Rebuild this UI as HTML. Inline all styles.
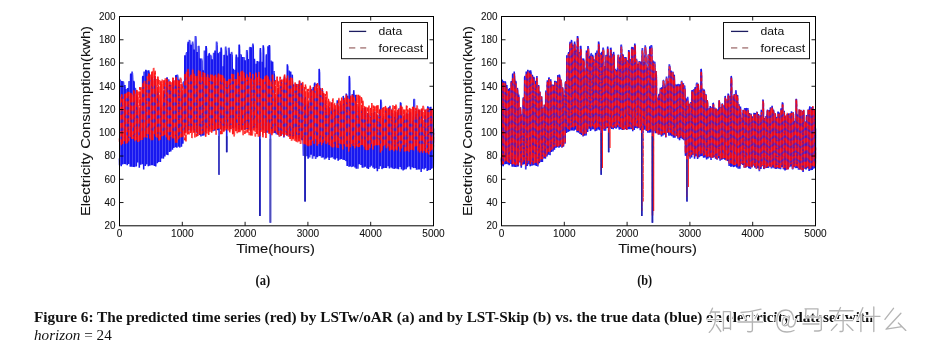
<!DOCTYPE html>
<html><head><meta charset="utf-8"><style>
html,body{margin:0;padding:0;background:#fff;width:932px;height:358px;overflow:hidden}
svg{display:block;will-change:transform}
.tk{font-family:"Liberation Sans",sans-serif;font-size:10px;fill:#111;stroke:#111;stroke-width:0.08px}
.al{font-family:"Liberation Sans",sans-serif;font-size:12.3px;fill:#111;stroke:#111;stroke-width:0.1px}
.lg{font-family:"Liberation Sans",sans-serif;font-size:11px;fill:#111}
.cap{font-family:"Liberation Serif",serif;font-size:15.2px;font-weight:bold;fill:#111}
.cap2{font-family:"Liberation Serif",serif;font-size:15.2px;fill:#111}
.sub{font-family:"Liberation Serif",serif;font-size:14px;font-weight:bold;fill:#111}
</style></head><body>
<svg width="932" height="358" viewBox="0 0 932 358">
<defs><path id="dat" d="M119.50 158.6L119.56 161.8 119.63 165.2 119.69 164.7 119.75 163.0 119.81 152.7 119.88 130.4 119.94 101.3 120.00 87.1 120.07 79.4 120.13 82.3 120.19 81.4 120.25 81.5 120.32 79.9 120.38 81.9 120.44 83.2 120.50 81.2 120.57 84.7 120.63 90.1 120.69 98.6 120.76 116.7 120.82 133.9 120.88 148.7 120.94 156.3 121.01 160.1 121.07 165.2 121.13 165.7 121.20 166.2 121.26 162.1 121.32 154.3 121.38 132.7 121.45 103.8 121.51 87.9 121.57 83.0 121.64 81.1 121.70 82.4 121.76 81.0 121.82 82.5 121.89 82.5 121.95 82.4 122.01 83.9 122.07 87.3 122.14 89.4 122.20 99.8 122.26 118.0 122.33 134.8 122.39 150.2 122.45 157.0 122.51 157.9 122.58 161.4 122.64 164.4 122.70 163.3 122.77 161.6 122.83 153.2 122.89 128.8 122.95 101.2 123.02 89.0 123.08 82.7 123.14 82.4 123.21 82.5 123.27 81.3 123.33 82.2 123.39 81.8 123.46 83.1 123.52 82.8 123.58 84.9 123.64 90.4 123.71 99.3 123.77 116.5 123.83 134.1 123.90 147.0 123.96 156.0 124.02 156.8 124.08 159.8 124.15 163.5 124.21 163.8 124.27 163.4 124.34 154.6 124.40 133.4 124.46 105.1 124.52 93.1 124.59 87.7 124.65 86.0 124.71 86.2 124.78 87.0 124.84 87.4 124.90 84.9 124.96 87.9 125.03 88.8 125.09 89.9 125.15 94.9 125.21 104.2 125.28 117.9 125.34 136.1 125.40 147.6 125.47 154.5 125.53 160.1 125.59 164.3 125.65 162.9 125.72 162.7 125.78 161.2 125.84 157.5 125.91 134.8 125.97 109.3 126.03 95.4 126.09 90.1 126.16 89.0 126.22 91.2 126.28 91.3 126.35 89.0 126.41 90.7 126.47 91.0 126.53 92.5 126.60 94.2 126.66 99.5 126.72 108.5 126.78 122.9 126.85 139.4 126.91 148.6 126.97 156.6 127.04 161.9 127.10 164.0 127.16 165.3 127.22 163.3 127.29 161.9 127.35 156.9 127.41 135.4 127.48 108.2 127.54 94.5 127.60 87.9 127.66 90.0 127.73 90.6 127.79 91.2 127.85 89.6 127.92 90.1 127.98 89.2 128.04 92.3 128.10 94.3 128.17 96.6 128.23 106.6 128.29 121.5 128.35 137.5 128.42 147.7 128.48 157.5 128.54 159.9 128.61 161.1 128.67 163.4 128.73 160.9 128.79 163.9 128.86 154.8 128.92 131.3 128.98 102.1 129.05 86.9 129.11 81.6 129.17 81.4 129.23 81.5 129.30 81.7 129.36 81.8 129.42 84.1 129.49 81.1 129.55 83.6 129.61 84.4 129.67 88.8 129.74 97.5 129.80 117.0 129.86 133.6 129.92 147.0 129.99 156.5 130.05 159.3 130.11 164.0 130.18 165.7 130.24 166.6 130.30 165.0 130.36 154.0 130.43 130.3 130.49 97.5 130.55 81.3 130.62 74.6 130.68 75.6 130.74 73.6 130.80 75.1 130.87 76.0 130.93 75.4 130.99 77.7 131.06 75.9 131.12 78.7 131.18 83.4 131.24 94.2 131.31 111.9 131.37 132.5 131.43 147.6 131.49 156.0 131.56 161.3 131.62 165.6 131.68 164.4 131.75 166.8 131.81 164.3 131.87 155.1 131.93 131.5 132.00 97.9 132.06 80.4 132.12 73.8 132.19 71.5 132.25 74.4 132.31 72.9 132.37 73.8 132.44 74.7 132.50 75.5 132.56 77.5 132.63 78.3 132.69 84.2 132.75 93.7 132.81 112.9 132.88 133.5 132.94 146.1 133.00 158.8 133.06 159.2 133.13 161.9 133.19 166.5 133.25 167.0 133.32 162.5 133.38 154.3 133.44 134.6 133.50 102.3 133.57 85.2 133.63 80.7 133.69 83.3 133.76 82.0 133.82 82.1 133.88 82.5 133.94 82.8 134.01 81.8 134.07 81.4 134.13 85.1 134.20 88.5 134.26 99.6 134.32 118.2 134.38 135.4 134.45 148.3 134.51 156.7 134.57 162.3 134.63 165.6 134.70 164.9 134.76 166.4 134.82 166.4 134.89 157.7 134.95 134.5 135.01 107.5 135.07 92.2 135.14 88.1 135.20 90.5 135.26 88.8 135.33 88.0 135.39 88.3 135.45 89.5 135.51 89.5 135.58 90.0 135.64 91.2 135.70 97.2 135.77 107.4 135.83 120.8 135.89 137.9 135.95 152.0 136.02 157.1 136.08 161.4 136.14 164.4 136.20 166.4 136.27 165.9 136.33 163.9 136.39 158.2 136.46 137.1 136.52 112.1 136.58 99.2 136.64 97.1 136.71 94.6 136.77 96.8 136.83 97.1 136.90 97.2 136.96 96.9 137.02 96.5 137.08 97.9 137.15 98.6 137.21 102.1 137.27 113.0 137.34 124.8 137.40 142.9 137.46 152.8 137.52 158.8 137.59 159.5 137.65 162.4 137.71 160.9 137.77 161.3 137.84 160.1 137.90 156.0 137.96 141.2 138.03 122.0 138.09 111.6 138.15 108.0 138.21 109.7 138.28 109.6 138.34 108.7 138.40 107.2 138.47 109.7 138.53 109.3 138.59 109.9 138.65 112.4 138.72 114.7 138.78 119.4 138.84 130.1 138.91 144.3 138.97 151.8 139.03 157.8 139.09 163.0 139.16 164.2 139.22 166.5 139.28 167.8 139.34 165.6 139.41 159.0 139.47 145.4 139.53 127.1 139.60 118.5 139.66 115.8 139.72 116.7 139.78 115.0 139.85 114.3 139.91 114.8 139.97 115.3 140.04 114.9 140.10 115.8 140.16 116.8 140.22 118.8 140.29 126.7 140.35 136.1 140.41 146.8 140.48 156.5 140.54 160.7 140.60 162.5 140.66 163.9 140.73 164.8 140.79 164.0 140.85 163.0 140.91 157.6 140.98 137.3 141.04 115.4 141.10 100.6 141.17 98.2 141.23 98.8 141.29 98.3 141.35 98.0 141.42 99.0 141.48 97.8 141.54 97.7 141.61 99.4 141.67 101.9 141.73 105.1 141.79 112.5 141.86 126.3 141.92 141.2 141.98 150.1 142.05 155.3 142.11 158.4 142.17 161.4 142.23 164.1 142.30 163.5 142.36 162.1 142.42 154.7 142.48 129.9 142.55 99.3 142.61 85.3 142.67 77.1 142.74 77.2 142.80 78.8 142.86 76.4 142.92 75.9 142.99 79.7 143.05 78.8 143.11 79.9 143.18 81.7 143.24 87.2 143.30 96.3 143.36 114.1 143.43 132.2 143.49 147.4 143.55 156.3 143.62 160.3 143.68 165.2 143.74 169.4 143.80 165.3 143.87 165.4 143.93 156.1 143.99 129.8 144.05 94.8 144.12 79.8 144.18 72.7 144.24 71.9 144.31 71.7 144.37 72.3 144.43 72.9 144.49 73.8 144.56 75.3 144.62 73.6 144.68 76.4 144.75 81.0 144.81 93.6 144.87 111.9 144.93 131.9 145.00 146.3 145.06 156.3 145.12 159.7 145.19 164.7 145.25 165.9 145.31 163.9 145.37 162.7 145.44 153.9 145.50 127.7 145.56 95.2 145.62 79.1 145.69 72.0 145.75 71.1 145.81 69.9 145.88 71.4 145.94 70.1 146.00 72.5 146.06 73.0 146.13 72.3 146.19 75.3 146.25 80.7 146.32 94.1 146.38 111.3 146.44 129.5 146.50 146.7 146.57 156.0 146.63 157.7 146.69 161.2 146.76 164.0 146.82 164.1 146.88 162.0 146.94 151.4 147.01 126.5 147.07 93.2 147.13 76.8 147.19 71.3 147.26 70.8 147.32 71.4 147.38 74.3 147.45 72.3 147.51 71.9 147.57 70.6 147.63 72.8 147.70 74.1 147.76 78.8 147.82 92.7 147.89 109.8 147.95 130.9 148.01 148.2 148.07 154.5 148.14 160.9 148.20 164.9 148.26 166.2 148.33 165.7 148.39 164.4 148.45 156.2 148.51 128.1 148.58 93.7 148.64 76.6 148.70 70.2 148.76 71.2 148.83 71.7 148.89 71.7 148.95 72.4 149.02 72.0 149.08 73.0 149.14 73.5 149.20 75.8 149.27 78.9 149.33 93.5 149.39 109.8 149.46 131.2 149.52 148.3 149.58 156.7 149.64 161.9 149.71 163.9 149.77 164.5 149.83 165.7 149.90 163.3 149.96 156.3 150.02 131.3 150.08 99.1 150.15 81.9 150.21 76.1 150.27 77.0 150.33 75.2 150.40 75.2 150.46 76.8 150.52 77.6 150.59 76.7 150.65 77.5 150.71 77.6 150.77 86.1 150.84 95.6 150.90 112.2 150.96 132.2 151.03 146.8 151.09 158.3 151.15 158.8 151.21 160.2 151.28 165.1 151.34 164.6 151.40 160.5 151.47 150.3 151.53 129.9 151.59 98.2 151.65 83.2 151.72 76.8 151.78 78.6 151.84 78.8 151.90 78.1 151.97 77.2 152.03 78.4 152.09 78.8 152.16 77.5 152.22 82.0 152.28 85.6 152.34 96.5 152.41 113.6 152.47 133.3 152.53 147.2 152.60 156.9 152.66 159.9 152.72 162.6 152.78 165.3 152.85 164.5 152.91 164.4 152.97 154.5 153.04 132.2 153.10 104.1 153.16 89.3 153.22 82.7 153.29 83.9 153.35 83.7 153.41 80.7 153.47 82.8 153.54 83.5 153.60 83.0 153.66 83.5 153.73 85.8 153.79 91.1 153.85 100.9 153.91 118.6 153.98 136.4 154.04 148.1 154.10 156.2 154.17 161.1 154.23 163.0 154.29 165.6 154.35 165.9 154.42 164.7 154.48 155.5 154.54 132.2 154.61 99.9 154.67 85.4 154.73 78.0 154.79 78.9 154.86 78.8 154.92 77.7 154.98 76.1 155.04 80.5 155.11 79.9 155.17 80.6 155.23 81.4 155.30 87.0 155.36 98.2 155.42 115.1 155.48 135.4 155.55 148.2 155.61 155.8 155.67 162.2 155.74 164.0 155.80 166.4 155.86 164.2 155.92 164.0 155.99 156.8 156.05 133.3 156.11 106.1 156.18 92.4 156.24 86.3 156.30 88.0 156.36 86.0 156.43 86.1 156.49 86.1 156.55 85.0 156.61 85.5 156.68 88.3 156.74 89.0 156.80 95.4 156.87 103.3 156.93 118.8 156.99 137.1 157.05 148.8 157.12 157.8 157.18 157.3 157.24 161.5 157.31 163.1 157.37 162.8 157.43 161.9 157.49 154.7 157.56 134.2 157.62 109.2 157.68 98.2 157.75 92.4 157.81 93.3 157.87 93.7 157.93 92.6 158.00 91.5 158.06 92.8 158.12 93.9 158.18 93.5 158.25 96.3 158.31 99.3 158.37 107.6 158.44 120.4 158.50 135.9 158.56 147.9 158.62 153.2 158.69 157.3 158.75 159.3 158.81 162.0 158.88 159.7 158.94 159.2 159.00 154.5 159.06 137.3 159.13 113.7 159.19 103.6 159.25 96.2 159.32 99.0 159.38 98.5 159.44 97.0 159.50 96.4 159.57 98.3 159.63 99.1 159.69 99.8 159.75 100.8 159.82 105.2 159.88 112.6 159.94 122.9 160.01 137.5 160.07 147.3 160.13 155.0 160.19 156.3 160.26 159.8 160.32 159.8 160.38 162.0 160.45 158.5 160.51 153.4 160.57 139.0 160.63 121.4 160.70 114.5 160.76 108.0 160.82 107.6 160.89 108.3 160.95 109.1 161.01 107.5 161.07 109.8 161.14 109.7 161.20 109.3 161.26 110.2 161.32 112.7 161.39 119.3 161.45 128.8 161.51 141.9 161.58 150.2 161.64 153.3 161.70 155.1 161.76 155.3 161.83 157.7 161.89 158.5 161.95 157.3 162.02 152.0 162.08 138.3 162.14 119.5 162.20 109.8 162.27 108.2 162.33 104.7 162.39 105.4 162.46 105.8 162.52 105.9 162.58 106.3 162.64 106.9 162.71 106.9 162.77 108.5 162.83 112.2 162.89 117.8 162.96 128.0 163.02 138.0 163.08 145.9 163.15 151.7 163.21 154.4 163.27 156.4 163.33 158.4 163.40 158.2 163.46 157.0 163.52 148.5 163.59 132.3 163.65 109.1 163.71 98.7 163.77 92.7 163.84 92.4 163.90 92.0 163.96 92.3 164.03 90.5 164.09 92.5 164.15 92.7 164.21 94.4 164.28 94.0 164.34 98.7 164.40 108.1 164.46 118.6 164.53 134.0 164.59 142.9 164.65 149.7 164.72 152.5 164.78 155.8 164.84 155.9 164.90 155.4 164.97 156.4 165.03 147.6 165.09 127.3 165.16 101.3 165.22 87.8 165.28 81.6 165.34 81.7 165.41 80.3 165.47 82.0 165.53 81.4 165.60 82.5 165.66 84.4 165.72 84.0 165.78 84.8 165.85 87.9 165.91 98.9 165.97 114.5 166.03 128.4 166.10 141.5 166.16 147.9 166.22 150.5 166.29 153.3 166.35 153.6 166.41 154.6 166.47 152.0 166.54 147.2 166.60 125.3 166.66 97.4 166.73 83.8 166.79 78.2 166.85 78.3 166.91 78.3 166.98 77.9 167.04 77.9 167.10 77.5 167.17 77.9 167.23 79.0 167.29 81.4 167.35 85.4 167.42 96.8 167.48 110.1 167.54 126.7 167.60 139.7 167.67 147.9 167.73 152.8 167.79 154.9 167.86 154.8 167.92 155.2 167.98 154.9 168.04 146.7 168.11 126.3 168.17 99.5 168.23 87.7 168.30 82.4 168.36 82.1 168.42 81.1 168.48 79.4 168.55 79.6 168.61 82.0 168.67 82.4 168.74 79.6 168.80 83.5 168.86 89.5 168.92 98.2 168.99 111.5 169.05 128.8 169.11 139.9 169.17 146.9 169.24 149.5 169.30 152.0 169.36 151.6 169.43 151.1 169.49 149.3 169.55 142.4 169.61 126.5 169.68 103.8 169.74 90.3 169.80 86.5 169.87 84.8 169.93 85.4 169.99 86.3 170.05 85.7 170.12 86.0 170.18 84.5 170.24 85.3 170.31 87.6 170.37 91.4 170.43 99.6 170.49 111.9 170.56 126.5 170.62 136.9 170.68 143.7 170.74 147.1 170.81 149.0 170.87 150.5 170.93 151.5 171.00 149.0 171.06 141.6 171.12 123.2 171.18 101.7 171.25 90.3 171.31 86.4 171.37 84.9 171.44 86.5 171.50 84.8 171.56 84.9 171.62 85.3 171.69 86.3 171.75 87.5 171.81 87.7 171.88 91.1 171.94 97.8 172.00 112.3 172.06 125.9 172.13 136.3 172.19 142.2 172.25 143.9 172.31 147.0 172.38 149.2 172.44 149.7 172.50 147.4 172.57 140.9 172.63 121.6 172.69 98.1 172.75 84.8 172.82 82.2 172.88 82.0 172.94 82.8 173.01 80.8 173.07 81.5 173.13 81.1 173.19 82.3 173.26 82.6 173.32 84.7 173.38 87.9 173.45 96.7 173.51 109.0 173.57 124.8 173.63 134.7 173.70 141.2 173.76 145.1 173.82 148.0 173.88 147.6 173.95 147.5 174.01 147.8 174.07 140.8 174.14 120.2 174.20 97.0 174.26 85.9 174.32 82.2 174.39 82.1 174.45 82.9 174.51 83.1 174.58 84.2 174.64 81.2 174.70 82.6 174.76 84.3 174.83 83.4 174.89 87.2 174.95 96.8 175.02 111.0 175.08 125.8 175.14 133.5 175.20 140.7 175.27 142.5 175.33 144.9 175.39 147.1 175.45 146.9 175.52 147.1 175.58 138.2 175.64 118.8 175.71 94.1 175.77 82.5 175.83 75.4 175.89 76.8 175.96 75.7 176.02 75.1 176.08 77.6 176.15 77.7 176.21 78.5 176.27 78.1 176.33 79.9 176.40 83.6 176.46 92.4 176.52 105.5 176.59 122.9 176.65 131.5 176.71 141.0 176.77 142.8 176.84 146.6 176.90 147.3 176.96 147.6 177.02 147.2 177.09 138.8 177.15 118.1 177.21 94.6 177.28 82.4 177.34 74.5 177.40 77.8 177.46 77.9 177.53 75.1 177.59 76.7 177.65 78.4 177.72 76.4 177.78 77.8 177.84 79.3 177.90 84.4 177.97 93.3 178.03 106.2 178.09 121.6 178.16 133.6 178.22 140.2 178.28 142.7 178.34 146.7 178.41 145.2 178.47 146.8 178.53 144.9 178.59 138.2 178.66 120.6 178.72 97.6 178.78 88.3 178.85 81.9 178.91 81.6 178.97 82.9 179.03 82.3 179.10 79.5 179.16 82.1 179.22 82.7 179.29 82.0 179.35 84.2 179.41 87.3 179.47 95.9 179.54 106.9 179.60 120.8 179.66 132.5 179.73 139.7 179.79 144.6 179.85 145.3 179.91 146.0 179.98 147.6 180.04 145.5 180.10 141.5 180.16 123.4 180.23 101.3 180.29 92.0 180.35 87.8 180.42 87.4 180.48 88.0 180.54 88.1 180.60 88.5 180.67 88.8 180.73 89.7 180.79 90.3 180.86 91.2 180.92 94.7 180.98 99.5 181.04 111.2 181.11 124.6 181.17 134.9 181.23 138.9 181.30 141.5 181.36 144.1 181.42 146.7 181.48 145.0 181.55 143.2 181.61 139.9 181.67 125.4 181.73 107.8 181.80 100.4 181.86 95.0 181.92 96.1 181.99 96.0 182.05 96.8 182.11 94.8 182.17 95.1 182.24 96.0 182.30 96.6 182.36 97.9 182.43 100.4 182.49 107.0 182.55 116.9 182.61 127.0 182.68 133.4 182.74 140.4 182.80 137.9 182.87 141.6 182.93 143.8 182.99 142.3 183.05 143.0 183.12 137.5 183.18 120.3 183.24 98.1 183.30 87.8 183.37 82.1 183.43 83.0 183.49 83.0 183.56 82.7 183.62 82.7 183.68 83.0 183.74 81.2 183.81 84.1 183.87 85.1 183.93 90.1 184.00 95.0 184.06 104.4 184.12 115.8 184.18 122.5 184.25 125.5 184.31 126.5 184.37 128.4 184.44 131.4 184.50 132.9 184.56 127.9 184.62 121.4 184.69 102.3 184.75 75.7 184.81 62.6 184.87 55.2 184.94 56.4 185.00 57.5 185.06 57.6 185.13 57.3 185.19 56.9 185.25 58.3 185.31 57.3 185.38 59.0 185.44 63.2 185.50 74.7 185.57 87.6 185.63 104.3 185.69 113.9 185.75 124.5 185.82 126.3 185.88 127.2 185.94 128.8 186.01 132.0 186.07 127.9 186.13 122.9 186.19 99.0 186.26 70.1 186.32 59.8 186.38 53.8 186.44 54.0 186.51 52.8 186.57 53.1 186.63 54.3 186.70 53.2 186.76 52.1 186.82 55.7 186.88 55.8 186.95 62.2 187.01 69.7 187.07 85.1 187.14 102.1 187.20 112.3 187.26 123.5 187.32 124.1 187.39 128.0 187.45 131.3 187.51 130.0 187.58 129.0 187.64 119.8 187.70 96.2 187.76 65.7 187.83 51.2 187.89 43.8 187.95 44.5 188.01 43.3 188.08 45.2 188.14 41.8 188.20 45.0 188.27 45.2 188.33 46.1 188.39 47.4 188.45 53.9 188.52 64.9 188.58 79.3 188.64 96.8 188.71 111.3 188.77 120.1 188.83 124.0 188.89 127.6 188.96 130.5 189.02 128.9 189.08 127.6 189.15 119.0 189.21 93.5 189.27 63.5 189.33 50.9 189.40 42.0 189.46 41.1 189.52 39.9 189.58 43.1 189.65 41.7 189.71 42.3 189.77 45.4 189.84 45.2 189.90 43.8 189.96 50.4 190.02 62.3 190.09 79.6 190.15 97.0 190.21 113.9 190.28 122.7 190.34 123.7 190.40 126.4 190.46 128.4 190.53 130.5 190.59 129.3 190.65 120.1 190.72 96.0 190.78 67.4 190.84 53.0 190.90 45.4 190.97 44.9 191.03 46.6 191.09 47.9 191.15 46.8 191.22 47.7 191.28 46.8 191.34 49.2 191.41 48.3 191.47 55.0 191.53 64.5 191.59 81.7 191.66 99.4 191.72 114.5 191.78 122.1 191.85 124.8 191.91 129.4 191.97 130.6 192.03 130.2 192.10 128.4 192.16 121.1 192.22 94.9 192.29 64.9 192.35 49.1 192.41 43.5 192.47 43.0 192.54 45.4 192.60 41.5 192.66 43.8 192.72 44.1 192.79 45.2 192.85 43.4 192.91 48.0 192.98 50.6 193.04 63.3 193.10 80.7 193.16 99.7 193.23 113.0 193.29 121.8 193.35 125.8 193.42 128.2 193.48 128.6 193.54 128.8 193.60 129.8 193.67 121.9 193.73 99.2 193.79 70.7 193.86 56.7 193.92 51.2 193.98 50.9 194.04 49.9 194.11 50.0 194.17 49.5 194.23 51.6 194.29 50.5 194.36 52.1 194.42 55.2 194.48 58.4 194.55 69.4 194.61 86.1 194.67 100.4 194.73 113.8 194.80 123.8 194.86 125.1 194.92 130.1 194.99 132.2 195.05 131.0 195.11 130.5 195.17 122.0 195.24 94.6 195.30 59.6 195.36 43.2 195.43 36.2 195.49 38.3 195.55 36.5 195.61 36.0 195.68 36.8 195.74 38.2 195.80 37.3 195.86 38.7 195.93 40.5 195.99 47.0 196.05 58.7 196.12 77.1 196.18 97.4 196.24 113.6 196.30 121.9 196.37 128.1 196.43 130.6 196.49 132.1 196.56 129.4 196.62 132.7 196.68 123.9 196.74 101.5 196.81 72.6 196.87 58.9 196.93 55.5 197.00 52.0 197.06 53.4 197.12 53.3 197.18 52.8 197.25 53.8 197.31 52.5 197.37 54.9 197.43 54.6 197.50 62.5 197.56 71.1 197.62 85.4 197.69 101.7 197.75 116.7 197.81 125.2 197.87 127.2 197.94 133.5 198.00 133.8 198.06 133.1 198.13 130.5 198.19 123.0 198.25 98.5 198.31 68.6 198.38 53.3 198.44 46.1 198.50 46.5 198.57 47.5 198.63 46.7 198.69 45.8 198.75 47.6 198.82 46.4 198.88 48.3 198.94 49.6 199.00 53.8 199.07 66.0 199.13 83.1 199.19 103.1 199.26 115.1 199.32 126.3 199.38 131.4 199.44 132.9 199.51 134.7 199.57 134.8 199.63 133.3 199.70 126.6 199.76 104.1 199.82 77.4 199.88 64.8 199.95 61.7 200.01 59.4 200.07 58.8 200.14 58.9 200.20 59.9 200.26 61.7 200.32 59.8 200.39 61.5 200.45 63.0 200.51 67.8 200.57 76.5 200.64 92.4 200.70 108.6 200.76 119.3 200.83 129.9 200.89 129.5 200.95 132.6 201.01 136.5 201.08 135.7 201.14 133.7 201.20 126.6 201.27 105.8 201.33 78.1 201.39 64.2 201.45 58.4 201.52 58.6 201.58 58.7 201.64 60.6 201.71 59.8 201.77 60.8 201.83 59.7 201.89 62.1 201.96 61.0 202.02 67.6 202.08 76.9 202.14 90.9 202.21 107.2 202.27 121.0 202.33 127.4 202.40 130.3 202.46 133.8 202.52 133.9 202.58 134.9 202.65 135.7 202.71 126.7 202.77 110.0 202.84 85.5 202.90 75.1 202.96 70.3 203.02 70.4 203.09 71.3 203.15 72.7 203.21 70.4 203.28 72.5 203.34 71.5 203.40 72.6 203.46 72.6 203.53 76.2 203.59 84.3 203.65 96.4 203.71 111.0 203.78 120.0 203.84 127.3 203.90 129.1 203.97 134.0 204.03 135.4 204.09 134.2 204.15 131.5 204.22 124.4 204.28 101.9 204.34 72.5 204.41 57.2 204.47 50.6 204.53 52.4 204.59 54.3 204.66 52.2 204.72 52.8 204.78 53.6 204.85 53.7 204.91 54.8 204.97 53.6 205.03 60.3 205.10 70.4 205.16 86.0 205.22 104.9 205.28 116.0 205.35 125.3 205.41 128.6 205.47 129.9 205.54 131.8 205.60 131.4 205.66 130.7 205.72 119.3 205.79 96.2 205.85 67.7 205.91 53.6 205.98 47.4 206.04 46.0 206.10 48.5 206.16 47.0 206.23 46.2 206.29 48.2 206.35 49.0 206.42 48.5 206.48 48.7 206.54 54.7 206.60 65.4 206.67 83.0 206.73 99.4 206.79 114.0 206.85 120.8 206.92 125.1 206.98 126.5 207.04 128.8 207.11 127.8 207.17 126.9 207.23 118.9 207.29 98.1 207.36 75.7 207.42 62.5 207.48 56.7 207.55 55.9 207.61 57.7 207.67 56.0 207.73 56.7 207.80 58.1 207.86 57.2 207.92 59.2 207.99 59.0 208.05 63.4 208.11 72.4 208.17 85.8 208.24 101.9 208.30 115.4 208.36 120.2 208.42 126.4 208.49 128.5 208.55 130.9 208.61 130.5 208.68 128.8 208.74 122.5 208.80 99.7 208.86 73.5 208.93 61.2 208.99 54.2 209.05 56.0 209.12 55.5 209.18 54.4 209.24 53.6 209.30 53.6 209.37 57.5 209.43 54.9 209.49 56.6 209.56 63.2 209.62 71.8 209.68 86.5 209.74 102.8 209.81 114.2 209.87 121.2 209.93 123.0 209.99 127.3 210.06 129.2 210.12 129.3 210.18 126.6 210.25 117.1 210.31 99.4 210.37 73.2 210.43 57.5 210.50 56.4 210.56 55.3 210.62 55.0 210.69 55.2 210.75 55.2 210.81 56.0 210.87 55.9 210.94 56.5 211.00 58.5 211.06 62.7 211.13 73.5 211.19 85.9 211.25 101.3 211.31 112.9 211.38 121.1 211.44 124.9 211.50 127.8 211.56 128.7 211.63 128.7 211.69 128.3 211.75 122.1 211.82 101.9 211.88 77.6 211.94 64.2 212.00 59.4 212.07 60.6 212.13 60.3 212.19 60.5 212.26 59.5 212.32 61.1 212.38 59.3 212.44 60.7 212.51 62.5 212.57 68.0 212.63 75.0 212.70 88.3 212.76 104.5 212.82 115.0 212.88 122.9 212.95 126.3 213.01 129.2 213.07 130.3 213.13 131.2 213.20 128.3 213.26 120.0 213.32 101.4 213.39 73.8 213.45 60.9 213.51 56.2 213.57 56.6 213.64 52.7 213.70 54.5 213.76 56.8 213.83 54.6 213.89 56.8 213.95 56.7 214.01 57.7 214.08 62.9 214.14 70.3 214.20 87.4 214.27 104.6 214.33 114.0 214.39 122.2 214.45 125.9 214.52 128.2 214.58 129.0 214.64 130.7 214.70 126.1 214.77 119.8 214.83 98.6 214.89 71.2 214.96 58.4 215.02 50.6 215.08 52.3 215.14 51.5 215.21 53.5 215.27 53.3 215.33 52.3 215.40 51.9 215.46 53.8 215.52 54.5 215.58 59.4 215.65 69.6 215.71 84.1 215.77 103.3 215.84 113.9 215.90 121.0 215.96 122.0 216.02 126.0 216.09 129.4 216.15 128.8 216.21 128.0 216.27 119.4 216.34 94.8 216.40 63.8 216.46 49.0 216.53 43.3 216.59 41.6 216.65 43.6 216.71 42.2 216.78 43.2 216.84 43.6 216.90 44.7 216.97 47.6 217.03 45.4 217.09 51.7 217.15 64.0 217.22 78.0 217.28 97.4 217.34 111.1 217.41 120.0 217.47 121.5 217.53 126.4 217.59 128.1 217.66 130.1 217.72 126.0 217.78 118.1 217.84 98.1 217.91 69.6 217.97 59.3 218.03 55.3 218.10 53.7 218.16 53.7 218.22 53.5 218.28 53.9 218.35 53.3 218.41 56.1 218.47 54.8 218.54 56.3 218.60 62.8 218.66 70.0 218.72 84.3 218.79 102.6 218.85 112.9 218.91 121.0 218.98 123.8 219.04 125.6 219.10 129.1 219.16 174.8 219.23 126.9 219.29 120.2 219.35 99.3 219.41 72.2 219.48 58.3 219.54 53.7 219.60 53.2 219.67 52.4 219.73 54.0 219.79 53.8 219.85 54.1 219.92 54.4 219.98 51.8 220.04 56.3 220.11 60.6 220.17 67.7 220.23 86.9 220.29 101.9 220.36 113.2 220.42 120.9 220.48 125.1 220.55 128.1 220.61 128.1 220.67 129.3 220.73 128.6 220.80 120.6 220.86 98.1 220.92 67.6 220.98 53.4 221.05 48.8 221.11 47.8 221.17 48.6 221.24 47.5 221.30 49.0 221.36 49.3 221.42 49.8 221.49 50.1 221.55 50.9 221.61 55.3 221.68 66.3 221.74 81.9 221.80 98.9 221.86 112.9 221.93 122.3 221.99 126.8 222.05 128.8 222.12 130.7 222.18 128.9 222.24 127.9 222.30 120.9 222.37 103.7 222.43 84.3 222.49 71.9 222.55 67.8 222.62 69.7 222.68 69.1 222.74 66.3 222.81 68.1 222.87 67.0 222.93 68.8 222.99 66.5 223.06 68.7 223.12 72.4 223.18 82.8 223.25 91.4 223.31 108.0 223.37 117.9 223.43 123.1 223.50 126.0 223.56 130.7 223.62 129.8 223.69 129.3 223.75 129.5 223.81 121.5 223.87 99.0 223.94 74.7 224.00 61.6 224.06 55.0 224.12 55.2 224.19 55.5 224.25 55.0 224.31 56.7 224.38 57.2 224.44 54.7 224.50 57.2 224.56 59.3 224.63 62.1 224.69 72.0 224.75 87.2 224.82 101.3 224.88 114.5 224.94 119.7 225.00 125.3 225.07 127.0 225.13 127.9 225.19 127.5 225.26 126.0 225.32 121.0 225.38 96.3 225.44 68.5 225.51 54.2 225.57 47.5 225.63 49.8 225.69 46.5 225.76 49.9 225.82 48.2 225.88 49.9 225.95 50.1 226.01 51.5 226.07 50.9 226.13 57.6 226.20 66.6 226.26 82.5 226.32 100.0 226.39 114.3 226.45 121.6 226.51 126.0 226.57 128.5 226.64 127.0 226.70 152.2 226.76 128.6 226.83 119.4 226.89 98.4 226.95 72.5 227.01 63.8 227.08 55.8 227.14 56.9 227.20 55.6 227.26 57.2 227.33 58.4 227.39 56.0 227.45 57.4 227.52 57.4 227.58 57.7 227.64 63.0 227.70 72.6 227.77 88.3 227.83 104.2 227.89 114.4 227.96 120.0 228.02 123.5 228.08 126.0 228.14 127.6 228.21 126.4 228.27 125.8 228.33 120.1 228.40 97.3 228.46 69.3 228.52 54.4 228.58 47.8 228.65 48.2 228.71 48.3 228.77 48.6 228.83 47.8 228.90 48.1 228.96 50.1 229.02 49.4 229.09 52.2 229.15 55.9 229.21 66.3 229.27 82.0 229.34 99.7 229.40 112.3 229.46 118.6 229.53 121.5 229.59 125.8 229.65 129.0 229.71 126.4 229.78 124.9 229.84 120.9 229.90 96.8 229.97 72.5 230.03 59.6 230.09 54.3 230.15 54.3 230.22 56.1 230.28 55.2 230.34 55.2 230.40 54.0 230.47 56.5 230.53 56.6 230.59 58.0 230.66 63.1 230.72 71.2 230.78 85.3 230.84 101.6 230.91 112.0 230.97 119.0 231.03 123.1 231.10 128.4 231.16 128.3 231.22 129.1 231.28 128.6 231.35 121.7 231.41 98.3 231.47 72.3 231.54 58.6 231.60 51.9 231.66 52.8 231.72 56.1 231.79 53.2 231.85 55.1 231.91 54.8 231.97 55.8 232.04 56.1 232.10 56.5 232.16 59.6 232.23 71.4 232.29 85.8 232.35 102.2 232.41 114.7 232.48 120.6 232.54 125.6 232.60 127.8 232.67 127.4 232.73 127.7 232.79 127.6 232.85 119.7 232.92 106.4 232.98 86.0 233.04 74.7 233.11 71.0 233.17 68.8 233.23 70.9 233.29 71.5 233.36 71.2 233.42 72.2 233.48 71.2 233.54 73.9 233.61 73.5 233.67 77.3 233.73 84.6 233.80 94.4 233.86 106.8 233.92 118.1 233.98 121.9 234.05 124.9 234.11 128.8 234.17 127.8 234.24 128.0 234.30 126.6 234.36 121.1 234.42 108.2 234.49 86.9 234.55 77.2 234.61 70.2 234.68 69.7 234.74 71.0 234.80 73.3 234.86 73.4 234.93 70.7 234.99 71.0 235.05 74.0 235.11 74.7 235.18 78.3 235.24 85.4 235.30 95.0 235.37 108.7 235.43 117.3 235.49 124.6 235.55 121.1 235.62 122.3 235.68 126.9 235.74 127.4 235.81 125.2 235.87 117.0 235.93 97.0 235.99 74.8 236.06 60.8 236.12 57.1 236.18 57.3 236.25 56.4 236.31 54.5 236.37 57.0 236.43 56.2 236.50 55.6 236.56 57.9 236.62 59.4 236.68 63.3 236.75 72.4 236.81 83.6 236.87 101.3 236.94 113.5 237.00 118.6 237.06 123.7 237.12 126.8 237.19 129.6 237.25 128.2 237.31 126.2 237.38 118.3 237.44 101.9 237.50 77.5 237.56 63.4 237.63 60.7 237.69 58.1 237.75 59.3 237.82 57.2 237.88 57.5 237.94 59.2 238.00 59.7 238.07 60.6 238.13 60.4 238.19 65.0 238.25 73.8 238.32 87.6 238.38 103.0 238.44 115.3 238.51 122.6 238.57 121.9 238.63 128.4 238.69 128.9 238.76 129.1 238.82 127.4 238.88 119.8 238.95 96.4 239.01 65.2 239.07 52.7 239.13 44.9 239.20 46.5 239.26 46.3 239.32 44.5 239.39 46.1 239.45 46.6 239.51 46.2 239.57 49.8 239.64 49.5 239.70 54.0 239.76 66.0 239.82 80.8 239.89 98.9 239.95 110.2 240.01 121.1 240.08 125.5 240.14 129.3 240.20 127.8 240.26 129.9 240.33 128.8 240.39 120.8 240.45 99.6 240.52 72.3 240.58 61.0 240.64 55.1 240.70 53.9 240.77 56.3 240.83 55.6 240.89 55.5 240.96 58.4 241.02 55.9 241.08 55.0 241.14 56.4 241.21 63.5 241.27 71.6 241.33 85.7 241.39 100.4 241.46 113.4 241.52 120.4 241.58 124.9 241.65 126.9 241.71 128.3 241.77 129.2 241.83 127.0 241.90 121.0 241.96 97.3 242.02 74.7 242.09 64.4 242.15 58.4 242.21 57.1 242.27 58.0 242.34 57.6 242.40 57.8 242.46 60.3 242.53 58.5 242.59 59.8 242.65 60.2 242.71 64.5 242.78 72.2 242.84 87.4 242.90 103.2 242.96 114.7 243.03 122.2 243.09 123.9 243.15 127.2 243.22 127.7 243.28 129.2 243.34 127.1 243.40 121.0 243.47 100.2 243.53 77.3 243.59 63.7 243.66 57.1 243.72 58.7 243.78 58.6 243.84 57.3 243.91 57.7 243.97 58.8 244.03 61.7 244.10 60.4 244.16 63.4 244.22 66.6 244.28 75.1 244.35 88.6 244.41 101.5 244.47 115.4 244.53 120.0 244.60 124.6 244.66 126.7 244.72 129.8 244.79 129.4 244.85 128.7 244.91 120.7 244.97 101.5 245.04 78.9 245.10 68.5 245.16 61.9 245.23 61.5 245.29 60.2 245.35 60.7 245.41 61.3 245.48 62.8 245.54 62.7 245.60 62.7 245.67 64.2 245.73 69.6 245.79 78.0 245.85 90.7 245.92 105.7 245.98 116.1 246.04 123.4 246.10 122.5 246.17 126.4 246.23 128.7 246.29 128.9 246.36 128.3 246.42 117.2 246.48 97.4 246.54 70.1 246.61 55.1 246.67 50.2 246.73 51.3 246.80 50.8 246.86 50.2 246.92 50.5 246.98 51.0 247.05 52.0 247.11 51.8 247.17 54.4 247.24 57.6 247.30 67.5 247.36 82.0 247.42 100.2 247.49 113.7 247.55 119.7 247.61 123.8 247.67 127.0 247.74 127.9 247.80 129.1 247.86 125.6 247.93 121.0 247.99 102.6 248.05 79.3 248.11 65.4 248.18 59.9 248.24 59.1 248.30 61.4 248.37 61.5 248.43 61.0 248.49 61.7 248.55 62.1 248.62 61.7 248.68 61.9 248.74 66.0 248.81 74.8 248.87 88.2 248.93 102.4 248.99 114.3 249.06 120.5 249.12 124.2 249.18 126.7 249.24 129.1 249.31 127.0 249.37 125.6 249.43 117.1 249.50 96.5 249.56 71.2 249.62 53.9 249.68 47.6 249.75 48.2 249.81 48.0 249.87 49.0 249.94 48.0 250.00 47.9 250.06 46.9 250.12 50.0 250.19 52.3 250.25 56.2 250.31 64.8 250.38 81.3 250.44 99.1 250.50 112.9 250.56 120.3 250.63 125.8 250.69 127.7 250.75 128.8 250.81 131.3 250.88 126.9 250.94 119.1 251.00 99.7 251.07 70.0 251.13 57.2 251.19 47.3 251.25 51.1 251.32 49.8 251.38 49.9 251.44 50.3 251.51 47.8 251.57 49.7 251.63 51.8 251.69 56.2 251.76 57.0 251.82 69.7 251.88 83.9 251.95 101.8 252.01 112.6 252.07 122.1 252.13 122.7 252.20 125.7 252.26 129.9 252.32 127.9 252.38 126.4 252.45 119.2 252.51 94.2 252.57 64.3 252.64 50.7 252.70 44.9 252.76 46.1 252.82 43.5 252.89 45.3 252.95 45.3 253.01 45.0 253.08 45.3 253.14 46.3 253.20 46.9 253.26 51.7 253.33 63.8 253.39 78.8 253.45 97.4 253.52 112.6 253.58 119.7 253.64 124.4 253.70 126.1 253.77 127.6 253.83 127.5 253.89 126.1 253.95 122.0 254.02 100.7 254.08 75.4 254.14 64.4 254.21 61.4 254.27 59.6 254.33 60.7 254.39 59.8 254.46 58.9 254.52 60.8 254.58 60.4 254.65 62.2 254.71 64.1 254.77 67.5 254.83 78.4 254.90 88.3 254.96 105.7 255.02 115.7 255.09 123.5 255.15 124.3 255.21 124.0 255.27 127.2 255.34 128.5 255.40 126.3 255.46 118.7 255.52 102.0 255.59 81.0 255.65 70.7 255.71 64.5 255.78 65.2 255.84 64.1 255.90 63.9 255.96 64.5 256.03 67.1 256.09 66.4 256.15 66.0 256.22 67.5 256.28 71.9 256.34 78.7 256.40 90.9 256.47 104.7 256.53 115.7 256.59 120.9 256.66 125.0 256.72 125.0 256.78 127.4 256.84 127.8 256.91 127.5 256.97 119.3 257.03 101.2 257.09 78.8 257.16 66.5 257.22 61.3 257.28 61.6 257.35 61.0 257.41 62.8 257.47 62.4 257.53 63.5 257.60 64.9 257.66 64.5 257.72 65.1 257.79 68.5 257.85 78.8 257.91 90.1 257.97 104.2 258.04 116.3 258.10 122.1 258.16 124.1 258.23 127.4 258.29 130.3 258.35 128.5 258.41 127.4 258.48 119.6 258.54 101.4 258.60 79.6 258.66 66.7 258.73 62.3 258.79 63.3 258.85 61.9 258.92 63.8 258.98 61.6 259.04 62.1 259.10 62.1 259.17 62.0 259.23 65.4 259.29 68.8 259.36 78.1 259.42 89.3 259.48 105.4 259.54 116.5 259.61 121.6 259.67 123.4 259.73 124.2 259.80 130.2 259.86 216.0 259.92 127.4 259.98 118.3 260.05 97.3 260.11 68.4 260.17 56.2 260.23 50.0 260.30 49.6 260.36 50.4 260.42 48.1 260.49 50.1 260.55 50.3 260.61 52.2 260.67 52.3 260.74 52.9 260.80 57.5 260.86 70.2 260.93 81.9 260.99 102.1 261.05 113.6 261.11 121.4 261.18 124.2 261.24 129.7 261.30 129.7 261.37 129.3 261.43 129.5 261.49 121.5 261.55 103.9 261.62 78.8 261.68 68.2 261.74 63.3 261.80 62.0 261.87 61.9 261.93 62.2 261.99 62.3 262.06 62.9 262.12 65.4 262.18 64.6 262.24 65.2 262.31 69.3 262.37 76.9 262.43 91.5 262.50 106.1 262.56 116.4 262.62 123.1 262.68 124.3 262.75 127.0 262.81 129.8 262.87 128.8 262.94 128.6 263.00 119.5 263.06 97.0 263.12 66.8 263.19 50.5 263.25 45.2 263.31 46.3 263.37 46.9 263.44 47.0 263.50 47.1 263.56 48.1 263.63 47.8 263.69 48.7 263.75 49.7 263.81 55.5 263.88 64.8 263.94 81.6 264.00 100.2 264.07 115.7 264.13 120.3 264.19 126.1 264.25 128.8 264.32 130.8 264.38 130.4 264.44 130.8 264.51 121.3 264.57 107.2 264.63 82.3 264.69 71.6 264.76 68.5 264.82 68.0 264.88 67.9 264.94 68.0 265.01 68.4 265.07 69.6 265.13 69.0 265.20 68.0 265.26 69.7 265.32 75.6 265.38 83.7 265.45 95.3 265.51 109.2 265.57 118.5 265.64 126.6 265.70 125.9 265.76 129.2 265.82 130.3 265.89 132.7 265.95 129.1 266.01 122.5 266.08 99.4 266.14 72.6 266.20 61.4 266.26 55.8 266.33 55.9 266.39 55.3 266.45 54.8 266.51 54.6 266.58 54.7 266.64 55.4 266.70 57.9 266.77 58.0 266.83 61.4 266.89 71.6 266.95 86.2 267.02 102.8 267.08 116.1 267.14 123.1 267.21 124.8 267.27 130.8 267.33 132.7 267.39 131.1 267.46 130.8 267.52 120.7 267.58 98.2 267.65 70.8 267.71 55.1 267.77 49.8 267.83 46.3 267.90 49.3 267.96 48.6 268.02 48.9 268.08 48.3 268.15 49.1 268.21 51.3 268.27 52.9 268.34 58.0 268.40 68.0 268.46 84.7 268.52 102.1 268.59 114.7 268.65 122.6 268.71 126.8 268.78 129.8 268.84 131.5 268.90 132.4 268.96 128.5 269.03 120.9 269.09 96.9 269.15 67.8 269.22 52.7 269.28 45.8 269.34 45.5 269.40 45.0 269.47 46.6 269.53 46.2 269.59 45.7 269.65 46.4 269.72 47.7 269.78 49.9 269.84 53.9 269.91 66.2 269.97 83.4 270.03 101.0 270.09 115.2 270.16 123.3 270.22 126.7 270.28 130.7 270.35 133.3 270.41 222.8 270.47 130.7 270.53 123.1 270.60 103.0 270.66 79.3 270.72 65.6 270.79 61.9 270.85 61.0 270.91 61.4 270.97 60.6 271.04 63.2 271.10 63.0 271.16 62.0 271.22 61.7 271.29 64.6 271.35 69.0 271.41 75.7 271.48 91.1 271.54 108.7 271.60 118.3 271.66 124.8 271.73 127.1 271.79 131.1 271.85 130.2 271.92 130.3 271.98 129.1 272.04 122.6 272.10 104.4 272.17 79.5 272.23 64.6 272.29 62.4 272.36 62.4 272.42 62.6 272.48 62.3 272.54 61.9 272.61 63.2 272.67 62.0 272.73 61.7 272.79 64.4 272.86 67.8 272.92 78.9 272.98 90.9 273.05 107.7 273.11 115.9 273.17 123.0 273.23 130.6 273.30 131.0 273.36 133.3 273.42 132.0 273.49 133.2 273.55 124.8 273.61 109.1 273.67 85.7 273.74 76.8 273.80 73.0 273.86 72.1 273.93 71.0 273.99 72.4 274.05 72.9 274.11 73.4 274.18 73.9 274.24 75.1 274.30 74.7 274.36 77.9 274.43 85.0 274.49 98.1 274.55 111.6 274.62 121.3 274.68 128.4 274.74 132.9 274.80 131.5 274.87 132.5 274.93 132.6 274.99 131.3 275.06 130.0 275.12 119.2 275.18 108.1 275.24 99.7 275.31 99.5 275.37 98.8 275.43 97.5 275.50 99.8 275.56 99.9 275.62 99.5 275.68 99.8 275.75 98.7 275.81 101.4 275.87 102.1 275.93 107.0 276.00 114.0 276.06 121.4 276.12 125.7 276.19 130.2 276.25 131.4 276.31 133.9 276.37 132.8 276.44 134.5 276.50 133.3 276.56 129.1 276.63 120.2 276.69 105.8 276.75 97.6 276.81 95.8 276.88 94.7 276.94 94.3 277.00 95.0 277.07 95.0 277.13 97.6 277.19 96.6 277.25 93.8 277.32 96.8 277.38 98.6 277.44 103.8 277.50 111.7 277.57 120.0 277.63 126.6 277.69 129.2 277.76 132.1 277.82 132.3 277.88 134.6 277.94 133.3 278.01 133.0 278.07 127.1 278.13 116.8 278.20 100.6 278.26 91.9 278.32 89.6 278.38 89.7 278.45 87.7 278.51 88.5 278.57 88.2 278.64 90.5 278.70 89.9 278.76 89.4 278.82 90.3 278.89 93.6 278.95 96.7 279.01 107.6 279.07 119.1 279.14 123.2 279.20 127.9 279.26 130.7 279.33 134.2 279.39 133.9 279.45 136.5 279.51 133.5 279.58 128.5 279.64 114.7 279.70 99.9 279.77 91.8 279.83 87.6 279.89 88.7 279.95 88.6 280.02 87.8 280.08 87.5 280.14 87.3 280.21 88.1 280.27 88.0 280.33 90.8 280.39 92.9 280.46 97.7 280.52 106.9 280.58 118.2 280.64 126.4 280.71 130.4 280.77 132.5 280.83 133.2 280.90 135.0 280.96 135.4 281.02 133.9 281.08 128.7 281.15 114.2 281.21 94.2 281.27 85.5 281.34 80.2 281.40 81.2 281.46 80.3 281.52 80.3 281.59 81.3 281.65 82.5 281.71 81.2 281.78 81.9 281.84 84.2 281.90 85.4 281.96 93.6 282.03 102.4 282.09 113.6 282.15 124.5 282.21 129.3 282.28 130.8 282.34 130.8 282.40 134.5 282.47 133.7 282.53 132.0 282.59 128.5 282.65 114.5 282.72 98.8 282.78 90.5 282.84 89.1 282.91 88.0 282.97 89.4 283.03 87.3 283.09 86.9 283.16 90.3 283.22 87.2 283.28 90.2 283.35 88.8 283.41 93.4 283.47 97.5 283.53 109.0 283.60 119.6 283.66 126.1 283.72 130.0 283.78 131.7 283.85 135.1 283.91 137.6 283.97 135.1 284.04 133.2 284.10 130.4 284.16 112.4 284.22 93.2 284.29 82.3 284.35 78.4 284.41 77.9 284.48 78.0 284.54 76.5 284.60 77.6 284.66 77.9 284.73 79.9 284.79 79.0 284.85 80.5 284.92 82.2 284.98 90.9 285.04 103.8 285.10 115.1 285.17 125.1 285.23 129.6 285.29 129.0 285.35 132.6 285.42 132.2 285.48 131.6 285.54 131.5 285.61 126.3 285.67 113.7 285.73 95.9 285.79 84.8 285.86 83.2 285.92 81.4 285.98 82.9 286.05 83.3 286.11 82.2 286.17 82.7 286.23 84.0 286.30 83.4 286.36 83.6 286.42 89.4 286.49 94.6 286.55 104.2 286.61 115.1 286.67 123.8 286.74 127.9 286.80 131.4 286.86 133.7 286.92 134.1 286.99 135.8 287.05 133.6 287.11 125.7 287.18 106.7 287.24 80.6 287.30 68.9 287.36 64.3 287.43 66.4 287.49 66.4 287.55 66.8 287.62 66.1 287.68 68.1 287.74 65.9 287.80 66.3 287.87 67.5 287.93 72.8 287.99 80.2 288.06 93.8 288.12 109.4 288.18 121.2 288.24 126.7 288.31 130.1 288.37 132.6 288.43 135.5 288.49 134.0 288.56 131.3 288.62 126.6 288.68 109.1 288.75 85.7 288.81 72.7 288.87 72.1 288.93 71.1 289.00 70.6 289.06 71.1 289.12 72.6 289.19 73.7 289.25 71.5 289.31 74.1 289.37 73.8 289.44 77.6 289.50 85.0 289.56 97.6 289.63 111.3 289.69 120.8 289.75 127.8 289.81 130.7 289.88 134.8 289.94 134.9 290.00 136.1 290.06 134.2 290.13 126.2 290.19 111.5 290.25 88.4 290.32 76.7 290.38 72.0 290.44 74.1 290.50 72.1 290.57 73.3 290.63 72.5 290.69 71.6 290.76 73.7 290.82 72.1 290.88 75.3 290.94 79.1 291.01 86.5 291.07 98.2 291.13 114.3 291.20 124.9 291.26 128.5 291.32 132.6 291.38 137.0 291.45 136.2 291.51 137.6 291.57 134.4 291.63 128.7 291.70 112.5 291.76 91.4 291.82 78.5 291.89 74.6 291.95 76.2 292.01 76.9 292.07 76.2 292.14 76.0 292.20 76.7 292.26 75.1 292.33 77.3 292.39 79.0 292.45 82.4 292.51 88.0 292.58 100.4 292.64 116.0 292.70 123.2 292.77 129.7 292.83 135.5 292.89 135.1 292.95 136.3 293.02 137.7 293.08 136.8 293.14 130.7 293.20 115.0 293.27 97.8 293.33 89.2 293.39 84.5 293.46 84.4 293.52 86.6 293.58 85.9 293.64 86.2 293.71 86.8 293.77 84.9 293.83 86.9 293.90 88.7 293.96 91.3 294.02 95.6 294.08 105.6 294.15 117.8 294.21 127.5 294.27 131.9 294.34 132.6 294.40 133.1 294.46 136.2 294.52 134.6 294.59 135.5 294.65 129.4 294.71 112.5 294.77 97.9 294.84 88.3 294.90 84.8 294.96 85.5 295.03 86.8 295.09 86.5 295.15 87.1 295.21 86.2 295.28 84.3 295.34 86.1 295.40 86.8 295.47 90.0 295.53 99.3 295.59 107.4 295.65 116.7 295.72 126.8 295.78 130.3 295.84 133.0 295.91 137.6 295.97 137.1 296.03 137.7 296.09 138.8 296.16 130.3 296.22 117.8 296.28 98.1 296.34 88.0 296.41 85.2 296.47 85.6 296.53 85.6 296.60 83.9 296.66 86.3 296.72 85.1 296.78 86.2 296.85 86.7 296.91 86.9 296.97 91.2 297.04 96.2 297.10 106.5 297.16 117.5 297.22 125.4 297.29 131.9 297.35 133.1 297.41 137.1 297.48 138.0 297.54 140.2 297.60 136.3 297.66 133.3 297.73 117.7 297.79 99.1 297.85 88.7 297.91 84.8 297.98 85.3 298.04 85.5 298.10 86.2 298.17 85.1 298.23 87.7 298.29 87.8 298.35 84.2 298.42 87.9 298.48 90.8 298.54 96.3 298.61 105.2 298.67 117.9 298.73 128.0 298.79 134.2 298.86 134.3 298.92 136.5 298.98 136.9 299.05 138.1 299.11 136.5 299.17 131.8 299.23 115.3 299.30 95.8 299.36 85.1 299.42 84.4 299.48 82.3 299.55 81.8 299.61 80.7 299.67 83.4 299.74 82.0 299.80 83.5 299.86 84.2 299.92 86.5 299.99 87.6 300.05 92.9 300.11 106.6 300.18 118.0 300.24 125.8 300.30 131.9 300.36 137.7 300.43 138.1 300.49 138.5 300.55 139.1 300.62 138.7 300.68 132.9 300.74 117.4 300.80 98.0 300.87 86.5 300.93 84.4 300.99 84.8 301.05 84.5 301.12 83.7 301.18 83.7 301.24 84.5 301.31 84.4 301.37 83.3 301.43 85.9 301.49 90.6 301.56 95.7 301.62 106.6 301.68 120.0 301.75 128.4 301.81 133.2 301.87 135.5 301.93 139.2 302.00 140.3 302.06 138.7 302.12 138.2 302.19 136.6 302.25 122.0 302.31 102.5 302.37 91.3 302.44 85.6 302.50 85.5 302.56 86.8 302.62 85.8 302.69 87.7 302.75 88.5 302.81 89.1 302.88 88.4 302.94 91.6 303.00 95.0 303.06 102.3 303.13 116.3 303.19 130.0 303.25 138.3 303.32 149.3 303.38 152.3 303.44 155.7 303.50 155.6 303.57 154.9 303.63 153.5 303.69 148.0 303.76 133.4 303.82 112.3 303.88 103.1 303.94 101.3 304.01 98.4 304.07 98.9 304.13 99.8 304.19 100.0 304.26 101.0 304.32 101.8 304.38 101.8 304.45 103.2 304.51 105.3 304.57 112.5 304.63 122.7 304.70 135.4 304.76 144.8 304.82 150.3 304.89 150.0 304.95 153.0 305.01 157.2 305.07 201.5 305.14 154.2 305.20 147.4 305.26 132.6 305.33 112.6 305.39 103.2 305.45 98.1 305.51 100.3 305.58 101.4 305.64 96.8 305.70 98.4 305.76 98.3 305.83 99.9 305.89 101.7 305.95 102.9 306.02 106.2 306.08 111.8 306.14 122.2 306.20 136.3 306.27 143.5 306.33 149.0 306.39 153.4 306.46 154.1 306.52 156.2 306.58 155.5 306.64 155.5 306.71 151.2 306.77 135.2 306.83 118.0 306.90 109.2 306.96 103.8 307.02 104.5 307.08 104.2 307.15 106.4 307.21 104.1 307.27 105.2 307.33 103.7 307.40 104.7 307.46 107.3 307.52 109.5 307.59 116.8 307.65 126.5 307.71 140.5 307.77 145.9 307.84 152.3 307.90 152.2 307.96 154.7 308.03 154.6 308.09 158.8 308.15 153.0 308.21 149.8 308.28 134.1 308.34 116.4 308.40 105.3 308.47 104.0 308.53 103.2 308.59 102.6 308.65 102.6 308.72 103.1 308.78 103.1 308.84 104.2 308.90 104.1 308.97 104.2 309.03 108.0 309.09 114.3 309.16 126.1 309.22 136.6 309.28 145.7 309.34 149.7 309.41 152.4 309.47 154.6 309.53 155.0 309.60 157.4 309.66 154.4 309.72 146.7 309.78 131.0 309.85 107.0 309.91 92.5 309.97 91.4 310.04 91.0 310.10 91.1 310.16 90.8 310.22 90.2 310.29 91.8 310.35 90.0 310.41 92.1 310.47 94.5 310.54 98.5 310.60 104.8 310.66 120.2 310.73 132.8 310.79 142.4 310.85 149.5 310.91 150.5 310.98 154.7 311.04 154.2 311.10 154.4 311.17 152.7 311.23 146.6 311.29 129.0 311.35 108.5 311.42 95.3 311.48 91.7 311.54 90.6 311.61 91.5 311.67 89.5 311.73 89.4 311.79 93.0 311.86 91.5 311.92 90.2 311.98 93.7 312.04 96.8 312.11 104.5 312.17 118.5 312.23 130.7 312.30 143.5 312.36 149.0 312.42 152.4 312.48 154.3 312.55 158.8 312.61 156.6 312.67 154.3 312.74 148.6 312.80 130.0 312.86 106.0 312.92 94.5 312.99 88.7 313.05 88.1 313.11 90.4 313.18 90.2 313.24 87.0 313.30 89.8 313.36 88.3 313.43 91.1 313.49 90.0 313.55 95.4 313.61 104.9 313.68 117.5 313.74 133.4 313.80 142.7 313.87 149.0 313.93 149.2 313.99 153.8 314.05 154.0 314.12 156.1 314.18 152.9 314.24 147.5 314.31 126.4 314.37 100.0 314.43 88.2 314.49 83.7 314.56 83.7 314.62 83.1 314.68 84.3 314.75 84.1 314.81 84.9 314.87 83.1 314.93 82.5 315.00 86.6 315.06 89.5 315.12 98.4 315.18 113.0 315.25 129.3 315.31 138.7 315.37 147.5 315.44 154.6 315.50 154.6 315.56 157.3 315.62 159.0 315.69 157.0 315.75 149.5 315.81 128.8 315.88 101.8 315.94 90.3 316.00 84.1 316.06 85.2 316.13 84.3 316.19 83.9 316.25 85.1 316.32 86.9 316.38 85.3 316.44 86.7 316.50 88.7 316.57 92.9 316.63 99.8 316.69 115.0 316.75 131.9 316.82 143.2 316.88 152.2 316.94 152.7 317.01 153.8 317.07 156.7 317.13 157.1 317.19 155.4 317.26 148.8 317.32 128.7 317.38 107.4 317.45 96.4 317.51 90.9 317.57 90.9 317.63 91.7 317.70 90.6 317.76 90.4 317.82 91.8 317.89 91.8 317.95 93.4 318.01 93.7 318.07 96.6 318.14 106.0 318.20 117.7 318.26 133.5 318.32 142.6 318.39 150.2 318.45 151.4 318.51 154.3 318.58 155.0 318.64 155.9 318.70 156.0 318.76 146.1 318.83 123.0 318.89 91.7 318.95 76.1 319.02 69.1 319.08 70.5 319.14 69.2 319.20 69.2 319.27 71.1 319.33 69.9 319.39 73.2 319.46 71.8 319.52 73.0 319.58 80.0 319.64 88.1 319.71 106.4 319.77 125.3 319.83 140.1 319.89 149.5 319.96 152.5 320.02 153.5 320.08 154.8 320.15 155.6 320.21 155.6 320.27 148.3 320.33 129.7 320.40 105.8 320.46 95.5 320.52 88.3 320.59 91.4 320.65 90.6 320.71 90.1 320.77 89.4 320.84 89.8 320.90 90.1 320.96 90.2 321.03 91.7 321.09 95.3 321.15 104.9 321.21 117.6 321.28 132.6 321.34 142.1 321.40 148.3 321.46 152.2 321.53 156.0 321.59 155.9 321.65 157.7 321.72 154.8 321.78 148.6 321.84 130.6 321.90 105.7 321.97 92.8 322.03 91.3 322.09 90.0 322.16 89.5 322.22 91.7 322.28 92.3 322.34 90.8 322.41 91.1 322.47 94.1 322.53 92.2 322.60 98.0 322.66 105.8 322.72 117.7 322.78 132.1 322.85 143.0 322.91 150.6 322.97 152.8 323.03 157.6 323.10 155.2 323.16 156.4 323.22 154.2 323.29 149.7 323.35 131.8 323.41 108.3 323.47 97.9 323.54 94.1 323.60 94.8 323.66 94.6 323.73 94.7 323.79 94.1 323.85 95.3 323.91 94.8 323.98 96.3 324.04 97.1 324.10 99.4 324.17 107.7 324.23 119.5 324.29 133.8 324.35 144.5 324.42 150.2 324.48 154.5 324.54 156.3 324.60 159.5 324.67 158.1 324.73 156.0 324.79 150.8 324.86 136.5 324.92 117.9 324.98 107.0 325.04 101.4 325.11 102.6 325.17 100.1 325.23 102.6 325.30 101.5 325.36 102.6 325.42 101.1 325.48 103.3 325.55 102.7 325.61 105.8 325.67 115.6 325.74 124.2 325.80 138.8 325.86 146.3 325.92 152.4 325.99 155.1 326.05 158.1 326.11 158.4 326.17 157.1 326.24 156.5 326.30 153.5 326.36 139.9 326.43 121.0 326.49 113.6 326.55 109.3 326.61 110.4 326.68 108.3 326.74 110.2 326.80 108.8 326.87 108.5 326.93 110.4 326.99 110.9 327.05 109.8 327.12 111.9 327.18 119.9 327.24 130.2 327.31 140.0 327.37 148.4 327.43 152.8 327.49 152.8 327.56 155.7 327.62 157.5 327.68 156.8 327.74 155.0 327.81 149.8 327.87 137.0 327.93 117.5 328.00 111.0 328.06 107.4 328.12 107.5 328.18 107.2 328.25 107.3 328.31 106.0 328.37 108.6 328.44 107.7 328.50 108.5 328.56 108.9 328.62 110.9 328.69 118.9 328.75 127.8 328.81 138.5 328.88 147.0 328.94 153.2 329.00 155.0 329.06 157.6 329.13 159.9 329.19 157.8 329.25 158.3 329.31 152.1 329.38 139.1 329.44 120.7 329.50 112.5 329.57 107.3 329.63 107.6 329.69 107.4 329.75 107.7 329.82 109.1 329.88 109.0 329.94 109.2 330.01 108.8 330.07 110.1 330.13 113.5 330.19 119.4 330.26 128.5 330.32 139.7 330.38 147.1 330.45 153.9 330.51 154.9 330.57 157.8 330.63 153.9 330.70 157.8 330.76 156.5 330.82 153.4 330.88 135.6 330.95 116.9 331.01 108.5 331.07 103.1 331.14 103.2 331.20 105.2 331.26 102.9 331.32 103.5 331.39 106.3 331.45 105.7 331.51 104.3 331.58 108.1 331.64 109.9 331.70 115.8 331.76 126.8 331.83 138.1 331.89 147.7 331.95 152.4 332.02 152.7 332.08 155.0 332.14 157.2 332.20 155.8 332.27 154.5 332.33 148.4 332.39 138.2 332.45 120.7 332.52 111.9 332.58 107.9 332.64 108.2 332.71 108.7 332.77 107.6 332.83 108.8 332.89 110.9 332.96 108.7 333.02 109.7 333.08 112.2 333.15 113.6 333.21 120.8 333.27 129.8 333.33 140.3 333.40 146.8 333.46 151.3 333.52 157.2 333.59 157.9 333.65 158.6 333.71 156.6 333.77 157.6 333.84 155.4 333.90 140.0 333.96 124.2 334.02 113.9 334.09 108.9 334.15 110.4 334.21 112.0 334.28 110.4 334.34 110.0 334.40 110.6 334.46 109.6 334.53 110.9 334.59 112.3 334.65 116.1 334.72 121.7 334.78 129.6 334.84 139.4 334.90 148.8 334.97 153.3 335.03 157.1 335.09 157.2 335.16 159.8 335.22 158.7 335.28 159.3 335.34 153.4 335.41 137.9 335.47 120.6 335.53 114.5 335.59 109.8 335.66 111.8 335.72 110.8 335.78 112.6 335.85 110.8 335.91 110.5 335.97 109.3 336.03 112.3 336.10 112.5 336.16 115.3 336.22 124.1 336.29 131.9 336.35 140.8 336.41 150.2 336.47 152.8 336.54 154.2 336.60 158.0 336.66 156.9 336.73 158.3 336.79 157.2 336.85 151.6 336.91 134.5 336.98 114.1 337.04 105.3 337.10 102.0 337.16 100.3 337.23 102.1 337.29 102.4 337.35 101.7 337.42 102.9 337.48 102.9 337.54 103.7 337.60 103.9 337.67 107.3 337.73 114.2 337.79 126.5 337.86 137.3 337.92 148.4 337.98 151.7 338.04 157.0 338.11 157.6 338.17 160.7 338.23 158.3 338.30 157.7 338.36 150.5 338.42 137.9 338.48 121.1 338.55 112.4 338.61 109.2 338.67 108.7 338.73 108.5 338.80 109.5 338.86 107.0 338.92 108.6 338.99 109.7 339.05 109.4 339.11 111.7 339.17 112.8 339.24 119.0 339.30 130.0 339.36 142.0 339.43 146.9 339.49 151.4 339.55 154.3 339.61 156.4 339.68 159.0 339.74 159.7 339.80 157.6 339.87 152.5 339.93 137.7 339.99 118.5 340.05 108.6 340.12 104.8 340.18 105.7 340.24 103.4 340.30 104.0 340.37 104.8 340.43 107.8 340.49 104.2 340.56 106.4 340.62 106.0 340.68 109.8 340.74 115.7 340.81 129.2 340.87 139.7 340.93 147.5 341.00 154.4 341.06 155.3 341.12 158.3 341.18 157.7 341.25 158.8 341.31 158.4 341.37 153.2 341.44 137.6 341.50 119.5 341.56 109.3 341.62 105.3 341.69 107.1 341.75 108.5 341.81 107.8 341.87 108.0 341.94 107.9 342.00 107.9 342.06 108.4 342.13 111.1 342.19 112.2 342.25 120.0 342.31 127.7 342.38 139.4 342.44 148.7 342.50 152.5 342.57 157.0 342.63 158.2 342.69 159.6 342.75 158.7 342.82 158.4 342.88 151.2 342.94 135.9 343.01 114.3 343.07 101.3 343.13 96.8 343.19 96.1 343.26 96.2 343.32 98.9 343.38 98.4 343.44 99.8 343.51 98.8 343.57 99.8 343.63 100.8 343.70 103.4 343.76 111.5 343.82 124.5 343.88 137.3 343.95 146.1 344.01 152.2 344.07 159.3 344.14 157.9 344.20 159.3 344.26 160.0 344.32 158.7 344.39 153.9 344.45 135.9 344.51 116.3 344.58 105.1 344.64 101.0 344.70 100.7 344.76 100.0 344.83 100.4 344.89 99.8 344.95 101.1 345.01 101.6 345.08 102.3 345.14 102.1 345.20 106.1 345.27 113.6 345.33 127.0 345.39 138.9 345.45 148.6 345.52 155.3 345.58 156.1 345.64 157.6 345.71 161.1 345.77 159.3 345.83 159.4 345.89 152.1 345.96 134.3 346.02 112.4 346.08 99.0 346.15 93.5 346.21 95.3 346.27 94.9 346.33 94.7 346.40 94.9 346.46 94.0 346.52 95.6 346.58 96.0 346.65 97.9 346.71 101.6 346.77 109.6 346.84 124.5 346.90 140.4 346.96 150.7 347.02 157.4 347.09 161.1 347.15 165.8 347.21 164.3 347.28 166.0 347.34 164.9 347.40 158.3 347.46 136.7 347.53 115.1 347.59 100.4 347.65 97.3 347.72 96.8 347.78 95.8 347.84 99.5 347.90 97.4 347.97 96.8 348.03 97.2 348.09 98.9 348.15 101.1 348.22 104.5 348.28 111.5 348.34 127.9 348.41 141.7 348.47 153.9 348.53 160.5 348.59 160.7 348.66 165.3 348.72 165.6 348.78 166.8 348.85 162.4 348.91 153.3 348.97 129.1 349.03 99.7 349.10 83.3 349.16 76.2 349.22 76.3 349.29 76.4 349.35 77.1 349.41 78.0 349.47 78.8 349.54 77.6 349.60 78.7 349.66 81.1 349.72 84.8 349.79 96.5 349.85 114.9 349.91 134.3 349.98 147.6 350.04 156.2 350.10 161.0 350.16 166.1 350.23 166.2 350.29 164.9 350.35 162.7 350.42 157.8 350.48 139.8 350.54 113.7 350.60 100.5 350.67 97.3 350.73 96.2 350.79 96.4 350.86 96.8 350.92 96.2 350.98 97.9 351.04 98.0 351.11 97.8 351.17 98.8 351.23 103.8 351.29 109.3 351.36 125.4 351.42 140.6 351.48 153.0 351.55 158.2 351.61 162.6 351.67 164.2 351.73 166.2 351.80 167.1 351.86 164.5 351.92 156.6 351.99 137.6 352.05 112.8 352.11 101.6 352.17 94.6 352.24 95.6 352.30 96.0 352.36 95.8 352.43 94.5 352.49 94.2 352.55 96.5 352.61 97.8 352.68 98.2 352.74 103.0 352.80 110.5 352.86 125.5 352.93 141.6 352.99 151.7 353.05 160.1 353.12 161.6 353.18 163.6 353.24 166.4 353.30 165.9 353.37 165.0 353.43 157.8 353.49 136.4 353.56 111.1 353.62 97.0 353.68 93.1 353.74 91.3 353.81 90.9 353.87 93.3 353.93 90.3 354.00 92.7 354.06 92.8 354.12 94.5 354.18 94.9 354.25 99.4 354.31 106.6 354.37 124.2 354.43 138.4 354.50 151.3 354.56 157.9 354.62 163.2 354.69 164.0 354.75 165.0 354.81 167.6 354.87 164.3 354.94 158.1 355.00 138.6 355.06 112.0 355.13 101.9 355.19 94.9 355.25 96.0 355.31 96.4 355.38 95.8 355.44 95.0 355.50 97.6 355.57 95.7 355.63 96.0 355.69 99.9 355.75 104.2 355.82 109.6 355.88 125.3 355.94 141.0 356.00 149.5 356.07 158.8 356.13 164.2 356.19 164.5 356.26 168.1 356.32 168.7 356.38 165.4 356.44 158.7 356.51 142.3 356.57 119.4 356.63 111.1 356.70 106.0 356.76 104.1 356.82 104.7 356.88 105.2 356.95 106.6 357.01 107.0 357.07 105.5 357.14 106.9 357.20 107.5 357.26 112.1 357.32 118.7 357.39 133.4 357.45 145.2 357.51 154.3 357.57 159.7 357.64 162.2 357.70 166.6 357.76 167.9 357.83 168.7 357.89 164.9 357.95 160.8 358.01 142.4 358.08 123.8 358.14 113.2 358.20 108.7 358.27 108.2 358.33 108.0 358.39 108.1 358.45 106.6 358.52 109.8 358.58 107.9 358.64 109.8 358.71 110.8 358.77 115.1 358.83 121.5 358.89 133.2 358.96 146.4 359.02 156.4 359.08 160.9 359.14 160.0 359.21 162.7 359.27 163.4 359.33 164.3 359.40 163.1 359.46 158.4 359.52 146.9 359.58 130.6 359.65 122.9 359.71 118.8 359.77 120.7 359.84 119.8 359.90 118.3 359.96 118.3 360.02 121.4 360.09 119.9 360.15 121.8 360.21 123.4 360.28 123.8 360.34 129.3 360.40 138.7 360.46 146.8 360.53 153.0 360.59 161.1 360.65 159.4 360.71 162.2 360.78 164.9 360.84 163.5 360.90 163.3 360.97 157.5 361.03 141.3 361.09 123.5 361.15 115.0 361.22 110.3 361.28 112.3 361.34 111.6 361.41 109.7 361.47 111.8 361.53 111.3 361.59 111.5 361.66 113.0 361.72 111.5 361.78 115.5 361.85 123.0 361.91 131.7 361.97 145.9 362.03 149.7 362.10 159.3 362.16 164.3 362.22 165.2 362.28 167.0 362.35 166.2 362.41 167.7 362.47 160.1 362.54 144.7 362.60 124.5 362.66 112.6 362.72 108.0 362.79 110.2 362.85 111.4 362.91 110.6 362.98 109.8 363.04 111.0 363.10 110.2 363.16 112.4 363.23 112.9 363.29 116.0 363.35 124.7 363.42 133.4 363.48 145.6 363.54 155.4 363.60 160.8 363.67 163.0 363.73 166.5 363.79 167.6 363.85 165.3 363.92 165.2 363.98 159.6 364.04 142.0 364.11 124.1 364.17 113.2 364.23 109.5 364.29 108.3 364.36 108.4 364.42 109.2 364.48 109.0 364.55 109.1 364.61 110.0 364.67 109.4 364.73 112.2 364.80 115.2 364.86 121.2 364.92 132.1 364.99 146.5 365.05 156.6 365.11 161.3 365.17 163.6 365.24 165.2 365.30 166.8 365.36 164.0 365.42 163.8 365.49 159.0 365.55 143.7 365.61 124.0 365.68 113.8 365.74 108.1 365.80 111.4 365.86 111.1 365.93 109.8 365.99 110.4 366.05 110.2 366.12 111.9 366.18 111.2 366.24 113.7 366.30 115.3 366.37 121.6 366.43 131.9 366.49 146.1 366.56 153.9 366.62 160.6 366.68 164.5 366.74 165.9 366.81 168.1 366.87 166.2 366.93 164.8 366.99 160.6 367.06 145.5 367.12 128.8 367.18 116.0 367.25 113.0 367.31 115.4 367.37 113.3 367.43 113.9 367.50 113.6 367.56 114.6 367.62 116.7 367.69 116.2 367.75 116.2 367.81 121.3 367.87 124.7 367.94 136.4 368.00 149.7 368.06 154.9 368.13 160.5 368.19 163.4 368.25 166.0 368.31 168.3 368.38 169.0 368.44 167.6 368.50 162.5 368.56 146.8 368.63 127.5 368.69 117.6 368.75 114.9 368.82 113.9 368.88 113.6 368.94 115.4 369.00 114.0 369.07 115.1 369.13 117.5 369.19 116.4 369.26 117.5 369.32 119.9 369.38 125.5 369.44 137.6 369.51 148.2 369.57 156.8 369.63 161.7 369.70 165.2 369.76 167.1 369.82 165.7 369.88 166.9 369.95 166.7 370.01 163.7 370.07 146.8 370.13 130.6 370.20 122.3 370.26 118.8 370.32 117.2 370.39 118.6 370.45 118.0 370.51 117.8 370.57 117.7 370.64 116.4 370.70 118.2 370.76 118.2 370.83 123.6 370.89 129.2 370.95 140.6 371.01 148.3 371.08 156.3 371.14 162.7 371.20 163.0 371.27 165.7 371.33 164.6 371.39 164.0 371.45 163.8 371.52 163.2 371.58 144.8 371.64 127.6 371.70 120.1 371.77 116.4 371.83 115.3 371.89 112.7 371.96 116.4 372.02 115.2 372.08 117.6 372.14 116.3 372.21 117.3 372.27 115.9 372.33 120.9 372.40 126.7 372.46 136.4 372.52 148.3 372.58 156.4 372.65 160.4 372.71 164.2 372.77 167.2 372.84 167.3 372.90 166.6 372.96 166.0 373.02 160.2 373.09 145.8 373.15 127.8 373.21 117.1 373.27 114.4 373.34 115.4 373.40 113.6 373.46 113.0 373.53 113.4 373.59 115.0 373.65 114.7 373.71 114.2 373.78 113.3 373.84 119.6 373.90 125.9 373.97 136.5 374.03 147.0 374.09 154.0 374.15 161.2 374.22 163.2 374.28 166.7 374.34 168.8 374.41 168.2 374.47 165.9 374.53 161.5 374.59 144.7 374.66 126.6 374.72 116.0 374.78 111.6 374.84 112.5 374.91 112.2 374.97 113.5 375.03 112.0 375.10 112.5 375.16 114.1 375.22 113.6 375.28 114.6 375.35 119.7 375.41 121.9 375.47 133.9 375.54 147.0 375.60 157.7 375.66 163.5 375.72 164.9 375.79 166.0 375.85 166.3 375.91 168.3 375.98 167.1 376.04 160.9 376.10 147.8 376.16 130.1 376.23 118.1 376.29 115.6 376.35 114.0 376.41 115.5 376.48 114.0 376.54 115.4 376.60 117.7 376.67 115.2 376.73 117.8 376.79 118.8 376.85 121.8 376.92 126.5 376.98 135.9 377.04 149.0 377.11 158.0 377.17 162.0 377.23 164.3 377.29 166.0 377.36 171.3 377.42 166.2 377.48 168.0 377.55 161.5 377.61 148.5 377.67 130.2 377.73 118.5 377.80 115.8 377.86 115.5 377.92 116.4 377.98 115.7 378.05 116.7 378.11 116.9 378.17 115.8 378.24 118.0 378.30 118.4 378.36 121.6 378.42 127.0 378.49 138.6 378.55 149.0 378.61 159.1 378.68 163.5 378.74 162.5 378.80 167.7 378.86 168.8 378.93 168.3 378.99 167.9 379.05 159.9 379.12 145.9 379.18 125.0 379.24 115.7 379.30 110.8 379.37 110.3 379.43 111.2 379.49 109.9 379.55 111.6 379.62 112.8 379.68 113.4 379.74 113.1 379.81 113.3 379.87 117.0 379.93 123.9 379.99 136.6 380.06 146.9 380.12 156.4 380.18 160.5 380.25 164.6 380.31 164.8 380.37 166.0 380.43 165.4 380.50 166.2 380.56 159.1 380.62 140.5 380.69 116.3 380.75 105.2 380.81 102.3 380.87 99.6 380.94 101.2 381.00 102.4 381.06 99.9 381.12 102.4 381.19 102.4 381.25 101.6 381.31 103.6 381.38 108.3 381.44 116.5 381.50 128.3 381.56 142.0 381.63 154.2 381.69 160.8 381.75 165.7 381.82 168.3 381.88 169.0 381.94 168.8 382.00 166.6 382.07 163.4 382.13 149.7 382.19 131.2 382.26 122.4 382.32 118.1 382.38 119.0 382.44 119.5 382.51 119.2 382.57 120.1 382.63 120.0 382.69 119.1 382.76 121.7 382.82 119.7 382.88 125.4 382.95 130.2 383.01 140.1 383.07 149.9 383.13 158.4 383.20 164.7 383.26 164.4 383.32 167.4 383.39 168.3 383.45 165.1 383.51 166.5 383.57 162.3 383.64 146.9 383.70 129.4 383.76 119.2 383.83 118.4 383.89 117.1 383.95 116.6 384.01 116.0 384.08 117.7 384.14 117.4 384.20 118.1 384.26 118.4 384.33 117.5 384.39 122.4 384.45 125.7 384.52 135.6 384.58 149.3 384.64 159.5 384.70 163.5 384.77 164.5 384.83 165.4 384.89 167.2 384.96 167.9 385.02 164.1 385.08 159.8 385.14 144.0 385.21 125.4 385.27 115.5 385.33 109.7 385.40 111.8 385.46 110.4 385.52 110.2 385.58 111.6 385.65 110.1 385.71 110.2 385.77 110.2 385.83 111.8 385.90 113.7 385.96 125.3 386.02 135.0 386.09 148.7 386.15 154.4 386.21 159.9 386.27 166.2 386.34 166.7 386.40 167.8 386.46 167.7 386.53 165.6 386.59 160.5 386.65 147.3 386.71 124.1 386.78 116.3 386.84 111.2 386.90 111.7 386.97 112.0 387.03 109.9 387.09 111.7 387.15 111.9 387.22 114.2 387.28 112.4 387.34 114.2 387.40 116.8 387.47 123.9 387.53 135.2 387.59 147.5 387.66 157.8 387.72 162.8 387.78 163.4 387.84 166.0 387.91 165.6 387.97 166.0 388.03 165.5 388.10 159.9 388.16 145.1 388.22 121.2 388.28 112.2 388.35 107.9 388.41 109.0 388.47 108.7 388.54 107.2 388.60 108.0 388.66 108.5 388.72 107.7 388.79 109.0 388.85 110.6 388.91 115.7 388.97 121.6 389.04 132.5 389.10 144.8 389.16 154.6 389.23 161.7 389.29 165.8 389.35 166.1 389.41 167.9 389.48 168.4 389.54 167.3 389.60 159.8 389.67 144.4 389.73 123.2 389.79 112.3 389.85 109.0 389.92 108.1 389.98 106.9 390.04 105.7 390.11 107.0 390.17 107.0 390.23 108.8 390.29 108.2 390.36 108.3 390.42 112.7 390.48 122.0 390.54 132.1 390.61 146.4 390.67 157.1 390.73 162.5 390.80 162.3 390.86 164.5 390.92 166.2 390.98 167.5 391.05 166.2 391.11 159.5 391.17 144.6 391.24 125.1 391.30 113.1 391.36 109.5 391.42 110.9 391.49 111.9 391.55 110.6 391.61 111.0 391.68 112.8 391.74 110.5 391.80 111.9 391.86 112.8 391.93 118.3 391.99 122.7 392.05 133.6 392.11 147.8 392.18 158.8 392.24 162.4 392.30 165.8 392.37 167.9 392.43 168.2 392.49 167.5 392.55 168.4 392.62 161.8 392.68 145.4 392.74 127.5 392.81 118.5 392.87 113.9 392.93 114.7 392.99 114.4 393.06 114.3 393.12 113.3 393.18 116.8 393.25 114.2 393.31 114.5 393.37 117.5 393.43 119.8 393.50 126.3 393.56 138.8 393.62 147.9 393.68 155.8 393.75 161.5 393.81 164.2 393.87 167.1 393.94 168.4 394.00 169.0 394.06 166.4 394.12 162.4 394.19 147.1 394.25 130.3 394.31 122.0 394.38 117.3 394.44 120.1 394.50 118.0 394.56 117.5 394.63 117.5 394.69 119.1 394.75 120.6 394.82 118.0 394.88 120.5 394.94 122.5 395.00 130.1 395.07 138.6 395.13 147.8 395.19 156.8 395.25 162.6 395.32 164.1 395.38 168.1 395.44 168.2 395.51 166.7 395.57 167.4 395.63 160.9 395.69 147.5 395.76 125.5 395.82 115.1 395.88 112.1 395.95 113.6 396.01 111.4 396.07 113.4 396.13 111.9 396.20 112.6 396.26 113.7 396.32 114.1 396.39 114.7 396.45 119.3 396.51 123.7 396.57 132.9 396.64 148.4 396.70 156.8 396.76 162.0 396.82 165.5 396.89 164.2 396.95 167.2 397.01 168.8 397.08 166.7 397.14 162.4 397.20 146.5 397.26 126.4 397.33 116.8 397.39 114.5 397.45 113.0 397.52 115.9 397.58 113.4 397.64 112.5 397.70 114.5 397.77 115.3 397.83 115.3 397.89 116.2 397.96 119.1 398.02 124.2 398.08 136.8 398.14 149.1 398.21 155.8 398.27 162.7 398.33 163.1 398.39 167.5 398.46 167.4 398.52 169.3 398.58 165.8 398.65 160.1 398.71 144.3 398.77 123.8 398.83 112.8 398.90 109.6 398.96 108.9 399.02 108.6 399.09 110.6 399.15 109.9 399.21 109.8 399.27 109.9 399.34 108.3 399.40 110.1 399.46 117.1 399.53 120.5 399.59 134.9 399.65 147.5 399.71 156.2 399.78 165.1 399.84 162.6 399.90 166.9 399.96 166.0 400.03 167.0 400.09 165.8 400.15 159.4 400.22 142.8 400.28 119.9 400.34 107.1 400.40 104.2 400.47 102.2 400.53 105.4 400.59 105.0 400.66 104.9 400.72 104.4 400.78 105.1 400.84 103.0 400.91 105.8 400.97 110.4 401.03 115.4 401.10 130.5 401.16 143.7 401.22 154.4 401.28 159.8 401.35 166.1 401.41 166.9 401.47 169.3 401.53 168.9 401.60 165.7 401.66 159.2 401.72 145.4 401.79 126.6 401.85 116.6 401.91 111.9 401.97 114.6 402.04 112.3 402.10 113.9 402.16 110.7 402.23 113.4 402.29 112.8 402.35 114.6 402.41 117.2 402.48 117.3 402.54 124.1 402.60 135.7 402.67 147.7 402.73 156.9 402.79 162.6 402.85 165.5 402.92 168.1 402.98 168.9 403.04 170.4 403.10 167.5 403.17 163.9 403.23 149.5 403.29 131.5 403.36 123.4 403.42 116.8 403.48 119.1 403.54 117.9 403.61 116.3 403.67 118.3 403.73 119.5 403.80 117.2 403.86 120.0 403.92 119.7 403.98 122.9 404.05 131.3 404.11 141.1 404.17 151.6 404.24 159.4 404.30 163.1 404.36 166.9 404.42 168.2 404.49 168.9 404.55 169.6 404.61 167.3 404.67 161.9 404.74 147.9 404.80 129.4 404.86 120.7 404.93 115.0 404.99 117.2 405.05 115.5 405.11 116.5 405.18 115.7 405.24 114.1 405.30 115.8 405.37 116.3 405.43 117.1 405.49 123.2 405.55 126.6 405.62 138.2 405.68 149.9 405.74 157.2 405.81 161.5 405.87 164.6 405.93 169.3 405.99 168.0 406.06 169.1 406.12 168.0 406.18 161.3 406.24 148.3 406.31 129.3 406.37 117.8 406.43 114.5 406.50 115.0 406.56 116.5 406.62 114.7 406.68 113.4 406.75 117.7 406.81 114.9 406.87 115.9 406.94 116.9 407.00 118.7 407.06 128.5 407.12 138.8 407.19 150.7 407.25 158.4 407.31 166.7 407.38 163.0 407.44 166.7 407.50 167.3 407.56 165.3 407.63 165.7 407.69 161.0 407.75 146.0 407.81 126.9 407.88 117.6 407.94 114.0 408.00 113.6 408.07 115.2 408.13 113.8 408.19 115.3 408.25 115.9 408.32 114.6 408.38 114.1 408.44 116.5 408.51 120.6 408.57 123.4 408.63 136.2 408.69 150.8 408.76 156.7 408.82 161.6 408.88 162.8 408.95 165.2 409.01 166.4 409.07 165.6 409.13 166.0 409.20 160.4 409.26 143.6 409.32 127.1 409.38 117.0 409.45 111.5 409.51 111.8 409.57 112.5 409.64 112.1 409.70 112.7 409.76 113.8 409.82 114.3 409.89 114.3 409.95 114.1 410.01 117.2 410.08 122.6 410.14 135.3 410.20 148.9 410.26 156.6 410.33 160.8 410.39 165.9 410.45 167.3 410.52 168.9 410.58 168.2 410.64 169.4 410.70 160.0 410.77 145.6 410.83 128.0 410.89 115.2 410.95 113.1 411.02 112.2 411.08 113.9 411.14 113.5 411.21 113.4 411.27 114.1 411.33 113.9 411.39 116.6 411.46 115.4 411.52 118.0 411.58 125.8 411.65 135.2 411.71 147.8 411.77 158.8 411.83 163.5 411.90 164.3 411.96 167.3 412.02 166.1 412.09 165.2 412.15 167.3 412.21 161.4 412.27 151.4 412.34 131.3 412.40 124.8 412.46 120.9 412.52 121.8 412.59 121.4 412.65 121.1 412.71 123.1 412.78 123.1 412.84 122.4 412.90 123.1 412.96 123.7 413.03 124.3 413.09 130.7 413.15 141.0 413.22 150.9 413.28 159.8 413.34 161.8 413.40 162.6 413.47 165.5 413.53 167.0 413.59 168.1 413.66 164.6 413.72 159.8 413.78 140.3 413.84 114.8 413.91 102.8 413.97 99.3 414.03 101.3 414.09 99.8 414.16 100.1 414.22 99.8 414.28 98.9 414.35 99.4 414.41 99.1 414.47 103.0 414.53 105.7 414.60 115.6 414.66 127.6 414.72 141.0 414.79 152.9 414.85 161.1 414.91 164.5 414.97 167.1 415.04 166.5 415.10 167.7 415.16 167.8 415.23 161.6 415.29 147.0 415.35 128.5 415.41 117.8 415.48 114.9 415.54 114.8 415.60 114.2 415.66 116.7 415.73 116.6 415.79 116.8 415.85 115.3 415.92 114.4 415.98 117.8 416.04 119.5 416.10 127.4 416.17 136.8 416.23 148.2 416.29 155.5 416.36 163.1 416.42 165.9 416.48 168.3 416.54 169.8 416.61 167.1 416.67 167.8 416.73 162.7 416.80 146.6 416.86 123.4 416.92 114.8 416.98 111.5 417.05 111.2 417.11 109.5 417.17 111.4 417.23 110.8 417.30 112.5 417.36 110.3 417.42 111.8 417.49 112.8 417.55 117.0 417.61 121.8 417.67 134.9 417.74 146.5 417.80 156.9 417.86 162.4 417.93 165.3 417.99 168.5 418.05 169.2 418.11 169.3 418.18 168.1 418.24 161.7 418.30 144.9 418.37 125.4 418.43 112.8 418.49 110.8 418.55 110.0 418.62 109.8 418.68 110.6 418.74 110.6 418.80 110.0 418.87 111.1 418.93 112.2 418.99 112.1 419.06 117.1 419.12 121.9 419.18 134.1 419.24 148.6 419.31 156.9 419.37 162.4 419.43 166.2 419.50 168.7 419.56 169.0 419.62 169.5 419.68 168.0 419.75 161.7 419.81 146.6 419.87 126.1 419.94 114.0 420.00 111.6 420.06 112.6 420.12 112.2 420.19 112.1 420.25 111.5 420.31 111.1 420.37 111.7 420.44 111.9 420.50 112.8 420.56 118.3 420.63 124.2 420.69 134.8 420.75 149.1 420.81 158.5 420.88 161.9 420.94 166.5 421.00 166.9 421.07 171.9 421.13 169.7 421.19 166.1 421.25 163.5 421.32 145.1 421.38 126.3 421.44 117.2 421.51 112.3 421.57 109.7 421.63 111.5 421.69 110.7 421.76 111.6 421.82 111.6 421.88 111.8 421.94 114.1 422.01 113.1 422.07 118.4 422.13 123.2 422.20 135.5 422.26 147.0 422.32 158.9 422.38 163.7 422.45 164.5 422.51 167.8 422.57 168.2 422.64 168.2 422.70 167.2 422.76 163.7 422.82 149.5 422.89 135.1 422.95 126.4 423.01 123.5 423.08 123.7 423.14 123.0 423.20 121.9 423.26 123.5 423.33 121.6 423.39 122.3 423.45 124.6 423.51 122.6 423.58 126.3 423.64 131.4 423.70 142.3 423.77 151.0 423.83 159.6 423.89 164.1 423.95 167.2 424.02 169.4 424.08 167.6 424.14 167.7 424.21 167.3 424.27 161.8 424.33 147.2 424.39 129.2 424.46 120.9 424.52 117.7 424.58 115.0 424.65 117.0 424.71 116.5 424.77 115.4 424.83 116.8 424.90 116.4 424.96 117.5 425.02 118.6 425.08 119.9 425.15 127.3 425.21 138.5 425.27 149.1 425.34 154.9 425.40 164.5 425.46 164.7 425.52 167.9 425.59 167.7 425.65 167.5 425.71 168.2 425.78 161.5 425.84 144.6 425.90 125.0 425.96 113.8 426.03 110.2 426.09 110.9 426.15 110.0 426.22 109.6 426.28 110.7 426.34 111.8 426.40 110.8 426.47 111.2 426.53 112.4 426.59 115.2 426.65 123.5 426.72 134.1 426.78 147.0 426.84 157.2 426.91 164.1 426.97 167.0 427.03 167.2 427.09 171.0 427.16 170.3 427.22 168.5 427.28 163.2 427.35 145.3 427.41 125.5 427.47 111.8 427.53 109.7 427.60 107.8 427.66 108.0 427.72 109.1 427.79 106.3 427.85 109.8 427.91 110.2 427.97 107.8 428.04 110.1 428.10 115.4 428.16 120.8 428.22 132.7 428.29 149.3 428.35 156.9 428.41 165.1 428.48 166.6 428.54 168.4 428.60 168.4 428.66 170.3 428.73 168.5 428.79 161.3 428.85 144.0 428.92 123.0 428.98 111.2 429.04 107.6 429.10 108.5 429.17 107.2 429.23 107.7 429.29 107.8 429.36 108.5 429.42 108.0 429.48 109.7 429.54 111.7 429.61 112.9 429.67 121.0 429.73 133.6 429.79 148.4 429.86 156.9 429.92 162.6 429.98 166.9 430.05 168.3 430.11 168.6 430.17 169.9 430.23 168.5 430.30 161.7 430.36 143.5 430.42 123.3 430.49 113.2 430.55 108.9 430.61 107.0 430.67 107.4 430.74 109.4 430.80 106.7 430.86 110.0 430.93 109.8 430.99 111.8 431.05 109.3 431.11 115.5 431.18 121.4 431.24 134.2 431.30 146.6 431.36 158.4 431.43 164.1 431.49 163.6 431.55 165.7 431.62 168.6 431.68 167.8 431.74 167.3 431.80 161.5 431.87 145.2 431.93 124.4 431.99 113.2 432.06 110.6 432.12 110.4 432.18 109.6 432.24 110.0 432.31 109.6 432.37 110.1 432.43 109.7 432.50 112.2 432.56 111.5 432.62 116.9 432.68 123.2 432.75 134.9 432.81 147.9 432.87 157.0 432.93 161.2 433.00 163.2 433.06 166.0 433.12 167.2 433.19 167.8 433.25 166.6 433.31 161.8 433.37 145.0 433.44 128.4"/><pattern id="pat0" width="10.5" height="8.5" patternUnits="userSpaceOnUse" x="119.5" y="0"><g fill="#3a1cd0"><ellipse cx="2.5" cy="2.0" rx="2.3" ry="1.8"/><ellipse cx="7.75" cy="6.25" rx="2.3" ry="1.8"/></g></pattern><clipPath id="clp0"><path d="M120 103.1 120 104.4 122 100.4 122 105.0 124 106.7 124 99.9 126 99.3 126 99.0 128 97.7 128 98.1 130 98.9 130 99.2 132 100.0 132 100.8 134 95.9 134 99.3 136 100.2 136 100.6 138 113.2 138 115.3 140 120.3 140 103.8 142 103.7 142 88.5 144 86.6 144 87.0 146 89.7 146 82.4 148 83.7 148 79.4 150 81.2 150 82.7 152 82.8 152 86.7 154 89.0 154 82.1 156 92.0 156 91.0 158 97.5 158 102.2 160 102.4 160 113.5 162 110.7 162 111.9 164 96.5 164 86.3 166 87.4 166 84.9 168 87.9 168 87.5 170 90.5 170 90.8 172 90.9 172 86.8 174 88.1 174 87.2 176 83.3 176 86.6 178 86.0 178 86.7 180 93.4 180 94.1 182 100.8 182 93.6 184 92.6 184 80.0 186 79.2 186 77.9 188 74.4 188 82.4 190 83.4 190 80.9 192 76.2 192 74.8 194 79.8 194 84.2 196 81.9 196 82.3 198 80.4 198 76.2 200 77.2 200 82.7 202 83.0 202 78.5 204 81.6 204 79.0 206 83.4 206 86.5 208 80.5 208 83.8 210 85.9 210 80.5 212 80.8 212 81.6 214 82.0 214 81.4 216 80.7 216 83.1 218 79.6 218 82.6 220 80.7 220 80.3 222 84.3 222 81.2 224 84.2 224 84.3 226 87.1 226 87.0 228 87.4 228 85.3 230 84.9 230 86.5 232 79.7 232 80.3 234 80.2 234 85.2 236 85.0 236 85.7 238 78.5 238 81.7 240 83.4 240 77.6 242 76.3 242 77.5 244 78.5 244 84.3 246 85.5 246 80.3 248 83.2 248 85.2 250 78.0 250 84.8 252 86.0 252 80.1 254 85.1 254 86.3 256 78.7 256 83.3 258 84.4 258 77.9 260 85.0 260 84.4 262 85.6 262 85.3 264 85.7 264 82.3 266 81.2 266 81.4 268 82.6 268 85.4 270 85.8 270 87.9 272 80.7 272 80.8 274 87.6 274 103.5 276 104.7 276 99.8 278 93.7 278 94.2 280 93.3 280 86.2 282 86.3 282 92.9 284 83.9 284 82.5 286 87.4 286 83.0 288 81.6 288 86.4 290 83.9 290 83.5 292 84.2 292 91.7 294 92.6 294 90.3 296 91.2 296 90.3 298 90.2 298 88.3 300 87.5 300 91.1 302 91.5 302 91.8 304 104.4 304 104.1 306 102.8 306 109.7 308 110.0 308 108.6 310 96.0 310 97.7 312 96.0 312 96.6 314 98.1 314 92.6 316 90.8 316 94.7 318 96.4 318 91.6 320 93.3 320 95.6 322 95.5 322 98.2 324 100.1 324 106.1 326 108.7 326 114.3 328 112.0 328 114.9 330 113.3 330 108.9 332 110.4 332 113.6 334 114.9 334 116.9 336 115.3 336 109.3 338 110.9 338 113.0 340 109.4 340 112.0 342 111.3 342 105.7 344 105.9 344 105.8 346 100.8 346 101.6 348 103.5 348 105.0 350 105.5 350 102.2 352 100.5 352 102.5 354 102.4 354 106.9 356 106.5 356 110.1 358 112.6 358 113.9 360 124.3 360 115.7 362 117.3 362 114.0 364 114.3 364 115.1 366 114.1 366 119.0 368 120.6 368 119.6 370 123.2 370 122.4 372 118.7 372 119.0 374 119.3 374 117.6 376 120.0 376 121.2 378 121.5 378 115.9 380 117.6 380 115.0 382 124.1 382 125.1 384 122.0 384 115.7 386 116.1 386 115.9 388 114.6 388 114.3 390 113.6 390 116.2 392 116.5 392 119.3 394 123.3 394 123.5 396 117.4 396 119.0 398 118.5 398 114.8 400 114.1 400 111.5 402 116.7 402 122.8 404 122.3 404 120.1 406 120.5 406 119.4 408 119.6 408 118.4 410 117.8 410 118.2 412 124.0 412 127.1 414 112.7 414 113.9 416 120.2 416 115.5 418 116.8 418 115.8 420 117.1 420 118.8 422 115.7 422 127.6 424 126.9 424 121.0 426 115.6 426 117.8 428 114.1 428 117.8 430 119.4 430 116.6 432 115.6 432 117.5 434 117.5 434 144.8 432 146.2 432 139.6 430 147.5 430 150.3 428 142.0 428 148.5 426 148.7 426 142.9 424 147.1 424 148.6 422 144.0 422 146.7 420 148.5 420 144.5 418 147.6 418 142.6 416 140.9 416 142.4 414 146.1 414 142.5 412 145.3 412 146.0 410 142.6 410 147.4 408 146.8 408 143.1 406 147.8 406 147.5 404 146.6 404 140.9 402 144.4 402 143.5 400 147.4 400 142.4 398 141.2 398 146.4 396 145.5 396 144.3 394 147.2 394 144.9 392 145.7 392 145.5 390 146.8 390 146.9 388 142.4 388 143.7 386 144.2 386 140.9 384 139.9 384 142.0 382 146.4 382 145.1 380 148.2 380 141.0 378 138.9 378 141.8 376 140.8 376 139.3 374 141.7 374 145.5 372 139.9 372 140.5 370 144.4 370 145.2 368 145.5 368 146.3 366 140.8 366 145.6 364 142.7 364 133.1 362 141.0 362 141.1 360 137.7 360 143.1 358 143.1 358 134.9 356 142.2 356 144.1 354 126.3 354 142.1 352 140.1 352 123.6 350 143.2 350 147.6 348 124.6 348 142.7 346 142.4 346 124.4 344 140.1 344 145.5 342 122.9 342 140.2 340 139.5 340 134.0 338 143.9 338 143.5 336 132.2 336 137.9 334 143.1 334 133.6 332 142.9 332 142.0 330 132.2 330 140.9 328 138.4 328 134.8 326 140.0 326 136.6 324 132.2 324 138.6 322 141.2 322 134.9 320 138.1 320 139.9 318 135.4 318 141.7 316 135.1 316 130.1 314 139.8 314 136.5 312 132.1 312 141.4 310 142.3 310 138.9 308 142.3 308 141.1 306 138.4 306 140.2 304 140.5 304 136.7 302 134.3 302 135.1 300 134.5 300 134.1 298 136.2 298 134.0 296 134.8 296 131.5 294 132.2 294 133.7 292 133.6 292 133.0 290 132.1 290 127.3 288 131.5 288 131.1 286 127.5 286 128.6 284 132.3 284 128.0 282 129.2 282 131.4 280 129.5 280 132.5 278 130.6 278 128.6 276 126.5 276 127.1 274 120.8 274 128.9 272 127.1 272 119.1 270 129.4 270 128.4 268 116.7 268 126.8 266 128.7 266 117.3 264 126.8 264 125.8 262 102.1 262 125.7 260 132.2 260 101.4 258 126.3 258 123.8 256 100.7 256 124.5 254 123.6 254 93.4 252 125.9 252 127.3 250 95.1 250 125.1 248 125.1 248 107.6 246 124.9 246 125.8 244 107.9 244 125.2 242 125.2 242 106.1 240 125.9 240 125.1 238 106.8 238 125.6 236 123.4 236 117.7 234 124.8 234 123.8 232 114.7 232 124.9 230 125.0 230 114.6 228 123.6 228 125.2 226 115.6 226 123.9 224 126.7 224 122.0 222 126.7 222 125.3 220 121.1 220 124.1 218 125.0 218 117.5 216 125.4 216 125.5 214 117.1 214 126.2 212 124.7 212 120.9 210 125.3 210 126.9 208 124.5 208 124.8 206 127.8 206 125.9 204 128.4 204 129.8 202 126.7 202 129.9 200 130.2 200 124.8 198 129.8 198 128.7 196 128.1 196 128.2 194 125.8 194 124.6 192 126.6 192 126.5 190 124.4 190 126.5 188 126.0 188 127.3 186 128.0 186 123.9 184 128.9 184 133.6 182 132.2 182 133.2 180 133.6 180 134.6 178 135.2 178 138.6 176 138.6 176 137.1 174 134.2 174 134.5 172 133.2 172 132.4 170 136.8 170 137.0 168 135.7 168 133.4 166 132.8 166 130.6 164 128.2 164 131.6 162 132.3 162 134.6 160 135.7 160 136.9 158 124.8 158 133.7 156 132.6 156 125.3 154 130.1 154 136.1 152 128.9 152 136.2 150 134.4 150 123.5 148 130.1 148 133.7 146 114.0 146 133.2 144 133.4 144 114.6 142 135.9 142 136.0 140 120.3 140 137.4 138 137.9 138 117.8 136 136.3 136 137.8 134 116.1 134 134.6 132 134.9 132 123.2 130 133.1 130 137.2 128 126.8 128 139.3 126 139.6 126 128.3 124 137.1 124 139.9 122 128.5 122 141.3 120 137.8Z"/></clipPath><pattern id="strp" width="3" height="10" patternUnits="userSpaceOnUse" x="0" y="0"><rect x="0" y="0" width="1" height="10" fill="#fff"/></pattern><pattern id="pat1" width="10.5" height="7.5" patternUnits="userSpaceOnUse" x="501.5" y="0"><path d="M-1 0.5L5.25 5L11.5 0.5" fill="none" stroke="#3818d8" stroke-width="1.9"/></pattern><clipPath id="clp1"><path d="M502 84.5 502 86.2 504 84.8 504 85.6 506 89.3 506 89.9 508 93.1 508 95.8 510 92.5 510 84.4 512 87.1 512 79.2 514 74.7 514 81.6 516 85.5 516 90.6 518 94.2 518 99.0 520 109.5 520 113.3 522 116.8 522 100.6 524 100.0 524 82.1 526 75.6 526 77.3 528 73.1 528 75.3 530 74.7 530 76.2 532 78.5 532 81.2 534 81.2 534 86.2 536 87.6 536 79.8 538 90.5 538 88.3 540 94.3 540 100.4 542 98.7 542 109.5 544 106.8 544 108.8 546 93.9 546 83.8 548 87.2 548 81.0 550 85.1 550 83.4 552 88.0 552 87.1 554 88.1 554 84.0 556 86.3 556 85.1 558 78.7 558 79.8 560 79.3 560 82.5 562 89.4 562 90.1 564 98.9 564 85.4 566 83.2 566 60.2 568 55.8 568 56.1 570 45.8 570 48.0 572 44.7 572 48.7 574 45.8 574 46.3 576 53.6 576 41.2 578 40.2 578 55.5 580 59.1 580 51.0 582 61.7 582 66.8 584 62.4 584 73.4 586 63.9 586 54.7 588 50.8 588 56.7 590 60.1 590 58.1 592 60.4 592 58.9 594 62.8 594 64.5 596 57.4 596 55.4 598 57.6 598 46.3 600 56.3 600 60.6 602 57.0 602 51.7 604 52.9 604 68.4 606 58.8 606 59.2 608 50.9 608 59.2 610 60.7 610 51.7 612 58.7 612 61.5 614 56.4 614 72.5 616 75.5 616 73.4 618 56.9 618 59.9 620 61.6 620 48.5 622 51.0 622 57.9 624 60.4 624 62.8 626 60.3 626 63.3 628 66.9 628 53.7 630 63.8 630 64.4 632 50.7 632 52.0 634 52.7 634 47.3 636 63.8 636 62.4 638 66.4 638 64.1 640 67.5 640 64.5 642 52.5 642 55.4 644 64.6 644 49.4 646 52.5 646 71.1 648 58.2 648 56.7 650 51.0 650 49.8 652 49.9 652 64.5 654 65.2 654 65.7 656 73.1 656 101.8 658 101.7 658 97.6 660 92.5 660 91.3 662 90.9 662 82.7 664 85.0 664 89.3 666 81.9 666 80.7 668 83.5 668 68.3 670 69.6 670 74.6 672 75.1 672 74.2 674 78.2 674 86.4 676 88.3 676 87.9 678 88.4 678 88.5 680 87.2 680 89.0 682 83.8 682 86.4 684 91.0 684 91.2 686 103.5 686 106.1 688 102.1 688 106.0 690 111.1 690 105.3 692 93.0 692 100.1 694 94.1 694 91.2 696 91.4 696 86.6 698 85.9 698 90.8 700 92.5 700 73.9 702 76.6 702 92.4 704 92.8 704 96.2 706 97.1 706 102.1 708 105.8 708 111.4 710 109.8 710 111.8 712 110.0 712 106.3 714 106.8 714 110.9 716 110.9 716 112.9 718 113.1 718 102.4 720 105.7 720 109.5 722 106.1 722 108.0 724 109.4 724 99.9 726 101.9 726 101.8 728 96.7 728 98.2 730 100.6 730 79.7 732 81.7 732 100.1 734 96.7 734 98.5 736 96.0 736 97.8 738 100.4 738 107.7 740 110.9 740 111.6 742 120.6 742 112.1 744 114.4 744 111.7 746 113.4 746 113.4 748 112.1 748 116.0 750 116.6 750 116.5 752 120.0 752 119.9 754 115.9 754 117.8 756 116.4 756 114.3 758 118.1 758 117.6 760 117.8 760 114.7 762 114.7 762 102.7 764 120.1 764 121.7 766 118.3 766 112.8 768 112.1 768 113.8 770 112.0 770 110.5 772 109.6 772 112.4 774 114.3 774 115.3 776 120.2 776 120.9 778 115.7 778 118.9 780 115.6 780 112.0 782 108.7 782 106.3 784 113.7 784 118.8 786 119.7 786 116.1 788 119.1 788 117.0 790 115.6 790 118.2 792 115.1 792 114.6 794 120.0 794 124.1 796 101.5 796 107.7 798 118.5 798 111.6 800 116.6 800 112.0 802 113.2 802 115.4 804 112.1 804 123.8 806 125.4 806 118.6 808 111.7 808 115.3 810 112.1 810 110.4 812 113.7 812 108.7 814 111.7 814 115.8 816 115.8 816 165.4 814 164.5 814 158.4 812 164.6 812 166.3 810 162.8 810 167.0 808 164.9 808 159.5 806 165.4 806 166.2 804 162.5 804 168.3 802 167.5 802 163.4 800 167.0 800 166.6 798 162.3 798 164.4 796 163.8 796 159.1 794 164.7 794 167.1 792 164.1 792 162.7 790 163.1 790 164.4 788 167.2 788 167.5 786 165.0 786 165.7 784 166.2 784 162.6 782 162.9 782 165.8 780 163.3 780 166.0 778 165.0 778 163.2 776 165.8 776 163.4 774 165.6 774 163.5 772 165.0 772 164.3 770 164.0 770 161.6 768 164.2 768 165.2 766 164.5 766 165.7 764 167.0 764 157.1 762 161.6 762 165.0 760 159.5 760 168.2 758 164.5 758 159.5 756 166.4 756 164.2 754 161.2 754 162.0 752 165.1 752 160.5 750 164.6 750 164.5 748 144.1 748 163.9 746 165.2 746 143.6 744 165.7 744 162.2 742 144.9 742 161.4 740 163.6 740 143.2 738 164.4 738 161.8 736 136.4 736 162.9 734 163.1 734 138.5 732 161.8 732 161.2 730 138.2 730 161.9 728 157.4 728 136.4 726 158.0 726 156.0 724 136.2 724 156.3 722 156.4 722 145.7 720 157.2 720 153.7 718 146.8 718 157.3 716 155.8 716 144.8 714 153.1 714 155.6 712 144.2 712 155.6 710 154.7 710 149.9 708 154.9 708 155.7 706 144.6 706 152.8 704 153.7 704 144.8 702 151.2 702 152.5 700 146.8 700 152.5 698 155.5 698 150.1 696 151.8 696 154.7 694 148.3 694 151.4 692 153.1 692 148.5 690 154.7 690 153.6 688 152.1 688 195.1 686 151.6 686 149.3 684 136.9 684 135.3 682 133.1 682 134.0 680 135.2 680 132.9 678 135.7 678 133.4 676 129.5 676 134.3 674 133.6 674 131.2 672 132.5 672 129.3 670 130.7 670 131.1 668 128.2 668 130.5 666 135.0 666 129.7 664 131.2 664 131.2 662 131.5 662 130.6 660 131.9 660 131.3 658 132.4 658 130.9 656 122.8 656 129.3 654 126.0 654 121.1 652 213.4 652 126.8 650 118.7 650 128.0 648 129.1 648 119.3 646 128.2 646 123.7 644 104.1 644 127.7 642 209.0 642 103.4 640 126.2 640 125.4 638 102.7 638 125.1 636 124.8 636 95.4 634 124.5 634 128.1 632 96.7 632 125.9 630 124.5 630 97.2 628 124.7 628 127.8 626 97.8 626 126.3 624 127.2 624 99.6 622 126.9 622 125.5 620 99.0 620 124.8 618 123.1 618 113.0 616 125.3 616 124.3 614 109.3 614 126.1 612 125.2 612 108.1 610 125.6 610 145.1 608 111.2 608 124.8 606 126.6 606 119.1 604 126.9 604 125.1 602 123.1 602 168.7 600 125.2 600 113.2 598 124.8 598 125.8 596 118.4 596 128.2 594 125.4 594 117.9 592 124.1 592 125.6 590 122.4 590 123.8 588 127.6 588 123.4 586 131.5 586 131.7 584 127.1 584 133.5 582 130.7 582 128.2 580 130.4 580 128.7 578 124.9 578 128.8 576 122.5 576 123.9 574 125.4 574 125.0 572 121.4 572 126.3 570 128.0 570 124.1 568 127.0 568 125.9 566 125.8 566 140.3 564 141.2 564 142.0 562 145.0 562 142.5 560 142.4 560 144.1 558 144.8 558 144.0 556 143.9 556 144.6 554 144.4 554 147.3 552 140.4 552 147.9 550 150.5 550 145.2 548 149.8 548 152.5 546 146.5 546 155.7 544 154.8 544 151.4 542 157.2 542 157.4 540 133.9 540 159.7 538 162.5 538 133.4 536 160.7 536 161.0 534 131.3 534 162.3 532 159.8 532 129.2 530 162.2 530 159.0 528 125.4 528 161.0 526 164.4 526 127.4 524 158.1 524 160.3 522 145.1 522 163.6 520 159.3 520 139.3 518 163.3 518 162.4 516 131.0 516 163.3 514 161.9 514 144.0 512 162.5 512 157.8 510 142.7 510 160.9 508 160.0 508 145.2 506 159.5 506 159.5 504 147.5 504 162.3 502 162.6Z"/></clipPath></defs>
<rect width="932" height="358" fill="#fff"/>
<g fill="none" stroke-linejoin="bevel">
<use href="#dat" stroke="#1818f0" stroke-width="1.6"/>
<defs><path id="fc0" d="M119.50 138.4L119.56 138.6 119.63 141.7 119.69 141.8 119.75 141.2 119.81 139.5 119.88 135.9 119.94 123.0 120.00 110.4 120.07 100.1 120.13 97.9 120.19 97.1 120.25 97.2 120.32 98.0 120.38 100.0 120.44 97.2 120.50 98.4 120.57 99.8 120.63 99.6 120.69 101.7 120.76 110.3 120.82 116.4 120.88 124.9 120.94 130.8 121.01 138.7 121.07 141.1 121.13 144.6 121.20 144.6 121.26 143.8 121.32 145.3 121.38 139.8 121.45 124.5 121.51 108.6 121.57 98.9 121.64 94.9 121.70 94.4 121.76 95.3 121.82 95.6 121.89 95.8 121.95 96.2 122.01 97.1 122.07 98.0 122.14 97.5 122.20 101.1 122.26 107.5 122.33 115.8 122.39 126.1 122.45 132.5 122.51 138.7 122.58 138.5 122.64 141.3 122.70 143.5 122.77 143.9 122.83 140.9 122.89 135.9 122.95 124.9 123.02 111.9 123.08 106.1 123.14 100.9 123.21 99.0 123.27 99.9 123.33 102.3 123.39 101.5 123.46 102.1 123.52 101.4 123.58 101.8 123.64 100.7 123.71 106.2 123.77 111.9 123.83 118.0 123.90 127.1 123.96 134.4 124.02 135.1 124.08 136.0 124.15 137.9 124.21 140.1 124.27 141.1 124.34 138.4 124.40 133.0 124.46 122.4 124.52 107.4 124.59 97.5 124.65 93.9 124.71 94.5 124.78 94.7 124.84 96.5 124.90 93.9 124.96 95.7 125.03 95.8 125.09 95.3 125.15 98.4 125.21 99.9 125.28 104.0 125.34 113.3 125.40 123.5 125.47 132.3 125.53 138.2 125.59 141.2 125.65 142.8 125.72 142.3 125.78 143.6 125.84 141.2 125.91 137.0 125.97 123.8 126.03 107.6 126.09 98.1 126.16 94.4 126.22 94.2 126.28 94.3 126.35 94.9 126.41 93.3 126.47 94.4 126.53 95.1 126.60 93.0 126.66 97.1 126.72 100.2 126.78 104.4 126.85 114.8 126.91 125.4 126.97 132.9 127.04 137.0 127.10 137.5 127.16 141.4 127.22 140.9 127.29 142.6 127.35 143.3 127.41 136.0 127.48 122.8 127.54 105.8 127.60 96.6 127.66 94.0 127.73 94.3 127.79 92.6 127.85 94.4 127.92 92.8 127.98 94.9 128.04 93.2 128.10 91.7 128.17 94.3 128.23 96.6 128.29 103.1 128.35 113.8 128.42 123.0 128.48 130.8 128.54 135.4 128.61 135.6 128.67 138.4 128.73 141.1 128.79 141.2 128.86 138.3 128.92 133.8 128.98 121.9 129.05 106.1 129.11 96.1 129.17 92.3 129.23 92.4 129.30 94.2 129.36 93.5 129.42 92.1 129.49 94.9 129.55 92.9 129.61 92.9 129.67 95.7 129.74 98.5 129.80 102.4 129.86 111.9 129.92 123.3 129.99 129.9 130.05 134.0 130.11 135.3 130.18 135.7 130.24 134.2 130.30 137.1 130.36 136.1 130.43 134.0 130.49 118.7 130.55 104.4 130.62 98.4 130.68 93.5 130.74 94.7 130.80 93.9 130.87 93.6 130.93 94.3 130.99 93.7 131.06 93.2 131.12 95.0 131.18 95.0 131.24 98.4 131.31 104.5 131.37 112.6 131.43 120.1 131.49 127.2 131.56 132.2 131.62 134.7 131.68 136.1 131.75 138.2 131.81 138.9 131.87 137.2 131.93 130.5 132.00 120.5 132.06 106.1 132.12 99.8 132.19 96.0 132.25 96.3 132.31 95.8 132.37 94.0 132.44 96.0 132.50 96.9 132.56 94.8 132.63 98.0 132.69 99.4 132.75 98.8 132.81 104.0 132.88 112.0 132.94 122.6 133.00 128.2 133.06 135.0 133.13 134.5 133.19 136.9 133.25 138.6 133.32 137.4 133.38 138.5 133.44 132.2 133.50 119.3 133.57 103.5 133.63 93.1 133.69 91.3 133.76 90.4 133.82 91.3 133.88 89.9 133.94 92.4 134.01 92.1 134.07 91.1 134.13 91.8 134.20 91.2 134.26 96.1 134.32 100.0 134.38 111.4 134.45 120.1 134.51 129.9 134.57 135.1 134.63 136.6 134.70 140.1 134.76 139.7 134.82 141.8 134.89 140.9 134.95 133.8 135.01 123.1 135.07 106.9 135.14 98.4 135.20 93.3 135.26 95.0 135.33 94.6 135.39 96.3 135.45 96.4 135.51 94.5 135.58 94.2 135.64 96.3 135.70 96.5 135.77 100.6 135.83 104.4 135.89 115.2 135.95 125.4 136.02 129.5 136.08 132.7 136.14 135.7 136.20 137.2 136.27 140.3 136.33 138.2 136.39 137.2 136.46 131.2 136.52 120.2 136.58 102.3 136.64 94.3 136.71 89.7 136.77 91.4 136.83 91.8 136.90 91.9 136.96 90.2 137.02 92.3 137.08 92.5 137.15 93.4 137.21 92.1 137.27 96.6 137.34 102.2 137.40 111.2 137.46 121.8 137.52 127.9 137.59 135.5 137.65 140.5 137.71 141.2 137.77 141.9 137.84 141.5 137.90 139.8 137.96 134.6 138.03 120.4 138.09 104.6 138.15 94.3 138.21 92.6 138.28 91.7 138.34 92.0 138.40 91.8 138.47 94.1 138.53 94.6 138.59 91.5 138.65 95.3 138.72 94.9 138.78 97.5 138.84 103.8 138.91 110.0 138.97 123.5 139.03 132.9 139.09 135.4 139.16 139.2 139.22 139.3 139.28 140.0 139.34 141.4 139.41 139.6 139.47 134.0 139.53 119.7 139.60 101.7 139.66 92.8 139.72 88.3 139.78 88.4 139.85 88.0 139.91 87.4 139.97 87.2 140.04 88.1 140.10 87.7 140.16 88.3 140.22 90.4 140.29 93.0 140.35 99.3 140.41 109.0 140.48 121.2 140.54 129.7 140.60 133.3 140.66 136.7 140.73 139.8 140.79 140.0 140.85 138.0 140.91 137.5 140.98 133.6 141.04 118.6 141.10 101.4 141.17 90.9 141.23 87.3 141.29 89.0 141.35 87.7 141.42 88.9 141.48 89.1 141.54 87.8 141.61 87.7 141.67 90.5 141.73 89.7 141.79 93.2 141.86 99.3 141.92 108.9 141.98 120.4 142.05 129.2 142.11 134.4 142.17 134.9 142.23 138.5 142.30 139.4 142.36 139.5 142.42 139.9 142.48 131.7 142.55 118.6 142.61 97.4 142.67 88.1 142.74 85.2 142.80 83.7 142.86 85.8 142.92 85.4 142.99 84.0 143.05 84.4 143.11 84.2 143.18 82.5 143.24 85.4 143.30 88.7 143.36 96.2 143.43 107.8 143.49 116.2 143.55 127.7 143.62 132.3 143.68 134.4 143.74 137.4 143.80 136.4 143.87 135.7 143.93 135.8 143.99 130.9 144.05 114.0 144.12 94.9 144.18 84.6 144.24 82.5 144.31 80.6 144.37 81.8 144.43 81.6 144.49 81.3 144.56 82.4 144.62 81.9 144.68 81.0 144.75 82.4 144.81 87.0 144.87 95.0 144.93 105.1 145.00 116.7 145.06 125.8 145.12 130.8 145.19 135.0 145.25 136.7 145.31 134.3 145.37 137.2 145.44 133.7 145.50 130.6 145.56 118.0 145.62 98.7 145.69 90.7 145.75 86.8 145.81 83.7 145.88 89.0 145.94 87.4 146.00 84.1 146.06 88.6 146.13 86.4 146.19 86.9 146.25 87.9 146.32 92.3 146.38 97.8 146.44 106.3 146.50 118.2 146.57 125.1 146.63 132.4 146.69 133.8 146.76 136.8 146.82 135.7 146.88 137.0 146.94 137.7 147.01 129.4 147.07 113.2 147.13 92.0 147.19 81.1 147.26 77.6 147.32 77.2 147.38 76.5 147.45 76.4 147.51 77.7 147.57 79.1 147.63 78.0 147.70 78.6 147.76 78.6 147.82 82.4 147.89 89.1 147.95 101.9 148.01 115.2 148.07 126.0 148.14 129.8 148.20 130.3 148.26 133.9 148.33 134.1 148.39 133.1 148.45 132.5 148.51 127.5 148.58 111.1 148.64 90.9 148.70 78.8 148.76 75.2 148.83 73.5 148.89 76.1 148.95 78.6 149.02 75.4 149.08 73.4 149.14 75.5 149.20 75.9 149.27 77.9 149.33 81.2 149.39 89.1 149.46 100.7 149.52 113.1 149.58 121.5 149.64 130.6 149.71 133.8 149.77 135.6 149.83 138.4 149.90 138.0 149.96 136.8 150.02 127.5 150.08 112.0 150.15 92.7 150.21 80.7 150.27 76.3 150.33 76.9 150.40 75.4 150.46 75.2 150.52 75.4 150.59 75.1 150.65 76.0 150.71 74.7 150.77 79.4 150.84 83.3 150.90 89.6 150.96 101.4 151.03 112.8 151.09 126.8 151.15 134.0 151.21 135.3 151.28 137.8 151.34 140.2 151.40 139.2 151.47 139.1 151.53 132.9 151.59 111.8 151.65 87.9 151.72 76.5 151.78 73.4 151.84 72.6 151.90 72.4 151.97 71.9 152.03 73.3 152.09 71.6 152.16 73.9 152.22 72.4 152.28 74.0 152.34 78.8 152.41 87.9 152.47 100.4 152.53 114.0 152.60 126.4 152.66 131.0 152.72 136.2 152.78 138.2 152.85 139.4 152.91 140.1 152.97 136.9 153.04 129.3 153.10 111.6 153.16 87.5 153.22 73.4 153.29 70.7 153.35 71.4 153.41 71.9 153.47 70.9 153.54 70.2 153.60 68.0 153.66 68.2 153.73 72.2 153.79 74.1 153.85 76.0 153.91 85.1 153.98 99.5 154.04 114.7 154.10 126.3 154.17 127.0 154.23 128.6 154.29 132.7 154.35 134.1 154.42 131.5 154.48 132.8 154.54 129.3 154.61 109.8 154.67 86.7 154.73 76.4 154.79 72.1 154.86 71.8 154.92 71.5 154.98 70.5 155.04 70.9 155.11 73.5 155.17 72.3 155.23 73.4 155.30 75.8 155.36 79.6 155.42 85.9 155.48 97.2 155.55 111.8 155.61 121.1 155.67 131.0 155.74 130.9 155.80 135.1 155.86 136.6 155.92 134.2 155.99 135.3 156.05 129.6 156.11 115.0 156.18 94.1 156.24 84.3 156.30 79.8 156.36 81.3 156.43 79.3 156.49 81.8 156.55 81.3 156.61 79.1 156.68 80.4 156.74 83.1 156.80 84.0 156.87 86.1 156.93 92.8 156.99 105.0 157.05 114.9 157.12 125.3 157.18 131.3 157.24 130.8 157.31 136.4 157.37 137.7 157.43 135.2 157.49 133.5 157.56 128.8 157.62 112.9 157.68 93.0 157.75 81.4 157.81 76.6 157.87 79.2 157.93 77.4 158.00 77.1 158.06 77.5 158.12 79.8 158.18 78.7 158.25 79.5 158.31 82.2 158.37 83.8 158.44 89.1 158.50 103.5 158.56 116.0 158.62 125.1 158.69 133.3 158.75 135.0 158.81 138.3 158.88 138.8 158.94 140.9 159.00 139.1 159.06 134.8 159.13 117.0 159.19 95.3 159.25 86.3 159.32 80.0 159.38 82.1 159.44 82.0 159.50 80.7 159.57 80.2 159.63 81.7 159.69 81.3 159.75 82.5 159.82 84.1 159.88 87.5 159.94 94.4 160.01 107.0 160.07 119.3 160.13 130.1 160.19 131.2 160.26 135.3 160.32 136.7 160.38 139.7 160.45 138.6 160.51 138.6 160.57 133.5 160.63 116.1 160.70 97.9 160.76 87.8 160.82 82.3 160.89 82.4 160.95 83.9 161.01 81.2 161.07 82.8 161.14 83.2 161.20 83.7 161.26 84.5 161.32 87.6 161.39 88.6 161.45 94.4 161.51 106.7 161.58 117.8 161.64 128.5 161.70 131.4 161.76 131.3 161.83 133.5 161.89 136.3 161.95 135.5 162.02 134.9 162.08 131.0 162.14 114.0 162.20 95.2 162.27 83.6 162.33 79.5 162.39 79.9 162.46 80.3 162.52 81.4 162.58 81.7 162.64 83.0 162.71 80.4 162.77 82.6 162.83 82.1 162.89 84.5 162.96 94.4 163.02 104.4 163.08 115.3 163.15 124.8 163.21 130.4 163.27 133.6 163.33 134.8 163.40 135.6 163.46 134.1 163.52 132.2 163.59 128.5 163.65 112.5 163.71 95.1 163.77 87.4 163.84 82.6 163.90 81.2 163.96 80.5 164.03 81.1 164.09 82.8 164.15 80.2 164.21 81.4 164.28 83.6 164.34 83.5 164.40 87.2 164.46 92.4 164.53 105.1 164.59 118.2 164.65 124.8 164.72 130.6 164.78 130.9 164.84 133.9 164.90 134.6 164.97 132.9 165.03 133.4 165.09 127.9 165.16 112.0 165.22 92.8 165.28 81.3 165.34 79.9 165.41 78.4 165.47 79.4 165.53 78.6 165.60 80.1 165.66 79.7 165.72 80.2 165.78 78.9 165.85 81.8 165.91 84.9 165.97 91.0 166.03 101.8 166.10 114.9 166.16 124.0 166.22 131.7 166.29 134.2 166.35 136.0 166.41 136.8 166.47 136.2 166.54 137.4 166.60 131.0 166.66 114.6 166.73 93.8 166.79 83.5 166.85 78.9 166.91 80.4 166.98 79.7 167.04 79.6 167.10 79.2 167.17 79.1 167.23 81.3 167.29 80.4 167.35 82.7 167.42 84.7 167.48 92.5 167.54 105.1 167.60 115.4 167.67 125.2 167.73 133.5 167.79 137.1 167.86 137.4 167.92 139.7 167.98 138.8 168.04 137.4 168.11 135.6 168.17 117.0 168.23 98.5 168.30 88.1 168.36 84.5 168.42 82.9 168.48 81.9 168.55 85.3 168.61 81.5 168.67 81.8 168.74 84.4 168.80 85.2 168.86 86.4 168.92 88.7 168.99 94.4 169.05 107.5 169.11 120.9 169.17 128.9 169.24 136.1 169.30 136.9 169.36 140.2 169.43 139.8 169.49 141.0 169.55 140.8 169.61 134.9 169.68 117.9 169.74 96.6 169.80 85.6 169.87 82.2 169.93 83.3 169.99 83.1 170.05 81.2 170.12 83.6 170.18 84.5 170.24 82.3 170.31 84.1 170.37 83.7 170.43 88.4 170.49 95.2 170.56 107.2 170.62 119.7 170.68 128.5 170.74 131.6 170.81 130.7 170.87 134.2 170.93 136.4 171.00 136.3 171.06 135.9 171.12 129.1 171.18 114.0 171.25 97.2 171.31 87.3 171.37 82.3 171.44 85.2 171.50 84.7 171.56 84.2 171.62 87.0 171.69 84.0 171.75 85.1 171.81 86.2 171.88 86.6 171.94 89.2 172.00 96.0 172.06 106.7 172.13 118.6 172.19 125.5 172.25 131.6 172.31 133.5 172.38 136.1 172.44 137.2 172.50 137.1 172.57 138.5 172.63 130.3 172.69 114.2 172.75 96.8 172.82 84.9 172.88 77.1 172.94 79.8 173.01 79.5 173.07 78.2 173.13 78.4 173.19 81.0 173.26 80.6 173.32 80.8 173.38 81.0 173.45 86.6 173.51 92.5 173.57 103.9 173.63 116.8 173.70 124.5 173.76 131.9 173.82 135.2 173.88 136.3 173.95 136.5 174.01 138.2 174.07 134.6 174.14 129.8 174.20 115.3 174.26 96.3 174.32 86.2 174.39 80.2 174.45 82.3 174.51 82.1 174.58 80.9 174.64 83.3 174.70 81.9 174.76 82.0 174.83 83.2 174.89 84.0 174.95 87.3 175.02 93.0 175.08 105.0 175.14 117.0 175.20 124.8 175.27 134.1 175.33 140.4 175.39 139.6 175.45 141.1 175.52 142.6 175.58 140.9 175.64 132.6 175.71 117.3 175.77 95.3 175.83 83.1 175.89 78.2 175.96 78.6 176.02 77.6 176.08 77.3 176.15 78.8 176.21 80.8 176.27 80.1 176.33 80.0 176.40 81.6 176.46 85.1 176.52 93.2 176.59 105.9 176.65 117.8 176.71 128.5 176.77 136.8 176.84 136.8 176.90 138.3 176.96 142.6 177.02 141.4 177.09 140.6 177.15 135.4 177.21 116.3 177.28 96.3 177.34 85.5 177.40 80.6 177.46 80.7 177.53 80.5 177.59 81.2 177.65 80.0 177.72 81.3 177.78 80.3 177.84 82.2 177.90 84.2 177.97 86.2 178.03 94.0 178.09 105.3 178.16 121.4 178.22 129.3 178.28 133.9 178.34 137.9 178.41 137.9 178.47 139.2 178.53 138.6 178.59 136.9 178.66 133.9 178.72 116.4 178.78 95.9 178.85 85.8 178.91 80.7 178.97 81.7 179.03 82.0 179.10 82.5 179.16 81.4 179.22 81.7 179.29 82.2 179.35 83.5 179.41 84.9 179.47 87.0 179.54 93.7 179.60 104.4 179.66 118.1 179.73 128.1 179.79 130.7 179.85 131.4 179.91 133.1 179.98 135.1 180.04 137.6 180.10 135.6 180.16 128.9 180.23 114.8 180.29 92.6 180.35 81.6 180.42 78.1 180.48 77.9 180.54 77.7 180.60 78.8 180.67 77.9 180.73 78.7 180.79 79.0 180.86 80.2 180.92 79.0 180.98 83.0 181.04 90.5 181.11 101.8 181.17 115.1 181.23 123.6 181.30 129.7 181.36 131.4 181.42 134.9 181.48 137.2 181.55 134.8 181.61 136.2 181.67 130.9 181.73 113.7 181.80 98.3 181.86 89.5 181.92 83.5 181.99 86.1 182.05 85.6 182.11 86.0 182.17 87.4 182.24 86.7 182.30 87.0 182.36 86.0 182.43 89.0 182.49 92.0 182.55 98.1 182.61 110.4 182.68 118.0 182.74 126.8 182.80 131.2 182.87 133.9 182.93 137.6 182.99 136.0 183.05 135.2 183.12 136.5 183.18 129.9 183.24 116.5 183.30 99.9 183.37 90.5 183.43 87.6 183.49 88.3 183.56 89.0 183.62 86.6 183.68 90.0 183.74 88.3 183.81 87.2 183.87 87.3 183.93 89.5 184.00 93.4 184.06 96.9 184.12 106.0 184.18 119.3 184.25 124.6 184.31 134.1 184.37 136.6 184.44 138.3 184.50 138.1 184.56 140.2 184.62 138.7 184.69 131.8 184.75 115.3 184.81 91.9 184.87 79.3 184.94 74.0 185.00 76.2 185.06 75.2 185.13 76.2 185.19 75.6 185.25 75.8 185.31 74.8 185.38 75.9 185.44 77.8 185.50 79.5 185.57 89.4 185.63 100.7 185.69 115.7 185.75 124.7 185.82 134.8 185.88 136.4 185.94 139.1 186.01 140.7 186.07 142.0 186.13 139.6 186.19 132.4 186.26 112.1 186.32 89.6 186.38 76.3 186.44 73.2 186.51 72.4 186.57 72.8 186.63 71.9 186.70 72.7 186.76 73.7 186.82 75.1 186.88 74.6 186.95 76.1 187.01 78.4 187.07 88.4 187.14 100.3 187.20 114.6 187.26 125.9 187.32 127.8 187.39 129.6 187.45 132.0 187.51 134.4 187.58 132.9 187.64 132.1 187.70 125.7 187.76 108.7 187.83 87.0 187.89 74.8 187.95 72.2 188.01 68.4 188.08 71.5 188.14 72.4 188.20 72.8 188.27 72.3 188.33 72.4 188.39 72.0 188.45 73.2 188.52 76.4 188.58 84.3 188.64 95.7 188.71 108.9 188.77 122.0 188.83 128.9 188.89 132.0 188.96 132.6 189.02 132.7 189.08 134.3 189.15 134.0 189.21 125.3 189.27 111.5 189.33 92.6 189.40 84.7 189.46 78.9 189.52 77.4 189.58 77.5 189.65 77.5 189.71 77.7 189.77 79.8 189.84 79.0 189.90 79.8 189.96 79.3 190.02 86.2 190.09 90.0 190.15 100.2 190.21 113.4 190.28 123.2 190.34 126.1 190.40 128.6 190.46 133.1 190.53 131.1 190.59 132.7 190.65 128.3 190.72 125.4 190.78 108.9 190.84 90.6 190.90 79.7 190.97 74.9 191.03 75.7 191.09 75.7 191.15 75.4 191.22 74.9 191.28 75.0 191.34 75.4 191.41 76.3 191.47 76.9 191.53 81.8 191.59 86.5 191.66 97.2 191.72 110.1 191.78 119.4 191.85 130.2 191.91 133.8 191.97 135.7 192.03 138.1 192.10 137.1 192.16 136.0 192.22 130.4 192.29 110.9 192.35 88.2 192.41 75.4 192.47 70.2 192.54 70.8 192.60 72.8 192.66 71.4 192.72 68.8 192.79 70.6 192.85 72.3 192.91 71.8 192.98 74.5 193.04 78.0 193.10 85.2 193.16 100.5 193.23 113.0 193.29 125.9 193.35 127.8 193.42 130.3 193.48 132.2 193.54 132.0 193.60 132.7 193.67 132.3 193.73 125.2 193.79 111.4 193.86 90.6 193.92 80.4 193.98 76.2 194.04 73.8 194.11 76.6 194.17 77.1 194.23 78.4 194.29 77.6 194.36 76.8 194.42 77.6 194.48 78.1 194.55 81.7 194.61 87.0 194.67 100.1 194.73 113.9 194.80 121.7 194.86 129.7 194.92 132.6 194.99 136.6 195.05 137.9 195.11 135.2 195.17 134.5 195.24 129.3 195.30 113.5 195.36 92.2 195.43 81.7 195.49 78.2 195.55 77.9 195.61 75.9 195.68 77.7 195.74 76.8 195.80 77.4 195.86 77.9 195.93 78.2 195.99 79.4 196.05 84.0 196.12 92.2 196.18 101.7 196.24 115.5 196.30 123.7 196.37 129.4 196.43 131.7 196.49 133.9 196.56 136.5 196.62 136.3 196.68 136.6 196.74 129.7 196.81 113.2 196.87 91.6 196.93 80.9 197.00 78.1 197.06 77.6 197.12 77.9 197.18 78.1 197.25 76.3 197.31 77.8 197.37 79.6 197.43 79.3 197.50 81.8 197.56 83.3 197.62 91.1 197.69 103.8 197.75 118.3 197.81 125.2 197.87 128.6 197.94 131.8 198.00 133.7 198.06 135.2 198.13 135.8 198.19 133.8 198.25 128.3 198.31 108.0 198.38 87.0 198.44 74.4 198.50 70.3 198.57 72.2 198.63 70.2 198.69 70.9 198.75 71.4 198.82 72.5 198.88 72.4 198.94 71.8 199.00 72.8 199.07 78.4 199.13 86.5 199.19 96.9 199.26 113.2 199.32 122.5 199.38 127.7 199.44 128.8 199.51 132.9 199.57 134.2 199.63 131.1 199.70 133.4 199.76 126.1 199.82 107.8 199.88 88.7 199.95 75.8 200.01 73.5 200.07 74.1 200.14 72.2 200.20 72.0 200.26 71.2 200.32 72.8 200.39 75.2 200.45 73.0 200.51 76.7 200.57 79.8 200.64 85.7 200.70 98.8 200.76 111.4 200.83 121.1 200.89 129.0 200.95 131.0 201.01 132.1 201.08 133.9 201.14 133.9 201.20 132.4 201.27 126.4 201.33 111.7 201.39 92.5 201.45 82.9 201.52 77.8 201.58 77.0 201.64 79.8 201.71 79.2 201.77 78.1 201.83 80.4 201.89 79.3 201.96 79.4 202.02 82.6 202.08 85.7 202.14 90.8 202.21 103.0 202.27 114.5 202.33 121.2 202.40 126.5 202.46 130.7 202.52 132.3 202.58 133.1 202.65 133.8 202.71 133.1 202.77 127.5 202.84 109.7 202.90 87.9 202.96 78.8 203.02 72.5 203.09 72.5 203.15 73.1 203.21 73.1 203.28 74.1 203.34 73.8 203.40 75.3 203.46 74.3 203.53 75.6 203.59 81.6 203.65 86.7 203.71 98.5 203.78 112.6 203.84 123.0 203.90 128.0 203.97 128.2 204.03 129.6 204.09 131.3 204.15 132.0 204.22 132.4 204.28 126.8 204.34 108.4 204.41 87.8 204.47 79.5 204.53 74.2 204.59 74.2 204.66 75.8 204.72 75.1 204.78 73.0 204.85 75.3 204.91 75.0 204.97 76.5 205.03 75.3 205.10 80.0 205.16 86.4 205.22 98.9 205.28 110.5 205.35 121.5 205.41 128.6 205.47 133.0 205.54 135.5 205.60 135.4 205.66 136.8 205.72 135.7 205.79 128.4 205.85 111.3 205.91 91.4 205.98 80.9 206.04 78.5 206.10 78.3 206.16 77.8 206.23 78.3 206.29 78.4 206.35 77.4 206.42 77.7 206.48 77.5 206.54 80.7 206.60 83.9 206.67 91.2 206.73 102.2 206.79 114.9 206.85 123.2 206.92 126.0 206.98 130.4 207.04 129.2 207.11 133.6 207.17 131.1 207.23 130.5 207.29 126.6 207.36 108.9 207.42 88.1 207.48 80.5 207.55 76.7 207.61 76.3 207.67 74.5 207.73 76.2 207.80 75.9 207.86 76.2 207.92 76.8 207.99 76.1 208.05 79.6 208.11 81.0 208.17 88.6 208.24 100.1 208.30 111.9 208.36 121.8 208.42 129.0 208.49 131.7 208.55 132.2 208.61 134.9 208.68 134.5 208.74 132.1 208.80 127.8 208.86 111.5 208.93 92.2 208.99 81.2 209.05 77.8 209.12 78.1 209.18 78.8 209.24 78.9 209.30 78.6 209.37 78.6 209.43 79.5 209.49 81.3 209.56 81.9 209.62 84.8 209.68 91.5 209.74 102.1 209.81 114.5 209.87 123.6 209.93 125.4 209.99 128.0 210.06 130.6 210.12 131.7 210.18 131.1 210.25 129.2 210.31 122.9 210.37 106.9 210.43 90.2 210.50 79.9 210.56 75.4 210.62 74.5 210.69 75.8 210.75 76.9 210.81 76.9 210.87 78.4 210.94 77.0 211.00 77.6 211.06 79.0 211.13 79.4 211.19 88.5 211.25 97.9 211.31 111.1 211.38 117.9 211.44 125.4 211.50 127.8 211.56 130.4 211.63 132.8 211.69 131.0 211.75 131.7 211.82 126.3 211.88 108.3 211.94 90.5 212.00 81.1 212.07 74.8 212.13 76.1 212.19 76.9 212.26 74.8 212.32 74.8 212.38 75.9 212.44 75.9 212.51 75.6 212.57 77.3 212.63 80.2 212.70 88.5 212.76 101.6 212.82 112.7 212.88 119.3 212.95 124.8 213.01 124.7 213.07 128.3 213.13 128.5 213.20 130.2 213.26 127.8 213.32 122.6 213.39 107.8 213.45 89.2 213.51 80.3 213.57 78.1 213.64 77.9 213.70 77.1 213.76 76.4 213.83 76.2 213.89 78.2 213.95 76.0 214.01 76.4 214.08 77.8 214.14 81.9 214.20 88.2 214.27 98.7 214.33 109.6 214.39 117.5 214.45 121.1 214.52 125.7 214.58 126.7 214.64 129.5 214.70 127.3 214.77 127.5 214.83 122.6 214.89 107.6 214.96 89.4 215.02 80.1 215.08 75.8 215.14 76.3 215.21 75.4 215.27 75.4 215.33 78.1 215.40 75.9 215.46 75.7 215.52 74.7 215.58 76.6 215.65 80.8 215.71 86.3 215.77 97.7 215.84 108.0 215.90 119.0 215.96 128.7 216.02 130.3 216.09 132.6 216.15 133.8 216.21 134.8 216.27 132.3 216.34 127.7 216.40 111.4 216.46 90.8 216.53 81.6 216.59 78.1 216.65 78.6 216.71 79.7 216.78 77.1 216.84 77.5 216.90 79.2 216.97 78.6 217.03 77.7 217.09 81.3 217.15 82.6 217.22 89.0 217.28 100.5 217.34 111.9 217.41 122.0 217.47 123.9 217.53 126.8 217.59 127.4 217.66 128.1 217.72 129.0 217.78 127.3 217.84 125.2 217.91 109.0 217.97 89.1 218.03 78.6 218.10 75.6 218.16 75.9 218.22 74.9 218.28 76.0 218.35 78.0 218.41 73.6 218.47 76.0 218.54 77.2 218.60 76.6 218.66 79.5 218.72 87.4 218.79 97.6 218.85 109.1 218.91 117.0 218.98 124.5 219.04 124.7 219.10 127.9 219.16 128.1 219.23 126.8 219.29 127.1 219.35 120.0 219.41 108.0 219.48 89.5 219.54 78.6 219.60 77.1 219.67 78.1 219.73 75.8 219.79 74.7 219.85 74.8 219.92 76.6 219.98 78.8 220.04 76.5 220.11 80.7 220.17 80.7 220.23 88.2 220.29 96.6 220.36 110.3 220.42 117.4 220.48 128.9 220.55 130.1 220.61 132.7 220.67 134.1 220.73 133.9 220.80 132.7 220.86 126.3 220.92 110.5 220.98 90.0 221.05 81.7 221.11 76.0 221.17 74.3 221.24 76.9 221.30 77.4 221.36 75.9 221.42 77.0 221.49 76.6 221.55 78.3 221.61 80.3 221.68 82.4 221.74 89.0 221.80 101.6 221.86 113.6 221.93 121.7 221.99 128.0 222.05 132.0 222.12 132.8 222.18 134.2 222.24 132.8 222.30 134.1 222.37 126.4 222.43 110.9 222.49 90.9 222.55 79.4 222.62 75.2 222.68 77.5 222.74 76.3 222.81 77.3 222.87 78.8 222.93 76.2 222.99 77.0 223.06 77.7 223.12 77.1 223.18 81.3 223.25 91.1 223.31 100.6 223.37 114.3 223.43 124.4 223.50 126.1 223.56 130.2 223.62 131.8 223.69 131.4 223.75 132.3 223.81 131.7 223.87 125.2 223.94 111.6 224.00 92.9 224.06 79.9 224.12 79.2 224.19 78.2 224.25 79.7 224.31 78.9 224.38 79.9 224.44 79.1 224.50 78.3 224.56 81.8 224.63 80.8 224.69 85.3 224.75 90.5 224.82 100.2 224.88 111.8 224.94 122.6 225.00 125.9 225.07 127.7 225.13 127.6 225.19 130.5 225.26 130.0 225.32 129.8 225.38 124.5 225.44 110.6 225.51 93.9 225.57 84.6 225.63 82.9 225.69 81.1 225.76 81.3 225.82 83.0 225.88 82.5 225.95 82.4 226.01 82.4 226.07 83.5 226.13 83.7 226.20 85.3 226.26 93.7 226.32 102.1 226.39 110.9 226.45 119.6 226.51 123.2 226.57 125.7 226.64 129.2 226.70 128.4 226.76 128.4 226.83 126.4 226.89 124.2 226.95 110.0 227.01 92.4 227.08 85.8 227.14 83.4 227.20 81.4 227.26 81.7 227.33 82.9 227.39 84.1 227.45 81.0 227.52 83.8 227.58 82.2 227.64 81.4 227.70 87.3 227.77 90.3 227.83 100.6 227.89 113.9 227.96 118.4 228.02 126.2 228.08 125.8 228.14 128.6 228.21 130.4 228.27 127.6 228.33 128.3 228.40 125.9 228.46 109.7 228.52 93.1 228.58 84.5 228.65 80.5 228.71 83.1 228.77 79.3 228.83 82.4 228.90 81.8 228.96 81.4 229.02 82.6 229.09 80.3 229.15 82.9 229.21 86.7 229.27 92.0 229.34 100.5 229.40 112.6 229.46 120.8 229.53 126.7 229.59 130.0 229.65 130.9 229.71 132.3 229.78 131.9 229.84 132.5 229.90 126.3 229.97 110.9 230.03 93.9 230.09 82.8 230.15 79.6 230.22 78.9 230.28 79.1 230.34 81.5 230.40 79.8 230.47 79.3 230.53 81.1 230.59 80.5 230.66 81.9 230.72 85.3 230.78 92.9 230.84 103.3 230.91 112.5 230.97 123.6 231.03 124.0 231.10 123.6 231.16 126.2 231.22 128.0 231.28 128.9 231.35 125.4 231.41 123.0 231.47 108.0 231.54 88.7 231.60 80.8 231.66 74.1 231.72 77.1 231.79 75.2 231.85 76.4 231.91 73.7 231.97 76.9 232.04 75.9 232.10 74.7 232.16 76.8 232.23 82.3 232.29 85.7 232.35 97.2 232.41 109.6 232.48 118.7 232.54 127.9 232.60 130.5 232.67 132.6 232.73 134.3 232.79 132.0 232.85 131.5 232.92 125.7 232.98 112.0 233.04 89.3 233.11 79.4 233.17 77.3 233.23 74.3 233.29 75.2 233.36 75.6 233.42 77.5 233.48 78.1 233.54 79.0 233.61 74.2 233.67 76.9 233.73 82.4 233.80 86.7 233.86 100.9 233.92 111.2 233.98 123.0 234.05 128.4 234.11 129.8 234.17 132.9 234.24 136.5 234.30 135.2 234.36 135.3 234.42 126.7 234.49 112.5 234.55 94.4 234.61 85.0 234.68 80.0 234.74 80.1 234.80 79.5 234.86 79.8 234.93 79.2 234.99 81.4 235.05 80.7 235.11 80.8 235.18 82.4 235.24 85.9 235.30 91.2 235.37 102.2 235.43 114.9 235.49 121.7 235.55 125.4 235.62 127.3 235.68 130.8 235.74 129.8 235.81 131.1 235.87 130.4 235.93 123.8 235.99 112.5 236.06 90.3 236.12 82.2 236.18 81.8 236.25 82.4 236.31 79.8 236.37 80.5 236.43 79.0 236.50 80.1 236.56 79.7 236.62 81.5 236.68 82.0 236.75 83.8 236.81 91.5 236.87 99.3 236.94 114.5 237.00 119.4 237.06 125.4 237.12 129.6 237.19 131.3 237.25 133.2 237.31 132.2 237.38 133.3 237.44 123.0 237.50 109.6 237.56 90.3 237.63 78.0 237.69 73.0 237.75 73.5 237.82 72.7 237.88 73.7 237.94 72.5 238.00 73.9 238.07 73.4 238.13 74.0 238.19 74.3 238.25 78.3 238.32 84.3 238.38 97.4 238.44 110.8 238.51 120.9 238.57 126.7 238.63 128.5 238.69 131.0 238.76 131.9 238.82 132.5 238.88 132.3 238.95 125.3 239.01 110.8 239.07 91.1 239.13 81.3 239.20 78.8 239.26 75.7 239.32 77.4 239.39 76.5 239.45 76.6 239.51 77.4 239.57 78.0 239.64 79.3 239.70 78.8 239.76 81.9 239.82 90.0 239.89 102.1 239.95 113.8 240.01 122.6 240.08 125.9 240.14 129.2 240.20 131.6 240.26 130.1 240.33 132.4 240.39 129.7 240.45 126.6 240.52 108.3 240.58 87.1 240.64 77.5 240.70 73.0 240.77 73.7 240.83 73.6 240.89 71.6 240.96 72.1 241.02 73.2 241.08 74.0 241.14 75.5 241.21 74.7 241.27 79.1 241.33 86.9 241.39 98.4 241.46 110.1 241.52 120.3 241.58 125.6 241.65 127.1 241.71 129.4 241.77 130.1 241.83 129.5 241.90 129.1 241.96 122.7 242.02 107.1 242.09 86.9 242.15 78.4 242.21 73.7 242.27 72.5 242.34 73.3 242.40 70.3 242.46 72.8 242.53 74.6 242.59 71.5 242.65 72.7 242.71 74.4 242.78 77.9 242.84 85.9 242.90 97.9 242.96 108.8 243.03 118.1 243.09 129.2 243.15 132.0 243.22 134.5 243.28 135.1 243.34 134.2 243.40 133.3 243.47 126.2 243.53 108.9 243.59 87.1 243.66 77.2 243.72 73.1 243.78 72.5 243.84 73.0 243.91 73.4 243.97 73.2 244.03 73.0 244.10 73.3 244.16 74.5 244.22 75.9 244.28 80.1 244.35 89.6 244.41 99.7 244.47 111.9 244.53 123.2 244.60 127.5 244.66 129.1 244.72 130.8 244.79 132.8 244.85 132.4 244.91 133.9 244.97 126.5 245.04 113.5 245.10 91.8 245.16 82.7 245.23 78.6 245.29 78.3 245.35 79.4 245.41 79.7 245.48 78.8 245.54 79.5 245.60 79.6 245.67 80.3 245.73 80.6 245.79 83.6 245.85 91.6 245.92 100.7 245.98 114.6 246.04 122.1 246.10 125.4 246.17 127.1 246.23 131.0 246.29 130.9 246.36 132.7 246.42 129.2 246.48 123.6 246.54 109.7 246.61 91.2 246.67 78.1 246.73 74.3 246.80 76.0 246.86 75.1 246.92 76.2 246.98 76.2 247.05 75.6 247.11 75.4 247.17 76.8 247.24 78.6 247.30 81.6 247.36 86.5 247.42 98.9 247.49 111.6 247.55 120.6 247.61 125.6 247.67 127.7 247.74 128.2 247.80 130.1 247.86 132.6 247.93 129.6 247.99 124.5 248.05 110.5 248.11 91.7 248.18 80.4 248.24 77.2 248.30 79.1 248.37 79.8 248.43 79.0 248.49 80.0 248.55 79.2 248.62 80.9 248.68 80.9 248.74 80.2 248.81 84.4 248.87 91.3 248.93 102.8 248.99 111.0 249.06 120.1 249.12 128.8 249.18 128.0 249.24 133.2 249.31 134.8 249.37 134.9 249.43 135.2 249.50 128.7 249.56 110.7 249.62 89.7 249.68 77.1 249.75 73.6 249.81 73.8 249.87 72.2 249.94 74.4 250.00 73.1 250.06 72.0 250.12 75.0 250.19 73.7 250.25 74.3 250.31 79.6 250.38 86.8 250.44 100.4 250.50 111.8 250.56 124.1 250.63 130.1 250.69 131.6 250.75 133.9 250.81 135.5 250.88 133.7 250.94 134.2 251.00 128.5 251.07 111.1 251.13 92.0 251.19 83.6 251.25 79.9 251.32 78.8 251.38 81.0 251.44 80.0 251.51 80.7 251.57 80.2 251.63 80.0 251.69 81.8 251.76 82.0 251.82 86.7 251.88 92.1 251.95 103.2 252.01 114.4 252.07 124.8 252.13 129.6 252.20 129.9 252.26 135.9 252.32 133.8 252.38 133.6 252.45 133.1 252.51 126.3 252.57 110.6 252.64 90.6 252.70 79.5 252.76 75.0 252.82 74.2 252.89 75.5 252.95 74.8 253.01 74.1 253.08 77.0 253.14 77.4 253.20 76.4 253.26 78.3 253.33 82.4 253.39 88.7 253.45 100.0 253.52 112.8 253.58 123.4 253.64 124.7 253.70 126.9 253.77 130.3 253.83 130.0 253.89 129.5 253.95 129.9 254.02 124.7 254.08 109.9 254.14 93.8 254.21 83.9 254.27 79.9 254.33 80.1 254.39 79.1 254.46 80.7 254.52 80.3 254.58 81.8 254.65 80.6 254.71 82.7 254.77 83.0 254.83 86.0 254.90 91.1 254.96 101.9 255.02 112.0 255.09 120.5 255.15 129.6 255.21 131.8 255.27 133.0 255.34 136.6 255.40 135.8 255.46 134.3 255.52 128.2 255.59 111.7 255.65 89.2 255.71 79.0 255.78 75.0 255.84 73.2 255.90 72.7 255.96 74.5 256.03 73.6 256.09 75.1 256.15 73.6 256.22 76.1 256.28 78.2 256.34 80.4 256.40 89.0 256.47 99.6 256.53 112.5 256.59 122.1 256.66 126.0 256.72 130.2 256.78 132.6 256.84 133.9 256.91 133.4 256.97 132.3 257.03 126.6 257.09 109.6 257.16 91.4 257.22 82.6 257.28 77.3 257.35 79.3 257.41 80.3 257.47 80.4 257.53 78.4 257.60 78.6 257.66 80.4 257.72 79.0 257.79 80.1 257.85 85.4 257.91 89.4 257.97 100.8 258.04 114.6 258.10 122.3 258.16 130.0 258.23 133.5 258.29 136.2 258.35 136.2 258.41 136.7 258.48 136.1 258.54 130.9 258.60 111.4 258.66 88.7 258.73 77.9 258.79 74.1 258.85 74.1 258.92 71.9 258.98 73.3 259.04 72.7 259.10 75.3 259.17 74.6 259.23 74.4 259.29 78.2 259.36 78.6 259.42 87.1 259.48 100.8 259.54 114.5 259.61 123.4 259.67 131.1 259.73 133.7 259.80 136.2 259.86 135.5 259.92 135.5 259.98 134.7 260.05 129.2 260.11 113.8 260.17 91.6 260.23 85.7 260.30 80.2 260.36 79.4 260.42 79.0 260.49 80.5 260.55 79.0 260.61 79.9 260.67 78.4 260.74 80.3 260.80 79.9 260.86 84.3 260.93 92.3 260.99 102.1 261.05 115.5 261.11 123.3 261.18 124.7 261.24 126.9 261.30 129.8 261.37 131.5 261.43 131.6 261.49 129.0 261.55 123.5 261.62 110.2 261.68 92.7 261.74 84.0 261.80 79.6 261.87 80.7 261.93 81.0 261.99 81.0 262.06 80.3 262.12 81.1 262.18 81.8 262.24 82.2 262.31 83.2 262.37 86.1 262.43 91.6 262.50 102.5 262.56 111.7 262.62 122.5 262.68 130.0 262.75 133.4 262.81 136.9 262.87 137.2 262.94 137.0 263.00 134.8 263.06 131.1 263.12 113.7 263.19 94.8 263.25 84.0 263.31 80.4 263.37 79.8 263.44 79.3 263.50 81.7 263.56 79.7 263.63 81.1 263.69 80.9 263.75 81.2 263.81 82.2 263.88 86.3 263.94 92.9 264.00 101.6 264.07 115.3 264.13 125.0 264.19 127.9 264.25 129.3 264.32 132.7 264.38 132.6 264.44 132.7 264.51 131.3 264.57 126.4 264.63 108.0 264.69 91.4 264.76 81.5 264.82 77.1 264.88 76.8 264.94 78.2 265.01 76.3 265.07 77.8 265.13 78.5 265.20 76.3 265.26 76.9 265.32 79.3 265.38 83.8 265.45 89.3 265.51 100.0 265.57 113.2 265.64 121.9 265.70 129.9 265.76 133.1 265.82 136.4 265.89 136.2 265.95 137.9 266.01 135.8 266.08 130.9 266.14 113.2 266.20 92.3 266.26 80.3 266.33 79.1 266.39 75.2 266.45 77.5 266.51 76.8 266.58 75.4 266.64 76.6 266.70 76.8 266.77 78.6 266.83 79.0 266.89 82.6 266.95 86.7 267.02 100.6 267.08 114.3 267.14 124.1 267.21 123.1 267.27 128.6 267.33 128.6 267.39 130.8 267.46 128.3 267.52 128.0 267.58 124.2 267.65 108.7 267.71 90.2 267.77 82.8 267.83 77.7 267.90 76.9 267.96 76.6 268.02 78.1 268.08 78.3 268.15 79.6 268.21 78.5 268.27 79.0 268.34 80.3 268.40 85.3 268.46 89.5 268.52 101.1 268.59 110.7 268.65 118.8 268.71 126.7 268.78 129.8 268.84 131.4 268.90 133.8 268.96 133.6 269.03 131.9 269.09 126.4 269.15 110.7 269.22 93.5 269.28 84.6 269.34 82.3 269.40 81.2 269.47 79.4 269.53 82.1 269.59 81.2 269.65 81.0 269.72 79.8 269.78 81.8 269.84 81.7 269.91 85.8 269.97 90.5 270.03 101.9 270.09 114.2 270.16 123.1 270.22 128.3 270.28 130.4 270.35 131.0 270.41 132.5 270.47 133.4 270.53 130.5 270.60 126.5 270.66 112.6 270.72 95.1 270.79 88.4 270.85 81.9 270.91 83.2 270.97 82.7 271.04 82.4 271.10 83.5 271.16 82.2 271.22 82.7 271.29 84.2 271.35 85.7 271.41 87.9 271.48 93.6 271.54 101.4 271.60 113.4 271.66 121.5 271.73 127.8 271.79 133.1 271.85 133.8 271.92 135.8 271.98 135.0 272.04 134.8 272.10 130.6 272.17 110.4 272.23 91.0 272.29 80.7 272.36 74.9 272.42 74.7 272.48 77.0 272.54 77.4 272.61 77.4 272.67 74.8 272.73 79.3 272.79 76.7 272.86 78.4 272.92 84.6 272.98 88.4 273.05 103.6 273.11 114.3 273.17 122.0 273.23 128.8 273.30 128.3 273.36 129.5 273.42 131.7 273.49 132.9 273.55 131.1 273.61 126.4 273.67 110.9 273.74 94.7 273.80 86.2 273.86 84.7 273.93 83.4 273.99 82.9 274.05 81.6 274.11 81.7 274.18 83.8 274.24 84.7 274.30 84.9 274.36 85.6 274.43 87.1 274.49 94.4 274.55 104.5 274.62 112.1 274.68 123.7 274.74 125.6 274.80 126.5 274.87 131.1 274.93 128.4 274.99 127.4 275.06 128.4 275.12 124.6 275.18 110.2 275.24 93.5 275.31 83.3 275.37 81.5 275.43 81.7 275.50 80.8 275.56 80.3 275.62 80.4 275.68 80.0 275.75 83.6 275.81 81.3 275.87 83.5 275.93 84.1 276.00 91.1 276.06 101.2 276.12 112.0 276.19 120.2 276.25 125.5 276.31 128.0 276.37 130.1 276.44 130.5 276.50 132.6 276.56 130.8 276.63 124.2 276.69 110.4 276.75 91.9 276.81 81.3 276.88 76.9 276.94 77.0 277.00 79.7 277.07 76.6 277.13 77.3 277.19 78.1 277.25 77.4 277.32 78.8 277.38 79.8 277.44 83.4 277.50 88.9 277.57 101.0 277.63 112.1 277.69 122.2 277.76 130.1 277.82 131.1 277.88 131.7 277.94 133.9 278.01 133.0 278.07 134.7 278.13 127.9 278.20 113.2 278.26 94.6 278.32 85.7 278.38 84.0 278.45 82.4 278.51 84.2 278.57 82.7 278.64 82.7 278.70 81.2 278.76 83.3 278.82 82.7 278.89 85.5 278.95 88.1 279.01 93.1 279.07 105.6 279.14 115.0 279.20 124.6 279.26 129.1 279.33 131.4 279.39 132.9 279.45 136.6 279.51 135.7 279.58 132.7 279.64 127.3 279.70 112.6 279.77 91.3 279.83 81.3 279.89 77.4 279.95 76.9 280.02 76.0 280.08 78.6 280.14 78.0 280.21 78.2 280.27 77.0 280.33 78.4 280.39 77.6 280.46 83.0 280.52 88.7 280.58 102.3 280.64 113.5 280.71 122.6 280.77 128.4 280.83 131.2 280.90 131.3 280.96 135.9 281.02 135.0 281.08 136.0 281.15 127.9 281.21 111.6 281.27 94.8 281.34 83.5 281.40 80.0 281.46 80.1 281.52 80.6 281.59 80.1 281.65 80.5 281.71 79.8 281.78 80.7 281.84 80.6 281.90 82.6 281.96 85.9 282.03 93.3 282.09 101.9 282.15 115.8 282.21 123.7 282.28 128.1 282.34 128.8 282.40 132.8 282.47 133.2 282.53 133.2 282.59 134.0 282.65 127.6 282.72 111.6 282.78 93.8 282.84 82.7 282.91 79.7 282.97 80.0 283.03 81.6 283.09 81.6 283.16 80.0 283.22 80.7 283.28 78.6 283.35 80.4 283.41 80.7 283.47 86.8 283.53 91.6 283.60 101.4 283.66 114.5 283.72 124.3 283.78 130.0 283.85 132.0 283.91 135.8 283.97 136.3 284.04 135.7 284.10 133.3 284.16 128.6 284.22 111.7 284.29 91.5 284.35 79.7 284.41 75.4 284.48 76.1 284.54 76.5 284.60 77.7 284.66 74.5 284.73 75.6 284.79 78.3 284.85 77.0 284.92 77.5 284.98 82.3 285.04 90.8 285.10 101.6 285.17 114.8 285.23 124.6 285.29 127.9 285.35 129.5 285.42 134.8 285.48 133.2 285.54 133.9 285.61 134.2 285.67 126.2 285.73 111.3 285.79 93.9 285.86 83.1 285.92 79.7 285.98 79.7 286.05 81.7 286.11 78.8 286.17 78.7 286.23 80.9 286.30 81.3 286.36 80.5 286.42 81.6 286.49 83.1 286.55 90.8 286.61 102.5 286.67 114.7 286.74 123.3 286.80 128.4 286.86 130.9 286.92 134.7 286.99 133.7 287.05 135.1 287.11 131.9 287.18 127.1 287.24 110.9 287.30 90.9 287.36 81.2 287.43 78.2 287.49 77.0 287.55 75.6 287.62 78.6 287.68 79.6 287.74 78.8 287.80 78.3 287.87 78.7 287.93 80.6 287.99 85.6 288.06 90.9 288.12 100.9 288.18 114.9 288.24 122.3 288.31 132.6 288.37 133.6 288.43 136.6 288.49 136.8 288.56 134.8 288.62 136.3 288.68 129.9 288.75 115.0 288.81 96.7 288.87 84.1 288.93 80.8 289.00 80.4 289.06 81.6 289.12 82.0 289.19 81.7 289.25 82.7 289.31 83.2 289.37 84.1 289.44 81.8 289.50 86.0 289.56 94.2 289.63 104.4 289.69 118.3 289.75 127.7 289.81 130.9 289.88 134.2 289.94 136.5 290.00 138.9 290.06 137.3 290.13 136.6 290.19 131.6 290.25 114.1 290.32 92.8 290.38 84.5 290.44 77.9 290.50 78.1 290.57 80.9 290.63 78.9 290.69 79.9 290.76 78.6 290.82 77.5 290.88 81.2 290.94 81.3 291.01 83.9 291.07 92.4 291.13 103.8 291.20 117.0 291.26 127.4 291.32 132.8 291.38 136.8 291.45 138.0 291.51 140.4 291.57 140.9 291.63 140.2 291.70 133.8 291.76 114.5 291.82 93.5 291.89 85.1 291.95 79.0 292.01 79.2 292.07 79.2 292.14 82.3 292.20 78.2 292.26 80.4 292.33 80.5 292.39 81.6 292.45 81.9 292.51 85.7 292.58 93.4 292.64 105.5 292.70 118.3 292.77 128.3 292.83 133.0 292.89 133.4 292.95 135.6 293.02 139.1 293.08 137.8 293.14 138.0 293.20 130.9 293.27 118.4 293.33 98.9 293.39 91.7 293.46 87.6 293.52 88.6 293.58 86.6 293.64 88.4 293.71 86.9 293.77 87.2 293.83 88.6 293.90 87.5 293.96 90.1 294.02 92.5 294.08 99.2 294.15 109.0 294.21 120.1 294.27 127.8 294.34 132.9 294.40 134.8 294.46 138.6 294.52 138.8 294.59 140.8 294.65 139.1 294.71 132.1 294.77 117.6 294.84 99.1 294.90 87.1 294.96 82.2 295.03 85.1 295.09 83.4 295.15 82.5 295.21 84.4 295.28 84.4 295.34 85.5 295.40 86.8 295.47 88.2 295.53 90.5 295.59 97.2 295.65 106.4 295.72 121.0 295.78 129.3 295.84 135.3 295.91 138.1 295.97 139.6 296.03 141.7 296.09 141.4 296.16 140.8 296.22 133.3 296.28 120.5 296.34 99.4 296.41 88.7 296.47 85.1 296.53 84.3 296.60 85.8 296.66 85.2 296.72 84.5 296.78 86.0 296.85 85.2 296.91 86.3 296.97 87.0 297.04 92.5 297.10 98.4 297.16 109.6 297.22 122.4 297.29 131.8 297.35 137.6 297.41 138.2 297.48 141.1 297.54 142.2 297.60 142.5 297.66 141.2 297.73 134.2 297.79 119.3 297.85 98.5 297.91 88.3 297.98 84.7 298.04 84.2 298.10 86.3 298.17 84.5 298.23 85.9 298.29 86.0 298.35 85.1 298.42 87.1 298.48 84.2 298.54 89.7 298.61 99.4 298.67 109.1 298.73 121.1 298.79 131.5 298.86 135.3 298.92 137.2 298.98 140.6 299.05 141.1 299.11 142.0 299.17 141.0 299.23 135.2 299.30 118.2 299.36 96.0 299.42 86.5 299.48 80.6 299.55 81.9 299.61 84.3 299.67 83.0 299.74 81.5 299.80 83.4 299.86 83.1 299.92 83.2 299.99 83.6 300.05 88.8 300.11 96.1 300.18 108.7 300.24 121.7 300.30 133.0 300.36 137.9 300.43 136.6 300.49 141.2 300.55 143.9 300.62 142.6 300.68 143.8 300.74 135.0 300.80 119.9 300.87 99.6 300.93 89.1 300.99 87.2 301.05 85.1 301.12 86.3 301.18 85.1 301.24 87.1 301.31 87.3 301.37 88.5 301.43 86.0 301.49 88.1 301.56 92.2 301.62 98.4 301.68 109.4 301.75 121.3 301.81 132.6 301.87 133.3 301.93 135.2 302.00 137.5 302.06 138.3 302.12 138.2 302.19 134.7 302.25 132.6 302.31 116.2 302.37 96.9 302.44 85.5 302.50 81.8 302.56 82.1 302.62 82.6 302.69 82.1 302.75 83.2 302.81 83.5 302.88 83.6 302.94 84.2 303.00 84.9 303.06 87.6 303.13 94.3 303.19 104.7 303.25 116.6 303.32 126.9 303.38 139.9 303.44 140.7 303.50 143.1 303.57 144.5 303.63 144.1 303.69 142.0 303.76 136.6 303.82 123.6 303.88 102.1 303.94 93.6 304.01 89.4 304.07 88.2 304.13 90.4 304.19 89.4 304.26 87.0 304.32 89.0 304.38 90.2 304.45 88.6 304.51 91.7 304.57 95.9 304.63 101.4 304.70 112.9 304.76 124.7 304.82 134.1 304.89 138.7 304.95 140.3 305.01 140.7 305.07 143.4 305.14 143.8 305.20 144.2 305.26 137.1 305.33 118.3 305.39 100.0 305.45 88.1 305.51 84.5 305.58 85.6 305.64 85.8 305.70 88.0 305.76 86.5 305.83 86.0 305.89 86.9 305.95 87.1 306.02 86.9 306.08 91.4 306.14 99.8 306.20 111.4 306.27 123.9 306.33 134.2 306.39 139.6 306.46 142.4 306.52 143.1 306.58 143.9 306.64 145.1 306.71 144.6 306.77 138.6 306.83 123.0 306.90 104.5 306.96 93.0 307.02 89.9 307.08 89.0 307.15 89.2 307.21 90.2 307.27 91.5 307.33 89.8 307.40 89.0 307.46 91.7 307.52 93.2 307.59 95.3 307.65 101.3 307.71 112.8 307.77 124.6 307.84 132.2 307.90 139.5 307.96 142.6 308.03 143.2 308.09 146.3 308.15 142.9 308.21 144.7 308.28 136.6 308.34 122.2 308.40 102.3 308.47 92.3 308.53 91.5 308.59 89.3 308.65 90.9 308.72 91.3 308.78 89.7 308.84 89.4 308.90 89.3 308.97 89.3 309.03 91.6 309.09 95.8 309.16 100.5 309.22 111.6 309.28 124.7 309.34 135.4 309.41 138.6 309.47 142.9 309.53 142.3 309.60 145.2 309.66 146.3 309.72 142.7 309.78 137.2 309.85 122.3 309.91 100.7 309.97 90.8 310.04 86.8 310.10 87.3 310.16 87.9 310.22 85.1 310.29 86.1 310.35 87.7 310.41 87.3 310.47 87.8 310.54 87.5 310.60 92.4 310.66 97.9 310.73 112.1 310.79 123.2 310.85 130.2 310.91 136.5 310.98 142.3 311.04 145.4 311.10 145.1 311.17 145.3 311.23 143.8 311.29 138.3 311.35 123.2 311.42 103.4 311.48 95.5 311.54 92.4 311.61 91.3 311.67 92.1 311.73 92.5 311.79 90.0 311.86 92.4 311.92 91.9 311.98 93.8 312.04 94.3 312.11 97.3 312.17 101.4 312.23 114.7 312.30 124.7 312.36 133.2 312.42 133.4 312.48 136.1 312.55 137.0 312.61 140.5 312.67 140.2 312.74 136.9 312.80 133.0 312.86 119.0 312.92 102.2 312.99 94.2 313.05 92.8 313.11 91.7 313.18 91.1 313.24 91.2 313.30 90.6 313.36 92.0 313.43 92.7 313.49 94.3 313.55 94.1 313.61 96.0 313.68 101.2 313.74 114.1 313.80 121.2 313.87 129.1 313.93 135.3 313.99 138.9 314.05 141.0 314.12 142.7 314.18 143.8 314.24 142.1 314.31 135.1 314.37 119.1 314.43 101.3 314.49 92.1 314.56 87.0 314.62 87.3 314.68 88.0 314.75 86.6 314.81 88.3 314.87 87.4 314.93 90.0 315.00 88.6 315.06 89.2 315.12 92.7 315.18 98.5 315.25 110.8 315.31 121.4 315.37 132.4 315.44 133.3 315.50 134.1 315.56 138.2 315.62 139.1 315.69 137.4 315.75 138.1 315.81 132.1 315.88 117.7 315.94 97.3 316.00 90.4 316.06 84.8 316.13 85.7 316.19 86.9 316.25 85.3 316.32 86.0 316.38 87.1 316.44 84.8 316.50 85.6 316.57 87.6 316.63 91.5 316.69 96.4 316.75 109.1 316.82 120.5 316.88 128.0 316.94 138.3 317.01 143.1 317.07 143.1 317.13 145.7 317.19 142.7 317.26 143.9 317.32 137.9 317.38 120.5 317.45 100.4 317.51 89.1 317.57 83.1 317.63 85.6 317.70 84.4 317.76 86.1 317.82 84.3 317.89 85.1 317.95 85.9 318.01 85.1 318.07 87.7 318.14 90.8 318.20 97.2 318.26 111.2 318.32 124.2 318.39 131.9 318.45 139.4 318.51 142.1 318.58 143.8 318.64 143.4 318.70 143.9 318.76 142.7 318.83 138.2 318.89 120.0 318.95 102.0 319.02 92.0 319.08 85.6 319.14 88.9 319.20 88.2 319.27 86.0 319.33 87.5 319.39 89.4 319.46 87.7 319.52 87.3 319.58 89.5 319.64 93.3 319.71 100.9 319.77 112.5 319.83 123.3 319.89 131.1 319.96 135.1 320.02 137.0 320.08 139.8 320.15 142.1 320.21 139.7 320.27 141.5 320.33 135.1 320.40 121.5 320.46 100.3 320.52 93.4 320.59 90.7 320.65 89.6 320.71 90.0 320.77 89.8 320.84 89.9 320.90 90.4 320.96 91.9 321.03 90.8 321.09 92.1 321.15 97.0 321.21 101.7 321.28 111.4 321.34 125.4 321.40 128.6 321.46 138.9 321.53 140.7 321.59 145.2 321.65 144.3 321.72 143.1 321.78 142.6 321.84 136.3 321.90 123.6 321.97 102.8 322.03 93.0 322.09 88.7 322.16 89.6 322.22 88.1 322.28 89.2 322.34 88.7 322.41 90.1 322.47 89.6 322.53 90.7 322.60 92.8 322.66 94.8 322.72 102.0 322.78 111.9 322.85 123.7 322.91 132.9 322.97 137.5 323.03 140.1 323.10 141.6 323.16 142.5 323.22 141.8 323.29 142.6 323.35 136.3 323.41 122.6 323.47 106.7 323.54 98.6 323.60 94.7 323.66 94.3 323.73 94.8 323.79 92.7 323.85 94.7 323.91 94.7 323.98 94.0 324.04 94.7 324.10 96.0 324.17 97.3 324.23 105.3 324.29 114.8 324.35 125.3 324.42 131.9 324.48 136.2 324.54 136.7 324.60 140.6 324.67 139.8 324.73 140.3 324.79 136.9 324.86 135.4 324.92 122.1 324.98 107.6 325.04 99.8 325.11 94.5 325.17 94.1 325.23 94.9 325.30 96.3 325.36 95.6 325.42 96.5 325.48 95.6 325.55 96.1 325.61 96.7 325.67 101.5 325.74 106.7 325.80 115.1 325.86 126.4 325.92 133.0 325.99 137.2 326.05 141.1 326.11 142.7 326.17 144.0 326.24 142.2 326.30 142.7 326.36 137.0 326.43 124.0 326.49 104.7 326.55 95.6 326.61 92.9 326.68 91.2 326.74 93.2 326.80 93.6 326.87 92.2 326.93 92.2 326.99 92.3 327.05 92.7 327.12 94.5 327.18 96.8 327.24 105.3 327.31 114.0 327.37 125.6 327.43 132.9 327.49 138.8 327.56 140.7 327.62 141.7 327.68 142.4 327.74 141.3 327.81 140.9 327.87 137.7 327.93 127.5 328.00 110.7 328.06 102.6 328.12 100.8 328.18 100.8 328.25 100.5 328.31 100.7 328.37 98.8 328.44 102.6 328.50 99.9 328.56 100.4 328.62 101.5 328.69 104.2 328.75 109.6 328.81 118.4 328.88 129.0 328.94 133.4 329.00 138.6 329.06 140.2 329.13 141.9 329.19 143.0 329.25 144.9 329.31 141.8 329.38 138.3 329.44 126.9 329.50 113.9 329.57 106.5 329.63 102.8 329.69 103.2 329.75 103.1 329.82 102.5 329.88 102.9 329.94 104.4 330.01 101.6 330.07 103.6 330.13 106.1 330.19 107.5 330.26 112.4 330.32 120.5 330.38 130.4 330.45 136.2 330.51 141.1 330.57 144.9 330.63 145.1 330.70 145.7 330.76 146.0 330.82 144.1 330.88 141.4 330.95 129.1 331.01 113.0 331.07 107.5 331.14 105.7 331.20 103.2 331.26 103.3 331.32 102.4 331.39 105.9 331.45 105.2 331.51 104.4 331.58 106.8 331.64 106.8 331.70 111.7 331.76 113.9 331.83 123.1 331.89 131.4 331.95 139.4 332.02 141.2 332.08 145.2 332.14 145.5 332.20 146.9 332.27 146.9 332.33 145.9 332.39 140.8 332.45 127.5 332.52 111.4 332.58 103.7 332.64 100.0 332.71 100.9 332.77 100.1 332.83 101.2 332.89 99.6 332.96 101.7 333.02 98.4 333.08 99.7 333.15 102.1 333.21 105.7 333.27 111.9 333.33 119.7 333.40 131.3 333.46 137.6 333.52 141.2 333.59 145.2 333.65 146.3 333.71 146.5 333.77 147.1 333.84 146.2 333.90 141.6 333.96 129.5 334.02 114.0 334.09 107.5 334.15 102.8 334.21 103.2 334.28 105.4 334.34 103.7 334.40 105.1 334.46 103.1 334.53 102.5 334.59 105.4 334.65 105.6 334.72 108.1 334.78 112.3 334.84 122.5 334.90 129.6 334.97 138.4 335.03 139.9 335.09 139.5 335.16 141.9 335.22 139.9 335.28 141.1 335.34 141.0 335.41 138.4 335.47 127.2 335.53 115.7 335.59 109.1 335.66 105.9 335.72 107.0 335.78 105.4 335.85 107.1 335.91 107.9 335.97 106.5 336.03 106.2 336.10 106.8 336.16 108.0 336.22 110.2 336.29 114.4 336.35 120.6 336.41 129.6 336.47 136.2 336.54 142.0 336.60 145.6 336.66 146.6 336.73 147.5 336.79 147.0 336.85 145.5 336.91 142.8 336.98 129.9 337.04 115.1 337.10 109.4 337.16 105.9 337.23 103.3 337.29 106.2 337.35 105.4 337.42 104.8 337.48 105.5 337.54 105.6 337.60 104.9 337.67 107.6 337.73 110.9 337.79 115.5 337.86 123.0 337.92 130.5 337.98 137.8 338.04 141.2 338.11 144.6 338.17 146.7 338.23 147.9 338.30 146.3 338.36 146.4 338.42 140.4 338.48 127.1 338.55 111.5 338.61 102.3 338.67 100.8 338.73 100.8 338.80 100.0 338.86 100.5 338.92 99.5 338.99 97.6 339.05 98.9 339.11 100.4 339.17 103.1 339.24 103.4 339.30 108.7 339.36 117.0 339.43 130.0 339.49 138.0 339.55 138.3 339.61 140.7 339.68 143.5 339.74 142.3 339.80 141.5 339.87 143.4 339.93 137.0 339.99 126.7 340.05 113.7 340.12 104.6 340.18 102.9 340.24 101.3 340.30 102.3 340.37 102.2 340.43 102.5 340.49 100.9 340.56 102.7 340.62 101.4 340.68 102.7 340.74 104.7 340.81 109.4 340.87 117.8 340.93 127.8 341.00 136.6 341.06 137.9 341.12 142.0 341.18 141.5 341.25 144.2 341.31 141.4 341.37 143.0 341.44 138.2 341.50 127.1 341.56 108.3 341.62 102.4 341.69 97.7 341.75 100.1 341.81 97.5 341.87 97.9 341.94 99.7 342.00 100.2 342.06 99.8 342.13 100.5 342.19 100.3 342.25 105.0 342.31 108.9 342.38 115.9 342.44 126.9 342.50 134.0 342.57 145.1 342.63 146.8 342.69 148.4 342.75 147.5 342.82 149.5 342.88 147.0 342.94 142.8 343.01 130.1 343.07 111.4 343.13 104.8 343.19 100.7 343.26 99.7 343.32 102.2 343.38 101.2 343.44 101.3 343.51 99.9 343.57 102.2 343.63 101.7 343.70 101.4 343.76 106.3 343.82 111.7 343.88 121.3 343.95 132.3 344.01 138.6 344.07 139.3 344.14 141.3 344.20 143.6 344.26 142.4 344.32 142.3 344.39 144.1 344.45 138.1 344.51 124.2 344.58 111.5 344.64 102.1 344.70 99.4 344.76 99.9 344.83 98.9 344.89 97.9 344.95 98.8 345.01 100.1 345.08 98.8 345.14 99.3 345.20 103.0 345.27 104.4 345.33 109.1 345.39 117.5 345.45 128.4 345.52 135.4 345.58 138.8 345.64 141.4 345.71 144.3 345.77 145.9 345.83 146.4 345.89 145.6 345.96 139.3 346.02 125.5 346.08 109.1 346.15 98.3 346.21 95.3 346.27 97.3 346.33 94.8 346.40 96.6 346.46 96.6 346.52 95.1 346.58 96.8 346.65 97.8 346.71 99.6 346.77 102.7 346.84 107.1 346.90 116.6 346.96 127.7 347.02 134.7 347.09 140.1 347.15 141.8 347.21 146.7 347.28 145.6 347.34 145.6 347.40 146.3 347.46 139.2 347.53 127.7 347.59 111.6 347.65 102.4 347.72 98.9 347.78 99.8 347.84 100.6 347.90 98.5 347.97 101.7 348.03 100.9 348.09 97.5 348.15 99.7 348.22 100.1 348.28 104.7 348.34 111.3 348.41 119.1 348.47 128.6 348.53 135.6 348.59 145.8 348.66 145.7 348.72 150.8 348.78 150.7 348.85 151.6 348.91 148.8 348.97 145.6 349.03 129.6 349.10 112.9 349.16 104.4 349.22 99.8 349.29 99.9 349.35 101.9 349.41 99.0 349.47 102.2 349.54 100.2 349.60 99.9 349.66 99.5 349.72 100.5 349.79 103.9 349.85 111.0 349.91 121.3 349.98 132.3 350.04 139.8 350.10 142.0 350.16 145.6 350.23 146.2 350.29 147.2 350.35 146.9 350.42 145.4 350.48 140.7 350.54 126.6 350.60 109.2 350.67 103.8 350.73 98.2 350.79 95.8 350.86 95.4 350.92 96.3 350.98 96.9 351.04 97.8 351.11 97.5 351.17 96.2 351.23 97.1 351.29 101.4 351.36 107.2 351.42 115.7 351.48 127.6 351.55 137.2 351.61 136.8 351.67 139.4 351.73 142.2 351.80 144.1 351.86 141.9 351.92 141.9 351.99 137.0 352.05 123.0 352.11 106.3 352.17 99.8 352.24 94.5 352.30 95.1 352.36 95.3 352.43 96.8 352.49 95.2 352.55 97.4 352.61 96.8 352.68 95.5 352.74 97.9 352.80 99.1 352.86 105.6 352.93 114.8 352.99 127.2 353.05 132.5 353.12 142.4 353.18 143.5 353.24 146.1 353.30 143.8 353.37 146.0 353.43 145.1 353.49 143.0 353.56 129.0 353.62 110.2 353.68 101.7 353.74 96.4 353.81 98.6 353.87 97.4 353.93 99.6 354.00 97.1 354.06 99.0 354.12 98.8 354.18 99.0 354.25 99.9 354.31 102.8 354.37 107.4 354.43 119.1 354.50 130.3 354.56 135.7 354.62 142.6 354.69 144.0 354.75 147.3 354.81 148.1 354.87 146.7 354.94 145.4 355.00 142.3 355.06 130.6 355.13 114.7 355.19 104.6 355.25 101.3 355.31 103.6 355.38 103.2 355.44 100.9 355.50 100.8 355.57 100.5 355.63 102.7 355.69 102.4 355.75 102.7 355.82 106.1 355.88 110.7 355.94 122.4 356.00 131.3 356.07 139.5 356.13 139.0 356.19 141.8 356.26 145.3 356.32 146.2 356.38 145.5 356.44 143.6 356.51 138.9 356.57 126.4 356.63 108.6 356.70 99.3 356.76 96.9 356.82 94.8 356.88 95.5 356.95 96.3 357.01 97.8 357.07 96.2 357.14 98.1 357.20 97.0 357.26 99.3 357.32 102.1 357.39 108.6 357.45 117.8 357.51 128.5 357.57 135.7 357.64 142.3 357.70 144.2 357.76 144.7 357.83 144.3 357.89 147.1 357.95 145.4 358.01 139.7 358.08 125.8 358.14 109.7 358.20 100.2 358.27 98.0 358.33 97.2 358.39 97.8 358.45 94.7 358.52 96.7 358.58 96.4 358.64 97.2 358.71 98.9 358.77 99.5 358.83 102.9 358.89 107.6 358.96 116.5 359.02 128.9 359.08 135.6 359.14 142.4 359.21 144.6 359.27 146.3 359.33 144.7 359.40 147.1 359.46 144.6 359.52 141.7 359.58 126.4 359.65 109.6 359.71 101.2 359.77 96.9 359.84 98.3 359.90 95.7 359.96 96.1 360.02 99.4 360.09 98.3 360.15 99.2 360.21 98.5 360.28 98.5 360.34 103.6 360.40 109.4 360.46 118.4 360.53 128.4 360.59 137.6 360.65 141.1 360.71 140.6 360.78 143.1 360.84 143.9 360.90 145.1 360.97 145.1 361.03 138.2 361.09 126.4 361.15 111.5 361.22 100.9 361.28 99.6 361.34 97.5 361.41 97.4 361.47 98.4 361.53 99.7 361.59 99.2 361.66 98.4 361.72 98.4 361.78 101.5 361.85 105.6 361.91 110.8 361.97 118.3 362.03 127.5 362.10 135.9 362.16 137.8 362.22 139.6 362.28 141.5 362.35 143.6 362.41 145.0 362.47 141.5 362.54 137.1 362.60 127.7 362.66 111.2 362.72 105.9 362.79 101.2 362.85 100.7 362.91 102.0 362.98 101.2 363.04 100.6 363.10 101.4 363.16 102.2 363.23 103.8 363.29 105.4 363.35 105.8 363.42 111.3 363.48 120.0 363.54 130.0 363.60 135.1 363.67 140.9 363.73 144.8 363.79 144.3 363.85 146.2 363.92 146.7 363.98 146.5 364.04 140.9 364.11 129.8 364.17 116.2 364.23 109.0 364.29 109.5 364.36 107.3 364.42 107.5 364.48 106.3 364.55 107.6 364.61 108.2 364.67 107.9 364.73 109.7 364.80 108.8 364.86 112.7 364.92 115.7 364.99 122.9 365.05 132.6 365.11 136.5 365.17 143.4 365.24 146.3 365.30 147.2 365.36 148.6 365.42 149.6 365.49 149.1 365.55 144.8 365.61 133.3 365.68 117.5 365.74 110.7 365.80 107.4 365.86 107.1 365.93 107.2 365.99 110.2 366.05 107.6 366.12 109.0 366.18 109.6 366.24 109.7 366.30 109.5 366.37 112.8 366.43 116.0 366.49 124.4 366.56 134.2 366.62 141.7 366.68 145.8 366.74 147.1 366.81 148.3 366.87 149.3 366.93 150.3 366.99 147.1 367.06 143.5 367.12 131.5 367.18 117.6 367.25 110.5 367.31 108.7 367.37 107.5 367.43 109.0 367.50 107.7 367.56 109.7 367.62 109.9 367.69 108.2 367.75 108.8 367.81 110.0 367.87 113.0 367.94 117.2 368.00 126.2 368.06 133.2 368.13 139.7 368.19 146.6 368.25 148.2 368.31 149.4 368.38 149.4 368.44 149.5 368.50 149.2 368.56 144.0 368.63 132.7 368.69 117.7 368.75 112.2 368.82 106.7 368.88 106.3 368.94 106.5 369.00 108.2 369.07 105.5 369.13 108.2 369.19 107.9 369.26 108.4 369.32 110.0 369.38 110.5 369.44 117.3 369.51 124.2 369.57 135.4 369.63 141.6 369.70 145.5 369.76 145.5 369.82 146.2 369.88 148.4 369.95 148.0 370.01 147.1 370.07 144.4 370.13 133.2 370.20 118.7 370.26 112.6 370.32 110.0 370.39 110.9 370.45 110.0 370.51 109.1 370.57 107.9 370.64 110.9 370.70 108.6 370.76 109.2 370.83 110.9 370.89 113.0 370.95 116.5 371.01 123.5 371.08 134.8 371.14 140.5 371.20 139.8 371.27 143.8 371.33 142.4 371.39 143.9 371.45 144.5 371.52 143.9 371.58 139.2 371.64 126.5 371.70 114.6 371.77 107.5 371.83 105.0 371.89 102.9 371.96 106.3 372.02 104.3 372.08 104.3 372.14 107.3 372.21 107.3 372.27 105.3 372.33 106.9 372.40 107.0 372.46 113.0 372.52 120.6 372.58 127.5 372.65 137.1 372.71 142.9 372.77 149.2 372.84 146.8 372.90 146.6 372.96 149.2 373.02 149.5 373.09 142.0 373.15 132.1 373.21 117.0 373.27 108.3 373.34 106.2 373.40 106.1 373.46 106.0 373.53 105.8 373.59 105.5 373.65 107.0 373.71 107.3 373.78 106.0 373.84 106.7 373.90 112.5 373.97 115.3 374.03 123.4 374.09 132.0 374.15 141.7 374.22 141.3 374.28 141.5 374.34 145.3 374.41 145.7 374.47 143.0 374.53 143.3 374.59 140.5 374.66 130.3 374.72 117.8 374.78 107.9 374.84 106.5 374.91 108.0 374.97 108.1 375.03 108.3 375.10 107.1 375.16 109.1 375.22 107.9 375.28 108.8 375.35 110.0 375.41 111.2 375.47 116.5 375.54 121.6 375.60 132.1 375.66 137.1 375.72 140.3 375.79 141.1 375.85 140.1 375.91 144.7 375.98 144.6 376.04 144.8 376.10 137.7 376.16 127.1 376.23 115.9 376.29 108.4 376.35 106.0 376.41 107.8 376.48 107.2 376.54 107.0 376.60 107.6 376.67 105.5 376.73 106.5 376.79 107.9 376.85 107.2 376.92 111.4 376.98 114.0 377.04 123.6 377.11 128.4 377.17 137.3 377.23 140.6 377.29 142.0 377.36 145.0 377.42 145.8 377.48 144.2 377.55 142.9 377.61 141.2 377.67 129.7 377.73 117.9 377.80 109.4 377.86 106.6 377.92 106.2 377.98 105.0 378.05 105.9 378.11 107.9 378.17 106.7 378.24 105.5 378.30 106.8 378.36 108.3 378.42 109.6 378.49 113.9 378.55 121.6 378.61 131.4 378.68 137.4 378.74 142.6 378.80 143.8 378.86 145.0 378.93 143.1 378.99 144.8 379.05 144.6 379.12 140.8 379.18 131.2 379.24 117.6 379.30 111.5 379.37 109.7 379.43 110.6 379.49 110.5 379.55 110.3 379.62 108.9 379.68 111.6 379.74 110.9 379.81 110.6 379.87 111.7 379.93 112.6 379.99 116.2 380.06 122.1 380.12 133.0 380.18 138.3 380.25 146.3 380.31 148.4 380.37 148.4 380.43 152.1 380.50 152.2 380.56 149.1 380.62 145.1 380.69 133.1 380.75 120.1 380.81 110.7 380.87 109.0 380.94 109.4 381.00 110.5 381.06 109.5 381.12 111.4 381.19 111.7 381.25 110.9 381.31 110.5 381.38 112.3 381.44 114.8 381.50 120.9 381.56 126.0 381.63 136.6 381.69 142.5 381.75 145.5 381.82 146.1 381.88 147.5 381.94 150.4 382.00 147.7 382.07 148.4 382.13 143.5 382.19 134.5 382.26 119.4 382.32 112.8 382.38 109.1 382.44 109.1 382.51 107.8 382.57 111.3 382.63 110.7 382.69 109.0 382.76 110.8 382.82 109.8 382.88 111.2 382.95 114.9 383.01 119.7 383.07 127.7 383.13 135.6 383.20 140.4 383.26 141.4 383.32 144.6 383.39 145.1 383.45 146.0 383.51 143.9 383.57 143.2 383.64 140.8 383.70 132.6 383.76 116.0 383.83 111.2 383.89 109.8 383.95 107.5 384.01 107.2 384.08 107.8 384.14 109.3 384.20 108.2 384.26 107.8 384.33 108.3 384.39 109.7 384.45 114.1 384.52 115.8 384.58 123.3 384.64 133.8 384.70 137.9 384.77 141.0 384.83 143.1 384.89 144.5 384.96 144.6 385.02 144.9 385.08 143.8 385.14 142.3 385.21 129.6 385.27 117.3 385.33 109.0 385.40 106.4 385.46 106.4 385.52 107.8 385.58 107.1 385.65 108.3 385.71 109.6 385.77 108.5 385.83 107.6 385.90 108.6 385.96 110.7 386.02 114.0 386.09 123.4 386.15 129.4 386.21 138.5 386.27 145.1 386.34 146.0 386.40 148.2 386.46 147.2 386.53 147.6 386.59 147.7 386.65 143.5 386.71 131.2 386.78 120.3 386.84 111.6 386.90 108.9 386.97 108.9 387.03 109.3 387.09 108.2 387.15 110.0 387.22 110.6 387.28 110.3 387.34 110.3 387.40 111.4 387.47 113.9 387.53 118.6 387.59 126.8 387.66 135.5 387.72 142.4 387.78 142.5 387.84 141.4 387.91 143.4 387.97 146.4 388.03 144.9 388.10 145.8 388.16 142.2 388.22 131.8 388.28 116.7 388.35 111.2 388.41 109.6 388.47 108.6 388.54 108.9 388.60 108.3 388.66 109.4 388.72 110.1 388.79 108.6 388.85 111.8 388.91 110.4 388.97 112.8 389.04 117.0 389.10 125.8 389.16 133.2 389.23 138.3 389.29 145.1 389.35 148.1 389.41 147.8 389.48 150.9 389.54 148.5 389.60 150.8 389.67 145.8 389.73 133.6 389.79 121.3 389.85 112.9 389.92 108.1 389.98 108.6 390.04 110.0 390.11 109.2 390.17 108.7 390.23 107.6 390.29 110.0 390.36 111.2 390.42 109.0 390.48 113.3 390.54 118.3 390.61 129.0 390.67 135.4 390.73 143.8 390.80 146.1 390.86 146.9 390.92 147.1 390.98 149.1 391.05 149.5 391.11 149.0 391.17 143.0 391.24 132.4 391.30 122.2 391.36 114.5 391.42 110.2 391.49 111.2 391.55 111.2 391.61 111.0 391.68 110.1 391.74 111.1 391.80 111.8 391.86 112.6 391.93 114.2 391.99 113.6 392.05 119.2 392.11 125.8 392.18 136.2 392.24 141.1 392.30 144.7 392.37 146.4 392.43 149.4 392.49 149.7 392.55 148.9 392.62 148.7 392.68 146.3 392.74 130.8 392.81 116.8 392.87 108.3 392.93 105.7 392.99 105.4 393.06 106.8 393.12 106.0 393.18 108.1 393.25 106.3 393.31 105.3 393.37 106.8 393.43 108.9 393.50 109.7 393.56 116.7 393.62 123.2 393.68 133.6 393.75 141.8 393.81 144.4 393.87 147.1 393.94 149.2 394.00 149.7 394.06 151.2 394.12 147.8 394.19 145.4 394.25 132.1 394.31 117.8 394.38 110.1 394.44 107.0 394.50 107.8 394.56 106.6 394.63 106.0 394.69 109.1 394.75 107.5 394.82 108.1 394.88 106.3 394.94 109.0 395.00 111.8 395.07 115.9 395.13 124.4 395.19 133.6 395.25 140.1 395.32 145.0 395.38 144.5 395.44 148.3 395.51 147.2 395.57 149.5 395.63 145.9 395.69 142.2 395.76 131.0 395.82 117.2 395.88 109.9 395.95 107.1 396.01 104.0 396.07 107.0 396.13 109.0 396.20 105.2 396.26 107.1 396.32 106.3 396.39 106.7 396.45 108.7 396.51 111.3 396.57 114.2 396.64 123.1 396.70 132.6 396.76 137.9 396.82 146.1 396.89 149.4 396.95 148.8 397.01 150.4 397.08 149.5 397.14 149.0 397.20 145.5 397.26 137.3 397.33 120.5 397.39 112.5 397.45 111.9 397.52 112.4 397.58 110.6 397.64 109.8 397.70 110.6 397.77 111.2 397.83 111.0 397.89 113.4 397.96 111.3 398.02 115.2 398.08 119.4 398.14 127.4 398.21 135.4 398.27 140.3 398.33 142.1 398.39 143.0 398.46 145.2 398.52 145.0 398.58 146.4 398.65 143.8 398.71 143.9 398.77 130.1 398.83 117.0 398.90 113.1 398.96 110.1 399.02 109.3 399.09 109.8 399.15 108.8 399.21 111.3 399.27 110.1 399.34 109.5 399.40 111.3 399.46 110.9 399.53 113.8 399.59 117.3 399.65 125.4 399.71 133.1 399.78 138.7 399.84 144.8 399.90 147.1 399.96 148.8 400.03 149.6 400.09 151.4 400.15 148.2 400.22 145.4 400.28 133.0 400.34 119.0 400.40 110.5 400.47 108.1 400.53 106.7 400.59 108.6 400.66 108.3 400.72 106.9 400.78 107.0 400.84 105.5 400.91 107.7 400.97 109.2 401.03 111.3 401.10 114.3 401.16 127.2 401.22 134.8 401.28 142.8 401.35 145.2 401.41 146.5 401.47 147.5 401.53 147.9 401.60 148.4 401.66 147.4 401.72 143.4 401.79 133.3 401.85 118.3 401.91 111.7 401.97 107.1 402.04 107.4 402.10 107.1 402.16 106.9 402.23 108.9 402.29 108.4 402.35 107.5 402.41 109.1 402.48 110.9 402.54 111.1 402.60 115.5 402.67 124.9 402.73 134.0 402.79 138.8 402.85 140.7 402.92 143.3 402.98 144.0 403.04 144.9 403.10 144.0 403.17 144.1 403.23 140.7 403.29 131.1 403.36 120.3 403.42 116.4 403.48 109.6 403.54 111.0 403.61 114.4 403.67 110.6 403.73 110.7 403.80 112.2 403.86 111.0 403.92 113.0 403.98 111.1 404.05 113.9 404.11 119.7 404.17 125.0 404.24 133.9 404.30 137.8 404.36 145.9 404.42 145.3 404.49 150.6 404.55 151.5 404.61 150.1 404.67 149.7 404.74 144.6 404.80 135.8 404.86 122.5 404.93 113.4 404.99 111.1 405.05 112.4 405.11 109.6 405.18 110.2 405.24 112.5 405.30 112.6 405.37 112.3 405.43 113.1 405.49 112.1 405.55 116.3 405.62 120.3 405.68 128.2 405.74 134.5 405.81 141.6 405.87 145.7 405.93 147.7 405.99 151.1 406.06 151.8 406.12 151.2 406.18 148.6 406.24 146.2 406.31 133.2 406.37 117.1 406.43 109.1 406.50 105.6 406.56 106.9 406.62 105.8 406.68 106.3 406.75 106.0 406.81 108.3 406.87 107.5 406.94 107.7 407.00 106.2 407.06 110.4 407.12 115.6 407.19 125.4 407.25 137.9 407.31 142.1 407.38 146.3 407.44 147.1 407.50 149.8 407.56 150.0 407.63 150.8 407.69 150.0 407.75 144.8 407.81 135.4 407.88 118.2 407.94 114.5 408.00 109.6 408.07 111.8 408.13 112.4 408.19 110.3 408.25 110.4 408.32 110.9 408.38 112.3 408.44 110.1 408.51 112.4 408.57 116.1 408.63 118.1 408.69 127.6 408.76 134.6 408.82 142.5 408.88 145.4 408.95 147.2 409.01 150.2 409.07 151.4 409.13 151.4 409.20 150.4 409.26 146.0 409.32 134.3 409.38 121.0 409.45 112.8 409.51 110.5 409.57 108.1 409.64 111.0 409.70 107.7 409.76 109.3 409.82 111.1 409.89 109.3 409.95 109.5 410.01 111.4 410.08 115.2 410.14 120.0 410.20 125.4 410.26 136.5 410.33 142.2 410.39 144.6 410.45 146.6 410.52 147.7 410.58 148.8 410.64 148.4 410.70 150.0 410.77 145.0 410.83 135.0 410.89 121.2 410.95 112.1 411.02 111.5 411.08 109.5 411.14 109.8 411.21 111.1 411.27 110.4 411.33 110.7 411.39 112.0 411.46 111.7 411.52 109.1 411.58 116.5 411.65 121.8 411.71 127.9 411.77 136.8 411.83 142.4 411.90 143.9 411.96 146.5 412.02 148.3 412.09 149.2 412.15 149.3 412.21 147.7 412.27 144.7 412.34 134.5 412.40 119.7 412.46 111.4 412.52 107.3 412.59 107.2 412.65 108.1 412.71 106.9 412.78 108.2 412.84 108.6 412.90 109.3 412.96 110.2 413.03 110.2 413.09 112.5 413.15 117.5 413.22 124.6 413.28 134.7 413.34 142.3 413.40 145.8 413.47 146.5 413.53 148.6 413.59 150.1 413.66 150.0 413.72 149.4 413.78 142.5 413.84 133.4 413.91 118.6 413.97 110.6 414.03 107.8 414.09 106.9 414.16 107.1 414.22 107.4 414.28 106.7 414.35 107.5 414.41 108.4 414.47 108.4 414.53 107.9 414.60 114.1 414.66 114.0 414.72 125.7 414.79 133.5 414.85 141.1 414.91 142.0 414.97 143.3 415.04 144.4 415.10 144.9 415.16 146.4 415.23 143.3 415.29 142.0 415.35 130.3 415.41 118.6 415.48 112.5 415.54 109.4 415.60 108.4 415.66 109.1 415.73 109.5 415.79 108.2 415.85 109.9 415.92 108.6 415.98 109.4 416.04 111.2 416.10 111.9 416.17 118.3 416.23 124.6 416.29 130.9 416.36 137.0 416.42 142.5 416.48 144.9 416.54 145.9 416.61 144.2 416.67 146.5 416.73 146.6 416.80 142.4 416.86 130.6 416.92 117.7 416.98 110.3 417.05 106.8 417.11 106.5 417.17 105.4 417.23 107.8 417.30 105.9 417.36 108.2 417.42 109.1 417.49 108.3 417.55 108.4 417.61 110.8 417.67 116.8 417.74 122.1 417.80 133.5 417.86 137.2 417.93 146.3 417.99 150.1 418.05 148.5 418.11 150.2 418.18 151.6 418.24 150.7 418.30 146.4 418.37 134.8 418.43 120.0 418.49 113.6 418.55 109.6 418.62 110.8 418.68 110.4 418.74 110.8 418.80 111.6 418.87 109.5 418.93 111.5 418.99 111.6 419.06 111.5 419.12 115.8 419.18 119.1 419.24 127.6 419.31 135.8 419.37 140.1 419.43 147.5 419.50 148.5 419.56 152.5 419.62 151.0 419.68 149.9 419.75 151.9 419.81 145.8 419.87 134.1 419.94 119.8 420.00 114.7 420.06 111.7 420.12 109.4 420.19 109.9 420.25 111.2 420.31 109.5 420.37 110.7 420.44 110.4 420.50 112.8 420.56 113.2 420.63 113.9 420.69 118.2 420.75 127.6 420.81 136.4 420.88 141.7 420.94 146.6 421.00 149.3 421.07 149.5 421.13 150.7 421.19 149.9 421.25 150.0 421.32 146.0 421.38 134.7 421.44 118.5 421.51 112.1 421.57 108.5 421.63 109.6 421.69 108.7 421.76 110.8 421.82 109.2 421.88 110.4 421.94 112.6 422.01 110.2 422.07 111.7 422.13 114.4 422.20 119.5 422.26 127.1 422.32 136.8 422.38 142.3 422.45 148.0 422.51 149.2 422.57 152.1 422.64 152.6 422.70 151.8 422.76 150.9 422.82 145.7 422.89 134.6 422.95 118.6 423.01 108.7 423.08 108.7 423.14 105.9 423.20 106.1 423.26 107.6 423.33 105.8 423.39 108.0 423.45 107.8 423.51 108.1 423.58 107.5 423.64 111.8 423.70 115.0 423.77 127.6 423.83 134.7 423.89 142.2 423.95 147.5 424.02 148.5 424.08 148.4 424.14 148.3 424.21 151.1 424.27 148.8 424.33 144.6 424.39 135.9 424.46 120.7 424.52 115.4 424.58 109.5 424.65 111.0 424.71 113.1 424.77 112.5 424.83 111.5 424.90 111.5 424.96 113.1 425.02 113.9 425.08 112.1 425.15 113.8 425.21 119.9 425.27 128.0 425.34 135.9 425.40 140.6 425.46 146.9 425.52 149.6 425.59 149.5 425.65 152.7 425.71 151.5 425.78 151.2 425.84 146.7 425.90 135.5 425.96 118.9 426.03 112.8 426.09 110.5 426.15 110.8 426.22 110.8 426.28 111.8 426.34 109.8 426.40 109.7 426.47 109.3 426.53 110.6 426.59 112.2 426.65 115.1 426.72 119.7 426.78 127.2 426.84 137.7 426.91 143.2 426.97 147.2 427.03 147.8 427.09 151.1 427.16 150.8 427.22 152.5 427.28 150.7 427.35 146.3 427.41 134.2 427.47 119.7 427.53 111.7 427.60 110.6 427.66 109.1 427.72 108.1 427.79 108.8 427.85 110.4 427.91 110.1 427.97 110.0 428.04 109.1 428.10 111.8 428.16 113.5 428.22 118.3 428.29 127.2 428.35 135.6 428.41 142.0 428.48 146.0 428.54 150.9 428.60 151.8 428.66 153.9 428.73 154.3 428.79 151.6 428.85 146.7 428.92 136.2 428.98 121.7 429.04 115.3 429.10 113.2 429.17 112.5 429.23 113.2 429.29 112.9 429.36 113.2 429.42 111.8 429.48 114.3 429.54 113.4 429.61 114.6 429.67 118.4 429.73 120.2 429.79 130.2 429.86 138.4 429.92 144.2 429.98 146.6 430.05 148.3 430.11 149.6 430.17 151.5 430.23 150.4 430.30 149.7 430.36 145.8 430.42 136.9 430.49 123.6 430.55 115.7 430.61 112.6 430.67 111.1 430.74 112.6 430.80 112.5 430.86 110.6 430.93 112.6 430.99 112.1 431.05 112.0 431.11 113.5 431.18 117.7 431.24 121.7 431.30 127.6 431.36 136.0 431.43 143.6 431.49 143.2 431.55 147.5 431.62 146.4 431.68 149.4 431.74 150.2 431.80 148.2 431.87 147.1 431.93 134.0 431.99 119.2 432.06 111.6 432.12 108.7 432.18 109.8 432.24 111.4 432.31 108.8 432.37 109.0 432.43 110.8 432.50 109.8 432.56 109.5 432.62 110.1 432.68 112.9 432.75 118.0 432.81 127.2 432.87 136.2 432.93 141.0 433.00 143.4 433.06 146.5 433.12 148.8 433.19 148.6 433.25 148.1 433.31 146.6 433.37 144.8 433.44 133.0"/></defs>
<use href="#fc0" stroke="#ff0a0a" stroke-width="1.5" stroke-opacity="0.32"/>
<use href="#fc0" stroke="#ff0a0a" stroke-width="1.5" stroke-opacity="0.9" stroke-dasharray="6 2"/>
<rect x="119.5" y="16" width="314" height="210" fill="url(#pat0)" fill-opacity="0.9" clip-path="url(#clp0)"/>
<path d="M219.16 136.1V174.8M226.70 136.3V152.2M259.86 138.7V197.0M259.86 138.7V216.0M270.41 138.7V222.8M305.07 146.7V201.5" stroke="#2222a8" stroke-width="1.5"/>
<rect x="120.0" y="17" width="313" height="208" fill="url(#strp)" fill-opacity="0.2"/>
</g>
<g fill="none" stroke-linejoin="bevel">
<use href="#dat" transform="translate(382 0)" stroke="#1818f0" stroke-width="1.6"/>
<defs><path id="fc1" d="M501.50 158.6L501.56 157.3 501.63 160.9 501.69 164.6 501.75 161.8 501.81 159.1 501.88 151.6 501.94 130.4 502.00 103.7 502.07 88.8 502.13 82.5 502.19 85.2 502.25 84.2 502.32 85.0 502.38 82.7 502.44 83.6 502.50 84.2 502.57 84.7 502.63 84.6 502.69 96.3 502.76 101.2 502.82 116.5 502.88 132.5 502.94 148.4 503.01 153.0 503.07 157.0 503.13 160.9 503.20 163.7 503.26 164.3 503.32 159.9 503.38 151.9 503.45 131.5 503.51 103.6 503.57 89.5 503.64 83.3 503.70 82.8 503.76 84.9 503.82 85.4 503.89 87.5 503.95 88.0 504.01 85.1 504.07 86.1 504.14 89.3 504.20 93.8 504.26 103.8 504.33 118.2 504.39 133.9 504.45 149.5 504.51 153.5 504.58 152.9 504.64 157.3 504.70 161.5 504.77 159.6 504.83 157.7 504.89 151.3 504.95 126.9 505.02 104.5 505.08 90.3 505.14 85.3 505.21 83.6 505.27 86.7 505.33 86.3 505.39 84.3 505.46 84.4 505.52 87.4 505.58 87.3 505.64 88.7 505.71 91.6 505.77 100.1 505.83 115.8 505.90 134.0 505.96 145.3 506.02 152.7 506.08 156.2 506.15 154.5 506.21 161.5 506.27 159.9 506.34 160.2 506.40 151.8 506.46 134.9 506.52 104.6 506.59 94.4 506.65 91.9 506.71 88.3 506.78 89.8 506.84 91.1 506.90 89.7 506.96 87.9 507.03 92.0 507.09 91.2 507.15 92.5 507.21 96.4 507.28 106.5 507.34 119.9 507.40 135.4 507.47 147.2 507.53 151.4 507.59 157.0 507.65 160.5 507.72 161.3 507.78 162.0 507.84 159.5 507.91 155.7 507.97 134.1 508.03 110.7 508.09 96.5 508.16 92.3 508.22 91.1 508.28 93.1 508.35 92.6 508.41 92.4 508.47 94.3 508.53 93.8 508.60 98.2 508.66 97.9 508.72 100.3 508.78 108.3 508.85 123.2 508.91 139.1 508.97 147.8 509.04 152.0 509.10 160.3 509.16 161.9 509.22 162.9 509.29 162.1 509.35 160.1 509.41 153.6 509.48 135.0 509.54 107.6 509.60 97.2 509.66 90.5 509.73 93.0 509.79 94.0 509.85 91.8 509.92 93.2 509.98 92.2 510.04 93.3 510.10 93.5 510.17 98.0 510.23 97.9 510.29 108.9 510.35 121.9 510.42 136.5 510.48 144.7 510.54 154.1 510.61 156.4 510.67 157.6 510.73 159.6 510.79 158.9 510.86 159.8 510.92 152.3 510.98 128.6 511.05 102.9 511.11 90.1 511.17 85.0 511.23 82.4 511.30 83.5 511.36 82.6 511.42 83.5 511.49 87.4 511.55 85.7 511.61 85.1 511.67 88.3 511.74 90.5 511.80 100.9 511.86 116.1 511.92 134.6 511.99 146.0 512.05 154.3 512.11 156.9 512.18 161.1 512.24 161.2 512.30 164.5 512.36 161.2 512.43 151.1 512.49 129.2 512.55 97.8 512.62 81.3 512.68 79.1 512.74 79.0 512.80 77.2 512.87 79.5 512.93 80.0 512.99 78.2 513.06 79.6 513.12 78.4 513.18 83.6 513.24 87.7 513.31 96.1 513.37 112.5 513.43 132.1 513.49 146.0 513.56 153.2 513.62 158.3 513.68 161.0 513.75 161.5 513.81 163.9 513.87 160.3 513.93 151.2 514.00 130.4 514.06 102.4 514.12 82.0 514.19 76.8 514.25 72.7 514.31 77.9 514.37 76.5 514.44 76.6 514.50 77.9 514.56 82.8 514.63 81.7 514.69 79.6 514.75 87.3 514.81 94.8 514.88 114.8 514.94 131.8 515.00 144.1 515.06 157.5 515.13 155.3 515.19 159.0 515.25 163.3 515.32 165.3 515.38 159.5 515.44 154.3 515.50 132.6 515.57 104.1 515.63 86.7 515.69 83.9 515.76 84.6 515.82 86.0 515.88 85.4 515.94 83.5 516.01 86.8 516.07 86.3 516.13 83.5 516.20 88.2 516.26 90.7 516.32 100.0 516.38 119.1 516.45 133.0 516.51 145.3 516.57 152.6 516.63 160.8 516.70 163.2 516.76 160.5 516.82 161.3 516.89 164.4 516.95 154.2 517.01 134.7 517.07 109.2 517.14 95.5 517.20 90.6 517.26 94.2 517.33 88.6 517.39 90.6 517.45 90.5 517.51 92.2 517.58 93.2 517.64 93.7 517.70 94.7 517.77 100.1 517.83 110.5 517.89 121.5 517.95 138.4 518.02 151.1 518.08 155.8 518.14 158.4 518.20 161.9 518.27 163.2 518.33 165.3 518.39 159.8 518.46 156.5 518.52 136.2 518.58 113.7 518.64 100.9 518.71 98.5 518.77 97.0 518.83 99.1 518.90 98.8 518.96 98.2 519.02 97.6 519.08 98.0 519.15 99.7 519.21 101.3 519.27 103.2 519.34 113.2 519.40 123.2 519.46 141.3 519.52 153.4 519.59 158.6 519.65 156.0 519.71 160.4 519.77 159.4 519.84 161.3 519.90 158.9 519.96 155.1 520.03 140.5 520.09 124.5 520.15 111.7 520.21 109.5 520.28 112.1 520.34 110.4 520.40 109.8 520.47 107.5 520.53 112.1 520.59 111.3 520.65 112.7 520.72 113.8 520.78 114.7 520.84 121.7 520.91 131.5 520.97 144.2 521.03 152.5 521.09 154.7 521.16 159.8 521.22 162.7 521.28 162.4 521.34 165.4 521.41 165.6 521.47 155.5 521.53 145.8 521.60 130.4 521.66 119.8 521.72 116.2 521.78 120.3 521.85 116.1 521.91 118.8 521.97 117.7 522.04 114.8 522.10 117.4 522.16 115.6 522.22 119.6 522.29 119.7 522.35 127.7 522.41 136.3 522.48 147.1 522.54 155.4 522.60 160.7 522.66 160.1 522.73 161.7 522.79 160.7 522.85 162.3 522.91 159.4 522.98 155.9 523.04 136.7 523.10 118.2 523.17 102.4 523.23 99.6 523.29 102.4 523.35 98.6 523.42 100.4 523.48 101.4 523.54 101.6 523.61 98.0 523.67 101.3 523.73 104.0 523.79 105.8 523.86 113.3 523.92 124.2 523.98 140.3 524.05 150.2 524.11 151.8 524.17 153.8 524.23 155.6 524.30 160.1 524.36 160.0 524.42 159.3 524.48 151.3 524.55 129.4 524.61 100.0 524.67 89.3 524.74 80.6 524.80 80.1 524.86 82.3 524.92 80.9 524.99 80.5 525.05 82.4 525.11 81.4 525.18 82.2 525.24 85.9 525.30 89.5 525.36 99.2 525.43 115.2 525.49 128.5 525.55 145.1 525.62 151.7 525.68 156.0 525.74 163.6 525.80 166.4 525.87 162.3 525.93 162.0 525.99 154.0 526.05 129.4 526.12 95.5 526.18 81.3 526.24 76.0 526.31 74.9 526.37 74.7 526.43 76.3 526.49 73.6 526.56 77.4 526.62 79.9 526.68 75.3 526.75 81.3 526.81 84.1 526.87 95.4 526.93 111.8 527.00 132.9 527.06 144.2 527.12 153.0 527.19 157.6 527.25 163.0 527.31 161.1 527.37 161.3 527.44 158.5 527.50 150.1 527.56 127.4 527.62 97.5 527.69 81.2 527.75 76.8 527.81 74.0 527.88 73.3 527.94 74.0 528.00 71.1 528.06 76.9 528.13 73.5 528.19 74.4 528.25 77.6 528.32 82.4 528.38 96.4 528.44 111.4 528.50 130.1 528.57 144.3 528.63 152.2 528.69 156.8 528.76 157.9 528.82 158.6 528.88 161.0 528.94 160.3 529.01 147.8 529.07 125.6 529.13 96.4 529.19 80.3 529.26 76.4 529.32 75.0 529.38 73.3 529.45 77.8 529.51 72.7 529.57 74.3 529.63 73.9 529.70 77.6 529.76 75.2 529.82 81.2 529.89 94.3 529.95 109.1 530.01 132.6 530.07 145.5 530.14 150.8 530.20 157.3 530.26 162.4 530.33 164.2 530.39 161.4 530.45 163.1 530.51 155.5 530.58 128.8 530.64 96.0 530.70 79.6 530.76 74.2 530.83 75.4 530.89 75.3 530.95 76.0 531.02 76.4 531.08 74.5 531.14 76.3 531.20 78.4 531.27 78.9 531.33 80.7 531.39 96.7 531.46 110.3 531.52 129.2 531.58 146.1 531.64 156.0 531.71 161.8 531.77 161.0 531.83 161.6 531.90 161.0 531.96 161.4 532.02 153.8 532.08 131.4 532.15 100.5 532.21 84.9 532.27 79.3 532.33 82.5 532.40 76.5 532.46 77.0 532.52 79.2 532.59 80.9 532.65 79.5 532.71 80.1 532.77 81.8 532.84 88.5 532.90 97.1 532.96 114.2 533.03 134.1 533.09 143.3 533.15 156.6 533.21 152.9 533.28 159.2 533.34 164.3 533.40 160.3 533.47 157.7 533.53 149.2 533.59 129.6 533.65 100.2 533.72 87.0 533.78 79.2 533.84 82.7 533.90 82.9 533.97 81.8 534.03 80.6 534.09 81.1 534.16 83.3 534.22 83.4 534.28 85.2 534.34 89.0 534.41 100.6 534.47 114.1 534.53 132.0 534.60 146.0 534.66 154.3 534.72 157.6 534.78 161.6 534.85 163.0 534.91 160.3 534.97 162.4 535.04 153.6 535.10 132.7 535.16 104.3 535.22 91.3 535.29 85.5 535.35 84.2 535.41 85.1 535.47 85.7 535.54 86.1 535.60 88.5 535.66 87.2 535.73 85.6 535.79 89.8 535.85 93.5 535.91 103.3 535.98 119.9 536.04 134.7 536.10 145.3 536.17 152.8 536.23 159.8 536.29 159.7 536.35 162.7 536.42 161.1 536.48 162.7 536.54 152.3 536.61 132.3 536.67 101.0 536.73 89.2 536.79 82.5 536.86 81.6 536.92 83.0 536.98 81.1 537.04 77.8 537.11 82.1 537.17 83.8 537.23 81.8 537.30 83.6 537.36 87.7 537.42 100.1 537.48 113.8 537.55 134.9 537.61 146.2 537.67 154.2 537.74 160.4 537.80 160.4 537.86 164.5 537.92 160.7 537.99 162.0 538.05 154.2 538.11 134.1 538.18 107.2 538.24 94.1 538.30 89.0 538.36 91.2 538.43 89.2 538.49 88.5 538.55 88.9 538.61 86.3 538.68 88.5 538.74 89.6 538.80 93.8 538.87 97.9 538.93 104.8 538.99 118.7 539.05 136.5 539.12 148.7 539.18 156.2 539.24 155.5 539.31 159.8 539.37 161.3 539.43 161.7 539.49 158.4 539.56 151.8 539.62 134.8 539.68 111.4 539.75 99.8 539.81 96.0 539.87 99.2 539.93 94.5 540.00 93.6 540.06 92.3 540.12 96.8 540.18 97.0 540.25 97.3 540.31 97.4 540.37 100.7 540.44 109.0 540.50 122.6 540.56 135.8 540.62 145.1 540.69 152.7 540.75 156.4 540.81 157.4 540.88 159.4 540.94 155.6 541.00 155.6 541.06 152.4 541.13 136.0 541.19 115.2 541.25 107.1 541.32 98.4 541.38 101.2 541.44 101.1 541.50 99.1 541.57 96.7 541.63 99.6 541.69 101.4 541.75 101.9 541.82 104.4 541.88 106.4 541.94 115.9 542.01 121.2 542.07 136.2 542.13 146.6 542.19 153.5 542.26 155.5 542.32 157.8 542.38 157.5 542.45 159.2 542.51 156.3 542.57 153.9 542.63 139.9 542.70 122.5 542.76 115.1 542.82 109.6 542.89 107.5 542.95 111.4 543.01 110.9 543.07 110.3 543.14 110.3 543.20 110.6 543.26 110.0 543.32 112.5 543.39 114.3 543.45 119.9 543.51 128.4 543.58 141.1 543.64 149.7 543.70 150.4 543.76 153.6 543.83 155.1 543.89 156.0 543.95 155.5 544.02 156.8 544.08 148.0 544.14 138.1 544.20 119.8 544.27 110.9 544.33 110.6 544.39 104.8 544.46 107.2 544.52 108.9 544.58 107.4 544.64 110.0 544.71 106.8 544.77 108.6 544.83 108.8 544.89 114.5 544.96 119.0 545.02 127.8 545.08 137.9 545.15 146.1 545.21 149.5 545.27 152.7 545.33 153.3 545.40 155.9 545.46 157.7 545.52 154.4 545.59 147.0 545.65 132.4 545.71 110.4 545.77 101.9 545.84 95.0 545.90 93.1 545.96 92.8 546.03 94.8 546.09 91.9 546.15 93.0 546.21 94.6 546.28 97.8 546.34 96.6 546.40 97.7 546.46 108.8 546.53 119.5 546.59 133.5 546.65 139.0 546.72 148.2 546.78 150.9 546.84 154.3 546.90 154.5 546.97 152.0 547.03 153.2 547.09 144.6 547.16 126.5 547.22 102.4 547.28 90.1 547.34 84.6 547.41 82.9 547.47 81.8 547.53 85.2 547.60 85.3 547.66 85.3 547.72 87.4 547.78 86.4 547.85 86.4 547.91 92.8 547.97 101.7 548.03 117.9 548.10 128.5 548.16 138.3 548.22 146.7 548.29 147.2 548.35 151.4 548.41 151.8 548.47 151.2 548.54 150.5 548.60 145.5 548.66 125.3 548.73 98.8 548.79 88.9 548.85 80.7 548.91 79.7 548.98 80.7 549.04 81.0 549.10 81.6 549.17 80.1 549.23 79.0 549.29 82.0 549.35 83.8 549.42 88.0 549.48 98.6 549.54 112.0 549.60 127.0 549.67 139.1 549.73 146.0 549.79 148.3 549.86 152.3 549.92 152.5 549.98 150.7 550.04 151.1 550.11 144.1 550.17 124.7 550.23 101.2 550.30 90.2 550.36 85.2 550.42 83.1 550.48 85.0 550.55 81.4 550.61 81.8 550.67 83.7 550.74 84.7 550.80 81.6 550.86 85.9 550.92 90.8 550.99 100.9 551.05 109.1 551.11 128.5 551.17 139.6 551.24 144.8 551.30 146.6 551.36 147.6 551.43 149.9 551.49 148.2 551.55 148.7 551.61 141.4 551.68 124.8 551.74 105.7 551.80 93.0 551.87 88.2 551.93 89.8 551.99 89.9 552.05 86.0 552.12 88.1 552.18 87.0 552.24 86.9 552.31 88.7 552.37 91.3 552.43 91.5 552.49 102.8 552.56 113.1 552.62 121.4 552.68 136.5 552.74 142.7 552.81 147.0 552.87 147.7 552.93 146.0 553.00 149.3 553.06 148.6 553.12 138.3 553.18 125.3 553.25 102.7 553.31 92.9 553.37 89.4 553.44 86.3 553.50 85.1 553.56 86.1 553.62 86.6 553.69 87.0 553.75 88.8 553.81 88.7 553.88 88.9 553.94 94.3 554.00 98.6 554.06 111.7 554.13 126.0 554.19 135.0 554.25 139.9 554.31 142.4 554.38 146.4 554.44 144.5 554.50 146.6 554.57 145.1 554.63 139.7 554.69 121.3 554.75 100.5 554.82 88.9 554.88 85.5 554.94 83.6 555.01 85.0 555.07 84.9 555.13 84.1 555.19 82.0 555.26 84.0 555.32 86.6 555.38 88.9 555.45 90.7 555.51 98.4 555.57 109.6 555.63 125.1 555.70 132.6 555.76 139.4 555.82 144.1 555.88 143.4 555.95 145.5 556.01 145.2 556.07 145.9 556.14 139.2 556.20 122.2 556.26 96.4 556.32 88.8 556.39 85.1 556.45 84.3 556.51 84.4 556.58 83.1 556.64 85.9 556.70 84.3 556.76 84.1 556.83 85.6 556.89 87.2 556.95 89.9 557.02 98.5 557.08 111.9 557.14 124.3 557.20 133.0 557.27 138.3 557.33 138.1 557.39 142.2 557.45 146.0 557.52 146.8 557.58 143.7 557.64 135.4 557.71 120.4 557.77 95.0 557.83 86.2 557.89 77.9 557.96 79.1 558.02 78.3 558.08 76.7 558.15 77.8 558.21 80.7 558.27 81.5 558.33 79.9 558.40 82.4 558.46 87.4 558.52 93.5 558.59 106.0 558.65 124.3 558.71 130.0 558.77 141.1 558.84 141.4 558.90 142.9 558.96 143.8 559.02 146.1 559.09 141.8 559.15 138.8 559.21 116.6 559.28 95.0 559.34 85.6 559.40 77.8 559.46 82.7 559.53 79.6 559.59 77.8 559.65 79.9 559.72 80.9 559.78 77.3 559.84 79.4 559.90 82.6 559.97 85.2 560.03 94.7 560.09 106.3 560.16 119.3 560.22 132.2 560.28 138.9 560.34 137.6 560.41 143.7 560.47 144.4 560.53 143.4 560.59 144.5 560.66 138.1 560.72 117.9 560.78 98.2 560.85 89.9 560.91 82.7 560.97 86.1 561.03 85.4 561.10 83.7 561.16 80.5 561.22 83.8 561.29 84.4 561.35 83.2 561.41 85.4 561.47 91.8 561.54 97.3 561.60 106.5 561.66 121.5 561.73 132.5 561.79 138.2 561.85 142.4 561.91 142.8 561.98 143.0 562.04 146.8 562.10 147.0 562.16 137.6 562.23 122.7 562.29 103.5 562.35 92.9 562.42 88.8 562.48 87.4 562.54 87.5 562.60 91.7 562.67 91.9 562.73 90.8 562.79 93.7 562.86 92.5 562.92 95.9 562.98 97.7 563.04 99.9 563.11 111.4 563.17 124.4 563.23 136.1 563.30 136.0 563.36 139.8 563.42 141.4 563.48 144.0 563.55 145.5 563.61 144.8 563.67 138.7 563.73 123.8 563.80 106.9 563.86 103.8 563.92 98.3 563.99 97.3 564.05 97.7 564.11 98.1 564.17 98.5 564.24 96.9 564.30 98.1 564.36 98.0 564.43 98.1 564.49 101.0 564.55 107.6 564.61 116.5 564.68 126.6 564.74 130.9 564.80 139.8 564.87 134.5 564.93 139.6 564.99 142.3 565.05 142.0 565.12 138.5 565.18 135.1 565.24 122.1 565.30 99.9 565.37 89.5 565.43 83.4 565.49 86.0 565.56 87.2 565.62 84.8 565.68 83.9 565.74 84.9 565.81 81.0 565.87 84.9 565.93 86.6 566.00 91.1 566.06 96.8 566.12 105.5 566.18 114.4 566.25 123.4 566.31 123.1 566.37 123.3 566.44 126.0 566.50 127.8 566.56 128.2 566.62 124.2 566.69 119.3 566.75 103.0 566.81 74.6 566.87 64.1 566.94 58.7 567.00 58.2 567.06 60.0 567.13 60.3 567.19 61.1 567.25 59.6 567.31 60.6 567.38 62.6 567.44 60.7 567.50 65.7 567.57 72.0 567.63 88.1 567.69 100.7 567.75 111.9 567.82 118.7 567.88 123.7 567.94 126.0 568.01 125.8 568.07 129.0 568.13 126.9 568.19 120.1 568.26 99.0 568.32 69.9 568.38 60.9 568.44 53.6 568.51 57.1 568.57 54.3 568.63 55.9 568.70 57.4 568.76 56.5 568.82 54.1 568.88 58.6 568.95 58.1 569.01 63.2 569.07 69.3 569.14 85.5 569.20 101.1 569.26 110.9 569.32 120.9 569.39 121.7 569.45 126.1 569.51 130.0 569.58 126.5 569.64 125.3 569.70 118.3 569.76 95.7 569.83 66.8 569.89 53.6 569.95 46.0 570.01 48.4 570.08 45.7 570.14 49.6 570.20 43.8 570.27 47.7 570.33 49.1 570.39 49.9 570.45 50.3 570.52 56.3 570.58 68.1 570.64 78.7 570.71 93.0 570.77 111.2 570.83 117.0 570.89 120.4 570.96 124.7 571.02 128.3 571.08 126.0 571.15 124.5 571.21 116.8 571.27 94.9 571.33 65.1 571.40 54.3 571.46 46.0 571.52 45.1 571.58 42.7 571.65 45.0 571.71 46.8 571.77 47.4 571.84 48.6 571.90 46.4 571.96 47.4 572.02 53.7 572.09 64.1 572.15 78.7 572.21 96.4 572.28 110.8 572.34 119.6 572.40 121.6 572.46 123.4 572.53 126.2 572.59 127.0 572.65 126.7 572.72 118.0 572.78 95.6 572.84 70.7 572.90 56.7 572.97 48.8 573.03 49.1 573.09 52.3 573.15 49.8 573.22 51.5 573.28 49.4 573.34 46.7 573.41 51.3 573.47 53.7 573.53 58.6 573.59 67.4 573.66 80.4 573.72 102.4 573.78 112.3 573.85 119.3 573.91 124.2 573.97 126.7 574.03 125.7 574.10 127.4 574.16 125.0 574.22 119.4 574.29 94.5 574.35 67.0 574.41 50.9 574.47 43.8 574.54 45.1 574.60 46.5 574.66 44.3 574.72 46.8 574.79 44.9 574.85 47.5 574.91 48.4 574.98 51.6 575.04 54.1 575.10 65.5 575.16 80.2 575.23 101.4 575.29 109.9 575.35 119.5 575.42 123.0 575.48 125.9 575.54 124.4 575.60 124.4 575.67 124.5 575.73 119.0 575.79 96.8 575.86 71.1 575.92 59.9 575.98 53.0 576.04 53.8 576.11 53.1 576.17 53.5 576.23 51.6 576.29 54.3 576.36 53.5 576.42 52.9 576.48 56.5 576.55 61.6 576.61 70.2 576.67 86.2 576.73 99.7 576.80 110.5 576.86 121.0 576.92 121.3 576.99 128.1 577.05 130.8 577.11 129.5 577.17 128.7 577.24 120.3 577.30 94.0 577.36 61.5 577.43 47.5 577.49 39.2 577.55 43.2 577.61 39.8 577.68 38.2 577.74 39.3 577.80 39.9 577.86 42.7 577.93 42.6 577.99 44.4 578.05 49.3 578.12 58.7 578.18 76.4 578.24 97.1 578.30 109.9 578.37 118.3 578.43 126.8 578.49 126.9 578.56 130.7 578.62 125.8 578.68 129.0 578.74 121.0 578.81 102.7 578.87 76.3 578.93 61.7 579.00 59.2 579.06 53.5 579.12 55.6 579.18 55.9 579.25 54.3 579.31 56.4 579.37 56.8 579.43 58.6 579.50 57.1 579.56 63.3 579.62 72.9 579.69 86.8 579.75 102.8 579.81 115.1 579.87 122.3 579.94 125.1 580.00 132.4 580.06 129.3 580.13 130.2 580.19 129.8 580.25 121.8 580.31 95.9 580.38 67.2 580.44 57.1 580.50 49.0 580.57 50.0 580.63 51.5 580.69 51.3 580.75 49.4 580.82 49.7 580.88 49.5 580.94 52.8 581.00 50.7 581.07 54.5 581.13 68.0 581.19 84.2 581.26 101.4 581.32 115.1 581.38 124.7 581.44 130.2 581.51 130.3 581.57 132.7 581.63 131.6 581.70 129.9 581.76 123.2 581.82 103.5 581.88 79.4 581.95 67.9 582.01 63.9 582.07 59.7 582.14 62.5 582.20 63.0 582.26 63.0 582.32 66.1 582.39 64.3 582.45 62.4 582.51 67.4 582.57 69.4 582.64 77.3 582.70 92.0 582.76 107.5 582.83 118.3 582.89 127.7 582.95 129.3 583.01 130.3 583.08 135.5 583.14 131.3 583.20 130.2 583.27 124.8 583.33 104.9 583.39 81.7 583.45 64.8 583.52 60.4 583.58 62.3 583.64 62.0 583.71 62.4 583.77 61.1 583.83 63.5 583.89 62.2 583.96 65.9 584.02 62.2 584.08 68.4 584.14 79.8 584.21 90.6 584.27 108.4 584.33 118.1 584.40 126.0 584.46 129.1 584.52 130.2 584.58 132.2 584.65 132.8 584.71 133.7 584.77 124.2 584.84 108.8 584.90 87.0 584.96 75.8 585.02 72.2 585.09 71.4 585.15 74.0 585.21 75.3 585.28 73.6 585.34 75.1 585.40 74.0 585.46 77.2 585.53 78.0 585.59 79.3 585.65 86.1 585.71 97.9 585.78 110.4 585.84 117.4 585.90 124.2 585.97 127.4 586.03 129.9 586.09 133.5 586.15 130.2 586.22 127.7 586.28 121.2 586.34 101.1 586.41 72.4 586.47 61.9 586.53 52.7 586.59 56.3 586.66 57.5 586.72 55.1 586.78 56.3 586.85 57.6 586.91 55.9 586.97 56.9 587.03 57.6 587.10 62.2 587.16 71.3 587.22 85.6 587.28 105.4 587.35 116.3 587.41 124.0 587.47 125.4 587.54 129.6 587.60 127.4 587.66 129.6 587.72 127.0 587.79 116.2 587.85 96.9 587.91 67.7 587.98 56.2 588.04 51.0 588.10 49.5 588.16 52.1 588.23 50.5 588.29 48.8 588.35 50.9 588.42 50.0 588.48 50.6 588.54 51.6 588.60 55.4 588.67 67.2 588.73 82.9 588.79 99.0 588.85 112.7 588.92 117.0 588.98 122.7 589.04 125.8 589.11 125.8 589.17 124.9 589.23 124.5 589.29 117.1 589.36 99.3 589.42 79.1 589.48 63.2 589.55 58.1 589.61 60.9 589.67 59.9 589.73 59.4 589.80 59.4 589.86 60.9 589.92 60.7 589.99 60.0 590.05 61.5 590.11 67.1 590.17 73.7 590.24 86.3 590.30 101.9 590.36 113.3 590.42 119.9 590.49 124.4 590.55 127.3 590.61 127.0 590.68 127.6 590.74 124.9 590.80 118.9 590.86 101.2 590.93 74.7 590.99 61.7 591.05 56.1 591.12 57.8 591.18 56.8 591.24 57.2 591.30 57.4 591.37 57.9 591.43 58.9 591.49 58.2 591.56 60.9 591.62 66.3 591.68 73.3 591.74 85.8 591.81 104.6 591.87 112.5 591.93 119.7 591.99 120.0 592.06 125.5 592.12 126.1 592.18 125.8 592.25 124.2 592.31 115.4 592.37 101.5 592.43 74.4 592.50 58.4 592.56 60.2 592.62 58.3 592.69 57.5 592.75 56.9 592.81 58.6 592.87 58.2 592.94 59.2 593.00 59.5 593.06 61.7 593.13 64.5 593.19 78.7 593.25 86.2 593.31 98.8 593.38 111.8 593.44 119.9 593.50 122.5 593.56 126.2 593.63 126.0 593.69 126.8 593.75 127.4 593.82 120.0 593.88 102.7 593.94 79.8 594.00 63.6 594.07 60.8 594.13 62.5 594.19 62.7 594.26 62.7 594.32 61.8 594.38 62.0 594.44 63.2 594.51 62.5 594.57 64.6 594.63 71.0 594.70 75.1 594.76 87.1 594.82 104.7 594.88 113.4 594.95 118.8 595.01 124.4 595.07 126.2 595.13 127.2 595.20 130.2 595.26 126.1 595.32 118.1 595.39 101.5 595.45 74.1 595.51 63.6 595.57 58.8 595.64 59.0 595.70 55.4 595.76 56.1 595.83 58.4 595.89 58.9 595.95 61.7 596.01 58.0 596.08 58.2 596.14 66.1 596.20 71.4 596.27 88.0 596.33 104.5 596.39 113.2 596.45 120.4 596.52 125.0 596.58 126.4 596.64 127.8 596.70 127.6 596.77 124.0 596.83 118.0 596.89 99.6 596.96 72.9 597.02 61.8 597.08 53.4 597.14 55.6 597.21 55.0 597.27 55.9 597.33 54.5 597.40 56.0 597.46 53.4 597.52 56.2 597.58 55.6 597.65 63.3 597.71 71.9 597.77 85.1 597.84 100.9 597.90 111.4 597.96 118.8 598.02 120.0 598.09 124.4 598.15 126.8 598.21 125.9 598.27 123.8 598.34 116.8 598.40 93.1 598.46 66.7 598.53 51.1 598.59 47.8 598.65 44.4 598.71 46.6 598.78 47.2 598.84 44.3 598.90 47.7 598.97 47.9 599.03 48.7 599.09 49.1 599.15 54.0 599.22 63.6 599.28 79.1 599.34 98.3 599.41 110.4 599.47 115.2 599.53 118.7 599.59 124.3 599.66 125.8 599.72 127.2 599.78 124.2 599.84 115.4 599.91 99.8 599.97 71.0 600.03 60.7 600.10 56.9 600.16 54.3 600.22 56.3 600.28 57.0 600.35 58.9 600.41 55.3 600.47 57.1 600.54 58.6 600.60 60.0 600.66 64.2 600.72 71.1 600.79 87.0 600.85 102.7 600.91 112.9 600.98 119.4 601.04 122.6 601.10 123.6 601.16 125.3 601.23 170.7 601.29 126.6 601.35 117.8 601.41 100.0 601.48 74.1 601.54 61.1 601.60 56.1 601.67 57.0 601.73 55.5 601.79 55.0 601.85 57.2 601.92 57.0 601.98 58.4 602.04 55.2 602.11 58.8 602.17 62.4 602.23 168.0 602.29 86.8 602.36 102.1 602.42 111.1 602.48 118.4 602.55 123.3 602.61 126.2 602.67 124.6 602.73 127.1 602.80 126.3 602.86 117.1 602.92 97.6 602.98 70.9 603.05 53.5 603.11 51.3 603.17 51.2 603.24 53.2 603.30 49.7 603.36 51.9 603.42 50.9 603.49 51.9 603.55 54.3 603.61 50.8 603.68 57.3 603.74 69.0 603.80 81.7 603.86 98.0 603.93 111.2 603.99 120.4 604.05 125.9 604.12 128.9 604.18 127.4 604.24 127.8 604.30 124.9 604.37 118.7 604.43 106.2 604.49 86.5 604.55 75.3 604.62 67.3 604.68 70.8 604.74 72.3 604.81 66.4 604.87 71.9 604.93 68.1 604.99 70.0 605.06 67.7 605.12 69.8 605.18 73.2 605.25 84.5 605.31 91.4 605.37 105.3 605.43 117.9 605.50 121.1 605.56 122.3 605.62 128.6 605.69 127.8 605.75 125.5 605.81 126.6 605.87 120.1 605.94 100.0 606.00 74.5 606.06 64.8 606.12 57.2 606.19 58.8 606.25 56.8 606.31 57.0 606.38 59.2 606.44 57.6 606.50 56.3 606.56 57.7 606.63 60.6 606.69 64.6 606.75 72.3 606.82 86.3 606.88 102.2 606.94 113.7 607.00 118.9 607.07 122.4 607.13 123.8 607.19 124.0 607.26 126.8 607.32 121.3 607.38 119.6 607.44 96.9 607.51 68.7 607.57 55.1 607.63 49.6 607.69 51.7 607.76 50.5 607.82 48.9 607.88 51.9 607.95 51.6 608.01 53.3 608.07 53.1 608.13 55.5 608.20 60.9 608.26 67.4 608.32 85.0 608.39 99.0 608.45 113.2 608.51 119.1 608.57 122.1 608.64 126.6 608.70 122.9 608.76 147.1 608.83 125.9 608.89 116.2 608.95 98.0 609.01 73.8 609.08 68.7 609.14 59.4 609.20 59.9 609.26 58.3 609.33 59.3 609.39 62.3 609.45 57.2 609.52 60.5 609.58 58.7 609.64 60.5 609.70 66.1 609.77 148.0 609.83 87.2 609.89 103.9 609.96 113.0 610.02 119.5 610.08 121.5 610.14 120.5 610.21 126.3 610.27 124.6 610.33 123.5 610.40 117.8 610.46 96.9 610.52 70.0 610.58 55.6 610.65 51.1 610.71 50.7 610.77 50.4 610.83 52.1 610.90 49.7 610.96 50.6 611.02 52.5 611.09 53.6 611.15 55.0 611.21 58.1 611.27 68.7 611.34 81.9 611.40 96.6 611.46 110.1 611.53 116.5 611.59 117.9 611.65 124.1 611.71 127.2 611.78 123.5 611.84 121.4 611.90 119.6 611.97 97.4 612.03 72.7 612.09 62.6 612.15 57.7 612.22 58.3 612.28 59.5 612.34 57.3 612.40 57.3 612.47 56.7 612.53 59.5 612.59 59.6 612.66 59.5 612.72 66.9 612.78 72.1 612.84 86.8 612.91 101.1 612.97 109.0 613.03 116.4 613.10 121.2 613.16 126.2 613.22 125.5 613.28 125.7 613.35 128.1 613.41 118.0 613.47 96.2 613.54 74.1 613.60 62.4 613.66 55.4 613.72 54.4 613.79 57.9 613.85 56.5 613.91 56.5 613.97 57.0 614.04 56.4 614.10 57.9 614.16 58.2 614.23 60.5 614.29 72.3 614.35 85.4 614.41 101.0 614.48 111.3 614.54 118.4 614.60 122.0 614.67 125.7 614.73 125.1 614.79 126.3 614.85 124.5 614.92 118.3 614.98 105.9 615.04 85.3 615.11 77.1 615.17 73.5 615.23 70.5 615.29 72.4 615.36 74.1 615.42 73.6 615.48 75.1 615.54 72.0 615.61 76.9 615.67 76.4 615.73 76.9 615.80 85.4 615.86 95.7 615.92 106.4 615.98 117.4 616.05 119.0 616.11 123.1 616.17 127.3 616.24 124.8 616.30 125.3 616.36 125.3 616.42 118.7 616.49 106.2 616.55 88.2 616.61 78.5 616.68 73.4 616.74 71.4 616.80 73.4 616.86 73.6 616.93 76.0 616.99 72.6 617.05 73.0 617.11 74.4 617.18 78.0 617.24 79.2 617.30 85.6 617.37 96.7 617.43 106.6 617.49 115.0 617.55 122.2 617.62 120.0 617.68 120.9 617.74 123.0 617.81 125.1 617.87 124.1 617.93 116.5 617.99 95.4 618.06 75.9 618.12 62.8 618.18 58.9 618.25 59.4 618.31 58.6 618.37 54.9 618.43 60.7 618.50 59.6 618.56 57.6 618.62 58.9 618.68 63.0 618.75 65.8 618.81 77.3 618.87 84.9 618.94 98.3 619.00 112.0 619.06 115.4 619.12 119.9 619.19 124.7 619.25 126.8 619.31 126.0 619.38 124.5 619.44 117.6 619.50 101.0 619.56 78.4 619.63 68.0 619.69 60.8 619.75 62.5 619.82 61.8 619.88 59.6 619.94 61.1 620.00 62.9 620.07 61.8 620.13 61.7 620.19 63.6 620.25 66.5 620.32 73.9 620.38 87.0 620.44 100.5 620.51 112.3 620.57 120.8 620.63 118.2 620.69 127.5 620.76 126.1 620.82 125.6 620.88 124.5 620.95 116.3 621.01 97.8 621.07 67.3 621.13 58.8 621.20 48.8 621.26 49.4 621.32 46.5 621.39 49.0 621.45 49.4 621.51 49.0 621.57 49.0 621.64 51.7 621.70 53.4 621.76 57.2 621.82 67.5 621.89 83.5 621.95 97.4 622.01 108.6 622.08 118.2 622.14 122.4 622.20 126.8 622.26 123.1 622.33 125.1 622.39 128.9 622.45 117.4 622.52 100.4 622.58 72.1 622.64 64.4 622.70 59.6 622.77 60.5 622.83 55.9 622.89 56.5 622.96 59.4 623.02 61.7 623.08 56.4 623.14 58.2 623.21 57.9 623.27 64.5 623.33 72.1 623.39 85.1 623.46 101.6 623.52 112.0 623.58 117.0 623.65 122.4 623.71 123.8 623.77 126.5 623.83 130.0 623.90 124.5 623.96 116.8 624.02 96.9 624.09 75.8 624.15 66.9 624.21 59.2 624.27 58.7 624.34 60.4 624.40 58.4 624.46 58.9 624.53 60.8 624.59 61.6 624.65 63.1 624.71 63.4 624.78 65.7 624.84 73.0 624.90 89.1 624.96 102.3 625.03 113.6 625.09 120.4 625.15 121.3 625.22 124.0 625.28 126.5 625.34 128.3 625.40 125.3 625.47 119.3 625.53 99.1 625.59 78.1 625.66 64.6 625.72 60.3 625.78 61.4 625.84 61.7 625.91 58.3 625.97 63.7 626.03 61.5 626.10 63.6 626.16 61.2 626.22 64.4 626.28 69.4 626.35 77.5 626.41 91.3 626.47 99.8 626.53 113.2 626.60 116.0 626.66 122.5 626.72 125.4 626.79 129.8 626.85 128.9 626.91 127.2 626.97 118.7 627.04 101.8 627.10 81.0 627.16 69.2 627.23 66.3 627.29 62.9 627.35 63.8 627.41 61.3 627.48 63.9 627.54 64.9 627.60 65.5 627.67 66.2 627.73 65.5 627.79 71.6 627.85 80.4 627.92 90.5 627.98 105.8 628.04 114.9 628.10 123.9 628.17 121.4 628.23 125.4 628.29 124.3 628.36 126.7 628.42 126.6 628.48 117.0 628.54 98.8 628.61 70.4 628.67 57.4 628.73 51.7 628.80 53.8 628.86 54.4 628.92 52.5 628.98 53.3 629.05 54.3 629.11 53.9 629.17 52.5 629.24 56.4 629.30 60.9 629.36 70.1 629.42 81.0 629.49 99.2 629.55 113.9 629.61 118.9 629.67 121.1 629.74 126.4 629.80 125.9 629.86 126.5 629.93 123.3 629.99 119.1 630.05 103.6 630.11 80.0 630.18 66.5 630.24 62.6 630.30 61.8 630.37 65.5 630.43 64.9 630.49 63.1 630.55 62.4 630.62 66.1 630.68 64.5 630.74 64.9 630.81 68.4 630.87 76.1 630.93 88.6 630.99 104.8 631.06 115.2 631.12 118.4 631.18 122.0 631.24 122.7 631.31 127.9 631.37 126.0 631.43 123.0 631.50 112.6 631.56 98.7 631.62 72.3 631.68 55.6 631.75 49.4 631.81 51.6 631.87 49.5 631.94 52.2 632.00 52.0 632.06 52.1 632.12 48.7 632.19 52.9 632.25 55.5 632.31 58.8 632.38 66.2 632.44 80.7 632.50 97.8 632.56 112.4 632.63 119.3 632.69 122.2 632.75 124.9 632.81 125.4 632.88 130.1 632.94 123.1 633.00 119.0 633.07 99.7 633.13 69.9 633.19 58.6 633.25 50.0 633.32 53.6 633.38 54.9 633.44 53.0 633.51 52.7 633.57 50.7 633.63 51.2 633.69 54.3 633.76 59.7 633.82 59.1 633.88 72.5 633.95 84.2 634.01 100.5 634.07 108.3 634.13 117.9 634.20 119.9 634.26 121.4 634.32 126.5 634.38 125.4 634.45 122.4 634.51 117.2 634.57 93.6 634.64 66.1 634.70 51.4 634.76 46.5 634.82 48.3 634.89 45.8 634.95 47.4 635.01 45.3 635.08 50.2 635.14 48.7 635.20 51.5 635.26 50.7 635.33 52.4 635.39 65.4 635.45 78.1 635.52 97.2 635.58 109.4 635.64 117.2 635.70 123.2 635.77 123.6 635.83 125.7 635.89 126.8 635.95 122.6 636.02 120.5 636.08 100.5 636.14 77.6 636.21 64.8 636.27 63.8 636.33 61.8 636.39 63.5 636.46 64.1 636.52 60.7 636.58 59.6 636.65 61.6 636.71 63.4 636.77 67.3 636.83 70.3 636.90 78.6 636.96 88.9 637.02 104.8 637.09 113.8 637.15 123.5 637.21 121.2 637.27 122.9 637.34 125.6 637.40 127.1 637.46 122.9 637.52 116.0 637.59 102.0 637.65 82.5 637.71 72.1 637.78 65.6 637.84 66.2 637.90 65.4 637.96 64.4 638.03 67.4 638.09 69.5 638.15 69.3 638.22 67.8 638.28 70.1 638.34 72.5 638.40 78.5 638.47 92.8 638.53 103.0 638.59 115.0 638.66 120.1 638.72 123.6 638.78 122.7 638.84 126.1 638.91 127.4 638.97 127.4 639.03 118.0 639.09 101.1 639.16 81.7 639.22 67.7 639.28 63.6 639.35 62.1 639.41 66.8 639.47 67.4 639.53 66.8 639.60 65.5 639.66 67.5 639.72 65.6 639.79 65.9 639.85 70.2 639.91 81.7 639.97 92.5 640.04 102.6 640.10 115.3 640.16 121.1 640.23 122.4 640.29 125.2 640.35 128.2 640.41 124.7 640.48 124.8 640.54 116.4 640.60 102.9 640.66 79.7 640.73 69.4 640.79 64.6 640.85 66.4 640.92 63.9 640.98 67.2 641.04 62.5 641.10 67.1 641.17 63.7 641.23 63.3 641.29 69.9 641.36 71.2 641.42 78.1 641.48 88.1 641.54 105.9 641.61 115.2 641.67 120.0 641.73 120.9 641.80 118.6 641.86 126.6 641.92 211.0 641.98 125.9 642.05 116.3 642.11 98.3 642.17 68.9 642.23 59.8 642.30 52.7 642.36 50.5 642.42 54.8 642.49 52.7 642.55 53.9 642.61 53.4 642.67 54.8 642.74 53.4 642.80 55.3 642.86 59.4 642.93 201.5 642.99 81.8 643.05 100.6 643.11 113.6 643.18 118.6 643.24 124.8 643.30 126.5 643.37 125.7 643.43 125.3 643.49 125.9 643.55 121.1 643.62 103.8 643.68 78.3 643.74 70.4 643.80 64.7 643.87 65.8 643.93 62.6 643.99 62.6 644.06 65.4 644.12 64.8 644.18 66.9 644.24 68.4 644.31 66.4 644.37 71.5 644.43 79.4 644.50 91.0 644.56 106.5 644.62 115.1 644.68 121.6 644.75 121.0 644.81 122.4 644.87 125.6 644.94 125.7 645.00 125.1 645.06 118.5 645.12 96.9 645.19 66.4 645.25 55.0 645.31 48.4 645.37 47.4 645.44 48.4 645.50 50.7 645.56 50.5 645.63 51.4 645.69 51.3 645.75 51.7 645.81 54.2 645.88 57.7 645.94 66.5 646.00 82.9 646.07 99.7 646.13 114.0 646.19 120.2 646.25 124.3 646.32 130.2 646.38 128.8 646.44 126.9 646.51 129.0 646.57 122.0 646.63 107.3 646.69 84.2 646.76 74.5 646.82 72.1 646.88 69.1 646.94 70.5 647.01 69.9 647.07 70.4 647.13 71.7 647.20 70.6 647.26 70.3 647.32 74.6 647.38 77.7 647.45 84.3 647.51 95.2 647.57 108.9 647.64 119.0 647.70 125.1 647.76 124.9 647.82 126.0 647.89 128.4 647.95 131.1 648.01 127.1 648.08 122.3 648.14 100.0 648.20 75.0 648.26 64.6 648.33 58.7 648.39 57.2 648.45 56.2 648.51 57.3 648.58 54.7 648.64 58.3 648.70 58.5 648.77 60.4 648.83 60.9 648.89 60.6 648.95 72.8 649.02 87.6 649.08 104.1 649.14 114.5 649.21 122.3 649.27 122.1 649.33 128.6 649.39 130.0 649.46 127.2 649.52 126.7 649.58 117.5 649.65 96.3 649.71 71.1 649.77 57.5 649.83 52.5 649.90 49.0 649.96 51.9 650.02 50.6 650.08 51.7 650.15 52.2 650.21 51.9 650.27 53.1 650.34 54.0 650.40 61.5 650.46 71.7 650.52 85.8 650.59 102.3 650.65 113.0 650.71 119.0 650.78 124.9 650.84 128.5 650.90 127.5 650.96 128.8 651.03 125.8 651.09 118.9 651.15 94.7 651.22 69.4 651.28 55.7 651.34 49.0 651.40 50.8 651.47 47.8 651.53 49.0 651.59 49.7 651.65 47.9 651.72 48.4 651.78 53.3 651.84 52.5 651.91 55.4 651.97 70.4 652.03 83.7 652.09 97.9 652.16 112.9 652.22 125.9 652.28 127.2 652.35 126.3 652.41 129.7 652.47 215.4 652.53 126.7 652.60 121.9 652.66 103.4 652.72 81.4 652.79 67.9 652.85 64.7 652.91 62.6 652.97 63.9 653.04 62.5 653.10 64.5 653.16 67.4 653.22 65.3 653.29 66.2 653.35 68.8 653.41 71.1 653.48 211.0 653.54 89.8 653.60 109.1 653.66 116.7 653.73 123.1 653.79 126.2 653.85 126.9 653.92 127.6 653.98 128.0 654.04 126.3 654.10 120.5 654.17 105.2 654.23 82.1 654.29 66.3 654.36 65.7 654.42 66.2 654.48 63.2 654.54 63.7 654.61 65.1 654.67 67.0 654.73 65.1 654.79 64.7 654.86 68.1 654.92 70.4 654.98 82.8 655.05 89.8 655.11 109.3 655.17 114.5 655.23 123.1 655.30 128.9 655.36 130.2 655.42 131.3 655.49 130.3 655.55 130.0 655.61 123.3 655.67 110.1 655.74 87.9 655.80 78.1 655.86 75.5 655.93 71.1 655.99 73.2 656.05 72.7 656.11 77.1 656.18 77.6 656.24 78.1 656.30 77.2 656.36 76.8 656.43 79.5 656.49 86.1 656.55 99.8 656.62 111.7 656.68 118.5 656.74 125.9 656.80 133.3 656.87 129.8 656.93 130.3 656.99 130.5 657.06 129.4 657.12 128.9 657.18 119.8 657.24 108.1 657.31 100.9 657.37 101.9 657.43 101.3 657.50 101.6 657.56 100.7 657.62 101.5 657.68 100.3 657.75 101.0 657.81 99.7 657.87 104.7 657.93 102.8 658.00 107.5 658.06 113.8 658.12 120.8 658.19 125.3 658.25 129.9 658.31 130.1 658.37 130.6 658.44 134.4 658.50 133.4 658.56 131.4 658.63 127.5 658.69 119.1 658.75 104.4 658.81 97.5 658.88 98.3 658.94 97.4 659.00 95.7 659.07 96.7 659.13 97.5 659.19 98.5 659.25 98.9 659.32 95.6 659.38 97.1 659.44 99.6 659.50 106.2 659.57 112.0 659.63 121.5 659.69 126.3 659.76 128.0 659.82 129.0 659.88 130.6 659.94 133.9 660.01 131.3 660.07 132.5 660.13 125.4 660.20 117.2 660.26 102.7 660.32 93.3 660.38 91.6 660.45 90.5 660.51 89.3 660.57 92.2 660.64 89.5 660.70 90.9 660.76 91.1 660.82 92.3 660.89 91.3 660.95 93.2 661.01 97.7 661.07 107.3 661.14 118.7 661.20 122.0 661.26 126.0 661.33 129.3 661.39 131.2 661.45 132.6 661.51 133.1 661.58 134.9 661.64 128.2 661.70 113.7 661.77 100.4 661.83 91.9 661.89 89.7 661.95 91.0 662.02 91.7 662.08 90.9 662.14 88.9 662.21 89.1 662.27 89.5 662.33 89.9 662.39 93.5 662.46 94.2 662.52 98.0 662.58 107.4 662.64 117.2 662.71 124.1 662.77 128.2 662.83 129.7 662.90 131.4 662.96 133.2 663.02 131.3 663.08 132.3 663.15 128.1 663.21 114.2 663.27 93.3 663.34 86.2 663.40 80.7 663.46 83.8 663.52 84.6 663.59 83.0 663.65 86.3 663.71 84.5 663.78 83.6 663.84 83.1 663.90 85.9 663.96 84.1 664.03 95.4 664.09 104.3 664.15 109.9 664.21 123.8 664.28 128.0 664.34 129.6 664.40 128.7 664.47 133.2 664.53 131.7 664.59 130.0 664.65 127.5 664.72 113.2 664.78 100.2 664.84 95.0 664.91 89.0 664.97 89.2 665.03 89.1 665.09 87.3 665.16 88.7 665.22 92.0 665.28 89.1 665.35 91.8 665.41 89.7 665.47 95.8 665.53 99.0 665.60 109.6 665.66 118.2 665.72 124.5 665.78 127.8 665.85 130.8 665.91 134.4 665.97 137.0 666.04 131.0 666.10 130.0 666.16 129.3 666.22 112.0 666.29 95.8 666.35 85.0 666.41 79.9 666.48 80.6 666.54 79.2 666.60 79.0 666.66 78.7 666.73 78.8 666.79 83.3 666.85 82.5 666.92 80.2 666.98 87.4 667.04 92.5 667.10 105.5 667.17 114.8 667.23 123.6 667.29 130.1 667.35 128.2 667.42 131.5 667.48 132.5 667.54 129.2 667.61 130.2 667.67 125.8 667.73 113.3 667.79 96.3 667.86 88.3 667.92 86.8 667.98 81.5 668.05 85.2 668.11 84.9 668.17 85.3 668.23 85.6 668.30 85.1 668.36 84.5 668.42 84.7 668.49 90.4 668.55 96.6 668.61 104.4 668.67 113.5 668.74 123.7 668.80 127.3 668.86 130.7 668.92 131.3 668.99 132.8 669.05 132.8 669.11 133.1 669.18 122.3 669.24 107.5 669.30 81.4 669.36 70.6 669.43 66.3 669.49 69.6 669.55 69.2 669.62 71.3 669.68 67.6 669.74 71.5 669.80 67.8 669.87 70.0 669.93 70.2 669.99 76.6 670.06 81.6 670.12 93.1 670.18 111.5 670.24 120.9 670.31 126.0 670.37 128.1 670.43 130.3 670.49 132.7 670.56 132.5 670.62 128.8 670.68 122.8 670.75 109.9 670.81 89.5 670.87 75.7 670.93 72.6 671.00 72.7 671.06 73.3 671.12 75.0 671.19 74.5 671.25 74.2 671.31 73.8 671.37 74.4 671.44 75.5 671.50 80.2 671.56 86.8 671.63 97.2 671.69 110.3 671.75 118.9 671.81 125.7 671.88 128.3 671.94 133.3 672.00 132.6 672.06 134.5 672.13 133.2 672.19 126.3 672.25 113.4 672.32 89.4 672.38 80.3 672.44 73.1 672.50 78.0 672.57 75.6 672.63 75.1 672.69 74.8 672.76 72.2 672.82 75.8 672.88 72.9 672.94 79.1 673.01 81.6 673.07 87.6 673.13 99.2 673.20 113.5 673.26 123.4 673.32 127.7 673.38 130.1 673.45 133.2 673.51 135.6 673.57 135.6 673.63 133.8 673.70 126.4 673.76 113.3 673.82 90.1 673.89 79.0 673.95 76.2 674.01 76.8 674.07 78.6 674.14 78.8 674.20 78.6 674.26 77.7 674.33 77.9 674.39 80.4 674.45 81.0 674.51 83.0 674.58 88.0 674.64 101.5 674.70 114.8 674.77 120.8 674.83 127.5 674.89 132.7 674.95 135.6 675.02 133.7 675.08 136.3 675.14 135.7 675.20 129.5 675.27 114.0 675.33 99.0 675.39 89.4 675.46 85.8 675.52 86.3 675.58 89.2 675.64 88.1 675.71 87.5 675.77 88.5 675.83 86.9 675.90 88.0 675.96 90.4 676.02 91.4 676.08 96.1 676.15 105.9 676.21 118.7 676.27 125.0 676.34 131.5 676.40 130.8 676.46 131.2 676.52 135.4 676.59 133.2 676.65 135.1 676.71 127.1 676.77 111.5 676.84 98.5 676.90 89.8 676.96 88.0 677.03 89.0 677.09 91.4 677.15 88.4 677.21 88.5 677.28 85.9 677.34 86.1 677.40 87.9 677.47 90.5 677.53 92.3 677.59 101.3 677.65 108.4 677.72 115.3 677.78 124.3 677.84 129.3 677.91 130.9 677.97 134.2 678.03 135.2 678.09 136.5 678.16 137.7 678.22 127.5 678.28 119.2 678.34 98.7 678.41 91.5 678.47 86.4 678.53 87.8 678.60 86.8 678.66 86.5 678.72 86.6 678.78 87.0 678.85 89.2 678.91 88.3 678.97 89.7 679.04 92.9 679.10 98.8 679.16 108.7 679.22 116.1 679.29 124.6 679.35 129.0 679.41 131.5 679.48 134.9 679.54 135.8 679.60 136.9 679.66 137.2 679.73 132.1 679.79 115.8 679.85 100.3 679.91 90.2 679.98 87.6 680.04 90.0 680.10 89.7 680.17 86.9 680.23 87.5 680.29 89.5 680.35 90.2 680.42 85.2 680.48 88.2 680.54 93.3 680.61 98.8 680.67 105.6 680.73 119.0 680.79 125.1 680.86 132.2 680.92 133.5 680.98 135.0 681.05 134.6 681.11 136.0 681.17 135.7 681.23 127.9 681.30 116.4 681.36 95.7 681.42 87.1 681.48 87.0 681.55 84.6 681.61 84.3 681.67 81.8 681.74 83.7 681.80 86.1 681.86 85.6 681.92 87.0 681.99 89.2 682.05 91.8 682.11 92.6 682.18 109.9 682.24 118.1 682.30 123.0 682.36 129.0 682.43 134.9 682.49 135.1 682.55 136.8 682.62 137.3 682.68 135.7 682.74 131.6 682.80 119.6 682.87 97.7 682.93 88.8 682.99 85.3 683.05 87.6 683.12 86.4 683.18 87.6 683.24 84.4 683.31 85.0 683.37 86.0 683.43 85.3 683.49 88.5 683.56 92.6 683.62 95.6 683.68 105.8 683.75 118.3 683.81 128.3 683.87 130.8 683.93 133.9 684.00 138.6 684.06 138.9 684.12 136.5 684.19 137.3 684.25 136.1 684.31 121.2 684.37 103.1 684.44 91.2 684.50 89.0 684.56 89.3 684.62 89.8 684.69 89.2 684.75 90.4 684.81 89.9 684.88 91.3 684.94 93.2 685.00 94.6 685.06 96.1 685.13 103.5 685.19 116.9 685.25 130.0 685.32 138.9 685.38 147.0 685.44 151.3 685.50 153.6 685.57 153.4 685.63 151.7 685.69 151.1 685.76 145.6 685.82 133.2 685.88 114.5 685.94 102.7 686.01 104.0 686.07 101.6 686.13 101.5 686.19 102.9 686.26 103.2 686.32 102.4 686.38 103.7 686.45 102.9 686.51 106.5 686.57 107.5 686.63 112.7 686.70 121.7 686.76 135.6 686.82 145.6 686.89 149.3 686.95 148.1 687.01 151.9 687.07 157.2 687.14 197.1 687.20 153.3 687.26 145.7 687.33 132.1 687.39 114.1 687.45 104.1 687.51 100.8 687.58 101.2 687.64 106.0 687.70 100.1 687.76 100.5 687.83 101.3 687.89 102.4 687.95 105.1 688.02 104.0 688.08 107.4 688.14 187.0 688.20 123.5 688.27 135.1 688.33 142.6 688.39 148.6 688.46 150.7 688.52 155.6 688.58 154.7 688.64 151.8 688.71 155.4 688.77 147.3 688.83 133.8 688.90 117.2 688.96 112.5 689.02 104.8 689.08 105.5 689.15 106.7 689.21 108.3 689.27 105.4 689.33 105.3 689.40 104.0 689.46 109.1 689.52 109.8 689.59 112.9 689.65 117.1 689.71 127.7 689.77 140.4 689.84 146.7 689.90 151.2 689.96 150.8 690.03 153.4 690.09 151.2 690.15 156.7 690.21 151.0 690.28 150.8 690.34 133.3 690.40 118.8 690.47 109.1 690.53 105.3 690.59 103.9 690.65 103.3 690.72 105.0 690.78 104.2 690.84 104.9 690.90 106.4 690.97 105.9 691.03 104.1 691.09 107.3 691.16 115.1 691.22 126.2 691.28 135.3 691.34 146.0 691.41 149.1 691.47 150.5 691.53 152.2 691.60 153.6 691.66 155.1 691.72 150.9 691.78 146.5 691.85 129.9 691.91 106.8 691.97 93.8 692.04 92.0 692.10 93.8 692.16 94.0 692.22 91.0 692.29 94.7 692.35 94.7 692.41 93.0 692.47 91.1 692.54 99.1 692.60 103.2 692.66 107.1 692.73 120.5 692.79 131.2 692.85 140.0 692.91 145.8 692.98 147.7 693.04 153.4 693.10 152.8 693.17 153.1 693.23 153.3 693.29 145.3 693.35 127.5 693.42 110.9 693.48 98.1 693.54 94.4 693.61 92.6 693.67 95.2 693.73 92.3 693.79 93.6 693.86 95.7 693.92 92.5 693.98 92.1 694.04 97.5 694.11 98.2 694.17 105.3 694.23 120.5 694.30 130.2 694.36 140.8 694.42 145.8 694.48 150.3 694.55 152.7 694.61 156.7 694.67 153.9 694.74 150.0 694.80 148.2 694.86 129.8 694.92 107.0 694.99 96.9 695.05 89.4 695.11 89.2 695.18 92.6 695.24 91.7 695.30 90.3 695.36 91.9 695.43 90.6 695.49 93.7 695.55 92.5 695.61 97.4 695.68 105.8 695.74 117.5 695.80 133.3 695.87 140.5 695.93 145.6 695.99 146.1 696.05 152.6 696.12 151.1 696.18 153.8 696.24 150.8 696.31 147.7 696.37 125.0 696.43 102.7 696.49 89.4 696.56 87.0 696.62 88.2 696.68 87.0 696.75 87.0 696.81 88.8 696.87 86.0 696.93 85.7 697.00 84.6 697.06 90.6 697.12 91.7 697.18 99.9 697.25 114.4 697.31 127.4 697.37 139.8 697.44 144.6 697.50 152.1 697.56 152.3 697.62 155.5 697.69 157.5 697.75 154.1 697.81 146.6 697.88 129.6 697.94 104.7 698.00 92.6 698.06 83.5 698.13 89.3 698.19 89.0 698.25 84.6 698.32 86.9 698.38 90.5 698.44 88.7 698.50 89.1 698.57 88.8 698.63 95.3 698.69 102.0 698.75 114.4 698.82 131.2 698.88 141.5 698.94 150.6 699.01 149.9 699.07 154.1 699.13 152.8 699.19 154.5 699.26 154.2 699.32 147.5 699.38 127.8 699.45 107.3 699.51 97.3 699.57 93.9 699.63 93.5 699.70 92.9 699.76 90.5 699.82 93.3 699.89 94.0 699.95 95.2 700.01 92.7 700.07 96.6 700.14 97.7 700.20 107.8 700.26 117.4 700.32 133.0 700.39 139.2 700.45 148.8 700.51 150.0 700.58 151.1 700.64 149.8 700.70 154.5 700.76 154.4 700.83 144.2 700.89 123.5 700.95 92.1 701.02 81.0 701.08 72.3 701.14 76.9 701.20 71.9 701.27 73.1 701.33 73.8 701.39 73.3 701.46 75.1 701.52 74.6 701.58 76.4 701.64 82.9 701.71 91.0 701.77 105.6 701.83 125.9 701.89 135.7 701.96 147.3 702.02 150.7 702.08 150.0 702.15 149.1 702.21 153.2 702.27 152.8 702.33 147.3 702.40 130.1 702.46 105.2 702.52 97.9 702.59 90.4 702.65 92.9 702.71 94.1 702.77 91.9 702.84 92.9 702.90 92.0 702.96 90.5 703.03 92.5 703.09 92.5 703.15 96.2 703.21 103.9 703.28 117.4 703.34 133.3 703.40 141.5 703.46 146.8 703.53 149.5 703.59 151.9 703.65 153.4 703.72 155.7 703.78 152.2 703.84 145.8 703.90 131.2 703.97 108.1 704.03 96.0 704.09 94.1 704.16 92.6 704.22 92.8 704.28 90.8 704.34 94.8 704.41 94.1 704.47 93.5 704.53 95.0 704.60 94.2 704.66 103.4 704.72 108.7 704.78 117.0 704.85 132.5 704.91 143.8 704.97 147.9 705.03 151.2 705.10 153.8 705.16 153.0 705.22 154.8 705.29 153.4 705.35 146.5 705.41 130.6 705.47 110.2 705.54 101.7 705.60 97.3 705.66 98.6 705.73 96.6 705.79 99.5 705.85 95.1 705.91 97.3 705.98 97.4 706.04 96.0 706.10 96.8 706.17 103.4 706.23 109.4 706.29 121.0 706.35 131.8 706.42 141.3 706.48 146.6 706.54 152.4 706.60 153.2 706.67 157.7 706.73 157.6 706.79 154.5 706.86 150.0 706.92 133.6 706.98 117.0 707.04 111.2 707.11 103.6 707.17 103.9 707.23 100.1 707.30 107.2 707.36 101.8 707.42 103.7 707.48 102.5 707.55 103.8 707.61 105.2 707.67 108.5 707.74 117.9 707.80 124.6 707.86 138.3 707.92 142.6 707.99 149.7 708.05 152.2 708.11 156.9 708.17 155.3 708.24 156.3 708.30 154.4 708.36 150.3 708.43 139.6 708.49 123.4 708.55 116.0 708.61 109.4 708.68 113.4 708.74 109.4 708.80 112.6 708.87 110.2 708.93 111.1 708.99 110.4 709.05 112.3 709.12 111.0 709.18 115.0 709.24 119.8 709.31 130.1 709.37 138.0 709.43 147.4 709.49 151.9 709.56 149.3 709.62 152.8 709.68 156.7 709.74 155.8 709.81 154.7 709.87 150.4 709.93 136.8 710.00 117.3 710.06 114.0 710.12 110.3 710.18 108.0 710.25 107.8 710.31 109.6 710.37 108.1 710.44 111.9 710.50 109.9 710.56 110.4 710.62 109.8 710.69 114.8 710.75 119.8 710.81 127.9 710.88 138.4 710.94 145.7 711.00 151.4 711.06 153.5 711.13 156.0 711.19 157.6 711.25 155.9 711.31 155.4 711.38 150.4 711.44 141.5 711.50 122.4 711.57 114.1 711.63 110.1 711.69 109.9 711.75 108.0 711.82 110.2 711.88 109.4 711.94 113.3 712.01 110.8 712.07 110.9 712.13 110.9 712.19 113.9 712.26 120.8 712.32 129.5 712.38 137.9 712.45 146.2 712.51 149.9 712.57 153.5 712.63 155.2 712.70 152.3 712.76 157.6 712.82 156.3 712.88 153.1 712.95 135.5 713.01 117.5 713.07 111.6 713.14 105.5 713.20 106.7 713.26 108.5 713.32 105.5 713.39 104.3 713.45 106.8 713.51 108.5 713.58 104.8 713.64 110.5 713.70 109.4 713.76 116.8 713.83 125.6 713.89 137.9 713.95 145.4 714.02 151.1 714.08 150.5 714.14 152.5 714.20 155.1 714.27 154.4 714.33 152.1 714.39 146.5 714.45 137.9 714.52 120.5 714.58 112.2 714.64 110.1 714.71 109.4 714.77 111.0 714.83 108.9 714.89 111.8 714.96 114.3 715.02 111.1 715.08 111.4 715.15 113.0 715.21 116.3 715.27 121.2 715.33 131.2 715.40 139.6 715.46 146.8 715.52 149.4 715.59 153.1 715.65 157.0 715.71 156.4 715.77 157.8 715.84 154.8 715.90 154.9 715.96 141.6 716.02 125.4 716.09 115.0 716.15 112.9 716.21 111.8 716.28 115.2 716.34 108.4 716.40 112.0 716.46 112.0 716.53 110.5 716.59 111.1 716.65 112.6 716.72 119.3 716.78 122.6 716.84 130.0 716.90 140.1 716.97 148.6 717.03 150.2 717.09 157.1 717.16 155.1 717.22 159.3 717.28 156.1 717.34 156.6 717.41 152.0 717.47 139.3 717.53 121.2 717.59 116.9 717.66 112.0 717.72 111.1 717.78 111.9 717.85 111.8 717.91 112.2 717.97 112.3 718.03 111.1 718.10 112.9 718.16 117.1 718.22 117.9 718.29 125.3 718.35 131.2 718.41 138.3 718.47 148.8 718.54 151.2 718.60 152.6 718.66 155.0 718.73 154.1 718.79 155.7 718.85 155.6 718.91 149.7 718.98 134.5 719.04 115.1 719.10 104.7 719.16 105.1 719.23 100.4 719.29 102.8 719.35 104.5 719.42 101.7 719.48 104.2 719.54 103.5 719.60 106.5 719.67 106.6 719.73 110.8 719.79 115.6 719.86 127.0 719.92 136.3 719.98 145.5 720.04 151.6 720.11 155.7 720.17 155.6 720.23 159.2 720.30 155.8 720.36 157.4 720.42 147.3 720.48 136.2 720.55 120.7 720.61 113.9 720.67 109.9 720.73 112.5 720.80 109.6 720.86 111.1 720.92 107.5 720.99 109.8 721.05 110.5 721.11 111.0 721.17 111.0 721.24 112.6 721.30 122.1 721.36 129.2 721.43 141.4 721.49 147.7 721.55 149.7 721.61 153.7 721.68 155.3 721.74 156.7 721.80 158.4 721.87 157.7 721.93 151.6 721.99 137.8 722.05 118.7 722.12 110.8 722.18 106.7 722.24 106.2 722.30 104.1 722.37 104.8 722.43 107.2 722.49 108.9 722.56 106.0 722.62 106.5 722.68 109.3 722.74 109.7 722.81 118.5 722.87 129.8 722.93 138.2 723.00 147.6 723.06 153.8 723.12 153.4 723.18 157.2 723.25 158.3 723.31 157.0 723.37 157.1 723.44 152.0 723.50 136.8 723.56 120.4 723.62 112.1 723.69 107.4 723.75 109.2 723.81 111.4 723.87 109.2 723.94 111.2 724.00 110.6 724.06 110.1 724.13 110.4 724.19 112.2 724.25 112.3 724.31 120.5 724.38 128.4 724.44 138.2 724.50 146.5 724.57 151.4 724.63 154.4 724.69 157.0 724.75 158.0 724.82 155.9 724.88 156.1 724.94 150.5 725.01 134.3 725.07 116.1 725.13 103.3 725.19 99.3 725.26 99.6 725.32 97.9 725.38 98.4 725.44 100.4 725.51 102.4 725.57 99.9 725.63 105.4 725.70 102.9 725.76 104.8 725.82 112.8 725.88 127.4 725.95 136.3 726.01 146.6 726.07 151.5 726.14 155.1 726.20 152.6 726.26 161.0 726.32 157.1 726.39 158.8 726.45 153.2 726.51 138.4 726.58 116.7 726.64 105.0 726.70 101.5 726.76 101.4 726.83 101.7 726.89 104.1 726.95 99.2 727.01 101.7 727.08 105.0 727.14 104.1 727.20 104.7 727.27 106.9 727.33 111.7 727.39 127.5 727.45 138.1 727.52 147.4 727.58 153.5 727.64 154.4 727.71 155.6 727.77 159.2 727.83 155.8 727.89 159.4 727.96 151.7 728.02 133.2 728.08 112.1 728.15 102.3 728.21 97.2 728.27 96.7 728.33 96.0 728.40 97.6 728.46 94.7 728.52 96.2 728.58 97.3 728.65 100.3 728.71 98.9 728.77 104.0 728.84 110.0 728.90 121.5 728.96 141.9 729.02 147.7 729.09 154.3 729.15 160.4 729.21 163.9 729.28 161.1 729.34 162.9 729.40 162.4 729.46 154.7 729.53 136.0 729.59 116.0 729.65 103.6 729.72 100.9 729.78 101.3 729.84 99.6 729.90 102.7 729.97 100.1 730.03 98.6 730.09 98.8 730.15 101.4 730.22 103.4 730.28 106.0 730.34 111.5 730.41 128.9 730.47 140.2 730.53 153.5 730.59 157.4 730.66 160.1 730.72 162.5 730.78 163.2 730.85 162.5 730.91 160.1 730.97 151.8 731.03 128.6 731.10 100.5 731.16 85.1 731.22 81.4 731.29 77.7 731.35 79.2 731.41 79.3 731.47 82.5 731.54 82.0 731.60 79.9 731.66 79.7 731.72 84.9 731.79 88.9 731.85 97.9 731.91 115.9 731.98 133.9 732.04 146.7 732.10 154.7 732.16 157.1 732.23 163.8 732.29 163.8 732.35 162.4 732.42 161.4 732.48 157.3 732.54 140.5 732.60 116.1 732.67 102.9 732.73 100.5 732.79 98.1 732.86 98.1 732.92 100.2 732.98 99.9 733.04 100.1 733.11 99.3 733.17 101.2 733.23 100.5 733.29 106.0 733.36 109.0 733.42 126.1 733.48 139.2 733.55 150.8 733.61 157.5 733.67 160.4 733.73 161.9 733.80 164.4 733.86 165.1 733.92 161.1 733.99 154.2 734.05 136.8 734.11 114.0 734.17 103.7 734.24 94.7 734.30 98.8 734.36 100.0 734.43 95.9 734.49 96.2 734.55 96.2 734.61 97.9 734.68 100.1 734.74 98.4 734.80 105.0 734.86 112.0 734.93 124.2 734.99 138.3 735.05 150.6 735.12 156.8 735.18 160.9 735.24 161.4 735.30 162.9 735.37 164.9 735.43 162.6 735.49 155.1 735.56 135.2 735.62 111.4 735.68 98.9 735.74 94.7 735.81 94.2 735.87 94.4 735.93 95.6 736.00 94.0 736.06 94.2 736.12 94.3 736.18 96.3 736.25 96.9 736.31 103.0 736.37 107.7 736.43 123.5 736.50 138.4 736.56 146.6 736.62 156.9 736.69 158.7 736.75 160.9 736.81 161.9 736.87 163.8 736.94 160.4 737.00 157.7 737.06 134.8 737.13 112.7 737.19 103.0 737.25 97.7 737.31 95.8 737.38 99.2 737.44 100.6 737.50 98.4 737.57 100.7 737.63 98.4 737.69 98.8 737.75 102.4 737.82 106.5 737.88 111.5 737.94 125.1 738.00 138.1 738.07 149.9 738.13 158.7 738.19 162.0 738.26 164.5 738.32 163.3 738.38 166.4 738.44 164.8 738.51 156.5 738.57 143.1 738.63 119.9 738.70 115.5 738.76 109.7 738.82 107.0 738.88 105.7 738.95 107.0 739.01 107.7 739.07 108.2 739.14 107.6 739.20 110.3 739.26 107.6 739.32 115.1 739.39 118.5 739.45 130.8 739.51 145.6 739.57 153.8 739.64 157.6 739.70 160.1 739.76 163.8 739.83 165.6 739.89 165.6 739.95 162.4 740.01 158.4 740.08 144.2 740.14 125.2 740.20 113.2 740.27 110.6 740.33 108.9 740.39 110.4 740.45 110.6 740.52 109.6 740.58 110.0 740.64 111.4 740.71 112.7 740.77 112.7 740.83 118.9 740.89 121.6 740.96 134.8 741.02 146.7 741.08 154.8 741.14 159.7 741.21 158.3 741.27 161.1 741.33 162.4 741.40 163.1 741.46 163.4 741.52 156.7 741.58 147.4 741.65 131.4 741.71 125.4 741.77 119.6 741.84 122.3 741.90 122.1 741.96 118.6 742.02 121.1 742.09 123.2 742.15 120.4 742.21 123.0 742.28 123.0 742.34 125.9 742.40 130.2 742.46 137.4 742.53 148.8 742.59 153.3 742.65 160.4 742.71 156.7 742.78 159.0 742.84 164.2 742.90 162.3 742.97 162.0 743.03 154.4 743.09 141.6 743.15 125.5 743.22 118.1 743.28 110.1 743.34 113.1 743.41 114.3 743.47 110.3 743.53 112.4 743.59 114.6 743.66 113.0 743.72 114.8 743.78 112.5 743.85 117.6 743.91 122.8 743.97 130.5 744.03 145.8 744.10 149.0 744.16 158.0 744.22 163.2 744.28 163.0 744.35 165.2 744.41 167.8 744.47 166.3 744.54 158.2 744.60 143.9 744.66 125.6 744.72 114.9 744.79 109.7 744.85 113.1 744.91 113.6 744.98 112.5 745.04 112.8 745.10 111.5 745.16 111.1 745.23 115.0 745.29 112.5 745.35 116.7 745.42 124.9 745.48 133.8 745.54 142.9 745.60 156.9 745.67 158.1 745.73 161.3 745.79 166.2 745.85 167.2 745.92 163.8 745.98 164.3 746.04 157.0 746.11 140.6 746.17 124.0 746.23 114.2 746.29 111.4 746.36 111.8 746.42 111.6 746.48 111.8 746.55 112.7 746.61 111.4 746.67 112.0 746.73 111.6 746.80 115.0 746.86 116.5 746.92 122.6 746.99 132.6 747.05 144.9 747.11 154.7 747.17 160.0 747.24 161.9 747.30 162.4 747.36 165.9 747.42 164.5 747.49 162.0 747.55 156.8 747.61 142.5 747.68 125.6 747.74 117.4 747.80 110.1 747.86 113.3 747.93 112.6 747.99 111.9 748.05 113.0 748.12 111.8 748.18 114.2 748.24 111.9 748.30 113.5 748.37 117.5 748.43 122.4 748.49 132.6 748.56 146.4 748.62 153.3 748.68 156.7 748.74 165.4 748.81 164.0 748.87 166.5 748.93 163.5 748.99 163.1 749.06 158.8 749.12 146.2 749.18 128.2 749.25 117.4 749.31 115.5 749.37 117.5 749.43 114.0 749.50 115.7 749.56 113.7 749.62 115.8 749.69 119.0 749.75 118.6 749.81 117.2 749.87 123.9 749.94 126.0 750.00 137.2 750.06 148.6 750.13 153.5 750.19 159.1 750.25 161.7 750.31 163.4 750.38 166.6 750.44 165.6 750.50 163.6 750.56 161.9 750.63 144.6 750.69 127.5 750.75 117.3 750.82 118.7 750.88 114.5 750.94 115.1 751.00 117.4 751.07 115.8 751.13 116.0 751.19 119.3 751.26 117.9 751.32 117.4 751.38 121.6 751.44 126.6 751.51 138.7 751.57 147.9 751.63 154.3 751.70 160.5 751.76 162.9 751.82 167.2 751.88 166.7 751.95 163.6 752.01 164.2 752.07 160.3 752.13 147.6 752.20 132.0 752.26 122.0 752.32 120.6 752.39 119.2 752.45 118.0 752.51 119.2 752.57 118.0 752.64 118.2 752.70 117.9 752.76 118.5 752.83 118.6 752.89 125.5 752.95 130.3 753.01 139.9 753.08 149.0 753.14 153.1 753.20 162.3 753.27 160.7 753.33 164.0 753.39 162.5 753.45 161.8 753.52 164.4 753.58 162.9 753.64 142.1 753.70 129.1 753.77 121.6 753.83 118.0 753.89 115.8 753.96 113.9 754.02 116.3 754.08 117.9 754.14 117.5 754.21 118.6 754.27 119.5 754.33 116.0 754.40 122.8 754.46 128.9 754.52 136.4 754.58 146.2 754.65 154.9 754.71 159.2 754.77 160.6 754.84 163.7 754.90 166.2 754.96 163.8 755.02 163.7 755.09 157.1 755.15 144.4 755.21 127.5 755.27 118.9 755.34 115.8 755.40 116.0 755.46 116.1 755.53 115.3 755.59 118.6 755.65 116.7 755.71 116.0 755.78 114.4 755.84 116.8 755.90 119.4 755.97 126.5 756.03 137.4 756.09 146.0 756.15 154.0 756.22 159.7 756.28 162.9 756.34 164.9 756.41 168.4 756.47 166.3 756.53 164.4 756.59 161.2 756.66 145.9 756.72 126.8 756.78 115.8 756.84 114.2 756.91 116.0 756.97 114.8 757.03 115.3 757.10 112.3 757.16 114.7 757.22 115.5 757.28 115.6 757.35 118.7 757.41 120.4 757.47 123.6 757.54 133.9 757.60 146.6 757.66 155.4 757.72 161.8 757.79 163.2 757.85 166.5 757.91 163.8 757.98 165.2 758.04 165.0 758.10 158.5 758.16 146.6 758.23 130.0 758.29 119.7 758.35 116.5 758.41 116.1 758.48 117.9 758.54 115.8 758.60 115.6 758.67 121.3 758.73 116.9 758.79 119.9 758.85 120.3 758.92 124.3 758.98 126.7 759.04 136.1 759.11 146.8 759.17 156.8 759.23 161.6 759.29 162.3 759.36 164.3 759.42 170.2 759.48 165.4 759.55 166.3 759.61 159.1 759.67 147.2 759.73 131.5 759.80 120.3 759.86 118.4 759.92 118.0 759.98 118.6 760.05 116.3 760.11 116.4 760.17 119.2 760.24 115.8 760.30 119.8 760.36 119.8 760.42 124.4 760.49 126.1 760.55 138.2 760.61 148.5 760.68 157.2 760.74 161.1 760.80 161.2 760.86 165.9 760.93 165.8 760.99 167.0 761.05 166.6 761.12 158.7 761.18 144.3 761.24 127.0 761.30 116.1 761.37 112.7 761.43 113.2 761.49 112.7 761.55 112.7 761.62 115.3 761.68 116.2 761.74 114.7 761.81 113.3 761.87 116.6 761.93 118.8 761.99 125.2 762.06 135.6 762.12 148.5 762.18 155.7 762.25 158.7 762.31 163.6 762.37 161.9 762.43 163.3 762.50 162.0 762.56 165.2 762.62 158.9 762.69 140.5 762.75 117.3 762.81 106.9 762.87 104.4 762.94 100.7 763.00 103.5 763.06 104.5 763.12 102.4 763.19 105.5 763.25 102.8 763.31 105.0 763.38 103.0 763.44 110.1 763.50 117.9 763.56 129.1 763.63 142.2 763.69 153.5 763.75 159.4 763.82 163.9 763.88 167.5 763.94 166.2 764.00 169.1 764.07 164.7 764.13 161.6 764.19 150.7 764.26 132.8 764.32 123.4 764.38 118.7 764.44 120.7 764.51 119.7 764.57 121.8 764.63 120.3 764.69 123.5 764.76 121.3 764.82 123.7 764.88 120.5 764.95 126.4 765.01 133.8 765.07 139.6 765.13 148.6 765.20 156.4 765.26 163.4 765.32 164.3 765.39 165.6 765.45 167.7 765.51 166.7 765.57 165.0 765.64 159.4 765.70 146.6 765.76 130.8 765.83 120.5 765.89 120.8 765.95 118.6 766.01 119.1 766.08 116.3 766.14 119.0 766.20 119.4 766.26 120.3 766.33 120.6 766.39 119.3 766.45 124.0 766.52 125.9 766.58 136.5 766.64 149.4 766.70 158.8 766.77 161.2 766.83 160.7 766.89 163.8 766.96 165.8 767.02 167.2 767.08 162.0 767.14 157.9 767.21 143.2 767.27 127.1 767.33 115.1 767.40 110.8 767.46 111.5 767.52 113.8 767.58 112.7 767.65 112.0 767.71 110.4 767.77 111.5 767.83 109.9 767.90 112.6 767.96 116.3 768.02 126.4 768.09 136.0 768.15 147.8 768.21 153.5 768.27 156.7 768.34 166.2 768.40 164.1 768.46 164.5 768.53 163.6 768.59 161.9 768.65 160.8 768.71 147.6 768.78 125.8 768.84 118.2 768.90 112.9 768.97 114.3 769.03 113.5 769.09 111.8 769.15 113.0 769.22 114.6 769.28 115.4 769.34 113.0 769.40 117.8 769.47 119.2 769.53 125.1 769.59 134.9 769.66 148.2 769.72 158.2 769.78 159.3 769.84 163.0 769.91 166.7 769.97 163.5 770.03 163.3 770.10 163.3 770.16 158.8 770.22 146.2 770.28 120.2 770.35 113.3 770.41 110.0 770.47 110.8 770.54 110.1 770.60 110.1 770.66 109.5 770.72 110.1 770.79 108.5 770.85 112.8 770.91 110.7 770.97 118.3 771.04 122.6 771.10 133.0 771.16 144.8 771.23 152.5 771.29 159.5 771.35 164.8 771.41 164.6 771.48 166.3 771.54 167.0 771.60 166.0 771.67 156.4 771.73 143.6 771.79 125.5 771.85 115.6 771.92 110.5 771.98 110.5 772.04 107.6 772.11 110.5 772.17 110.3 772.23 108.7 772.29 112.8 772.36 108.6 772.42 111.4 772.48 114.8 772.54 123.0 772.61 130.8 772.67 147.6 772.73 155.9 772.80 161.7 772.86 159.8 772.92 161.1 772.98 163.9 773.05 165.5 773.11 165.0 773.17 156.3 773.24 144.0 773.30 124.3 773.36 113.3 773.42 110.4 773.49 111.2 773.55 113.8 773.61 112.3 773.68 113.7 773.74 114.8 773.80 113.7 773.86 112.9 773.93 115.2 773.99 119.9 774.05 122.4 774.11 132.1 774.18 146.7 774.24 159.4 774.30 160.3 774.37 162.7 774.43 167.6 774.49 166.5 774.55 165.2 774.62 165.4 774.68 159.6 774.74 146.0 774.81 130.8 774.87 119.1 774.93 113.2 774.99 118.2 775.06 116.9 775.12 115.1 775.18 114.3 775.25 118.4 775.31 114.4 775.37 116.3 775.43 120.8 775.50 122.3 775.56 126.7 775.62 139.3 775.68 145.8 775.75 153.3 775.81 161.8 775.87 164.1 775.94 166.3 776.00 165.9 776.06 167.8 776.12 164.2 776.19 160.6 776.25 148.9 776.31 131.7 776.38 124.8 776.44 118.2 776.50 121.9 776.56 120.5 776.63 120.1 776.69 119.1 776.75 121.4 776.82 125.7 776.88 118.9 776.94 122.1 777.00 125.0 777.07 132.8 777.13 138.1 777.19 148.3 777.25 155.0 777.32 162.5 777.38 163.0 777.44 165.2 777.51 167.0 777.57 165.0 777.63 166.7 777.69 160.7 777.76 147.0 777.82 126.1 777.88 117.3 777.95 113.7 778.01 115.8 778.07 113.7 778.13 116.8 778.20 115.0 778.26 116.3 778.32 115.8 778.39 116.1 778.45 115.5 778.51 122.8 778.57 127.5 778.64 132.8 778.70 147.5 778.76 153.1 778.82 159.0 778.89 165.3 778.95 164.1 779.01 168.0 779.08 166.1 779.14 167.3 779.20 159.6 779.26 145.8 779.33 130.4 779.39 120.4 779.45 116.9 779.52 114.5 779.58 119.8 779.64 113.6 779.70 115.1 779.77 115.8 779.83 117.0 779.89 117.5 779.96 116.6 780.02 118.6 780.08 124.5 780.14 136.9 780.21 148.7 780.27 155.9 780.33 158.5 780.39 161.2 780.46 165.3 780.52 164.4 780.58 167.8 780.65 162.9 780.71 158.9 780.77 146.2 780.83 122.8 780.90 114.2 780.96 112.5 781.02 111.0 781.09 110.8 781.15 115.0 781.21 110.0 781.27 110.4 781.34 110.7 781.40 110.1 781.46 113.7 781.53 117.1 781.59 121.4 781.65 135.2 781.71 147.8 781.78 155.4 781.84 164.9 781.90 159.3 781.96 162.9 782.03 163.9 782.09 163.6 782.15 161.5 782.22 158.9 782.28 141.9 782.34 121.2 782.40 109.9 782.47 106.7 782.53 104.3 782.59 108.7 782.66 108.5 782.72 108.1 782.78 106.1 782.84 107.0 782.91 104.9 782.97 109.3 783.03 114.3 783.10 119.0 783.16 130.2 783.22 144.4 783.28 154.4 783.35 155.6 783.41 164.6 783.47 164.6 783.53 168.2 783.60 167.6 783.66 163.1 783.72 156.6 783.79 146.4 783.85 128.5 783.91 116.1 783.97 112.3 784.04 117.3 784.10 114.9 784.16 114.4 784.23 111.7 784.29 117.1 784.35 115.8 784.41 115.6 784.48 118.7 784.54 118.8 784.60 127.3 784.67 136.3 784.73 147.6 784.79 155.6 784.85 162.0 784.92 164.0 784.98 165.0 785.04 165.0 785.10 165.9 785.17 167.7 785.23 162.5 785.29 147.0 785.36 135.7 785.42 122.4 785.48 115.6 785.54 121.2 785.61 121.0 785.67 118.0 785.73 117.7 785.80 122.5 785.86 118.6 785.92 122.2 785.98 122.6 786.05 125.9 786.11 132.1 786.17 139.9 786.24 152.0 786.30 156.8 786.36 160.3 786.42 167.0 786.49 163.6 786.55 166.5 786.61 169.5 786.67 165.1 786.74 159.3 786.80 147.4 786.86 131.5 786.93 123.8 786.99 117.5 787.05 116.9 787.11 117.8 787.18 118.4 787.24 119.3 787.30 112.5 787.37 117.2 787.43 119.1 787.49 119.8 787.55 121.8 787.62 128.0 787.68 138.8 787.74 147.3 787.81 156.9 787.87 159.2 787.93 162.9 787.99 168.9 788.06 166.2 788.12 169.2 788.18 165.4 788.24 160.5 788.31 147.8 788.37 129.3 788.43 118.6 788.50 117.1 788.56 118.6 788.62 119.0 788.68 117.1 788.75 117.4 788.81 118.5 788.87 115.0 788.94 118.4 789.00 118.7 789.06 117.1 789.12 127.3 789.19 140.3 789.25 152.6 789.31 158.2 789.38 166.4 789.44 160.6 789.50 165.0 789.56 165.1 789.63 162.4 789.69 163.5 789.75 160.2 789.81 147.0 789.88 127.7 789.94 120.3 790.00 115.9 790.07 113.6 790.13 117.5 790.19 116.2 790.25 115.6 790.32 119.6 790.38 119.9 790.44 116.9 790.51 116.3 790.57 119.9 790.63 124.0 790.69 137.5 790.76 150.6 790.82 154.0 790.88 159.6 790.95 162.2 791.01 161.9 791.07 164.7 791.13 162.8 791.20 163.9 791.26 160.5 791.32 142.9 791.38 129.4 791.45 116.2 791.51 114.6 791.57 113.1 791.64 115.1 791.70 114.0 791.76 116.3 791.82 114.3 791.89 113.6 791.95 115.2 792.01 116.2 792.08 118.7 792.14 123.1 792.20 134.3 792.26 147.2 792.33 155.4 792.39 158.1 792.45 166.1 792.52 164.5 792.58 167.8 792.64 166.5 792.70 169.1 792.77 159.3 792.83 145.5 792.89 130.1 792.95 115.1 793.02 113.5 793.08 115.5 793.14 116.6 793.21 114.0 793.27 112.6 793.33 116.5 793.39 117.2 793.46 119.6 793.52 118.0 793.58 118.4 793.65 127.2 793.71 135.3 793.77 147.6 793.83 157.5 793.90 162.8 793.96 162.4 794.02 164.2 794.09 165.8 794.15 166.7 794.21 166.2 794.27 159.8 794.34 150.6 794.40 134.1 794.46 125.4 794.52 122.9 794.59 124.8 794.65 124.5 794.71 122.3 794.78 123.2 794.84 125.4 794.90 122.1 794.96 124.8 795.03 125.6 795.09 126.0 795.15 130.4 795.22 142.4 795.28 151.5 795.34 156.9 795.40 161.1 795.47 159.4 795.53 163.5 795.59 165.6 795.66 165.8 795.72 162.5 795.78 158.1 795.84 140.3 795.91 116.3 795.97 106.3 796.03 100.0 796.09 103.7 796.16 104.0 796.22 99.5 796.28 102.1 796.35 100.9 796.41 100.3 796.47 101.7 796.53 104.3 796.60 105.3 796.66 117.0 796.72 129.8 796.79 141.0 796.85 151.6 796.91 158.6 796.97 163.0 797.04 165.4 797.10 165.2 797.16 164.5 797.23 166.4 797.29 160.8 797.35 146.9 797.41 128.2 797.48 120.4 797.54 117.8 797.60 117.8 797.66 117.6 797.73 119.0 797.79 117.8 797.85 118.9 797.92 116.5 797.98 116.6 798.04 119.1 798.10 122.7 798.17 126.6 798.23 135.7 798.29 148.0 798.36 154.7 798.42 162.1 798.48 164.3 798.54 165.6 798.61 168.6 798.67 165.6 798.73 165.0 798.80 159.1 798.86 146.8 798.92 123.7 798.98 115.9 799.05 113.2 799.11 113.3 799.17 109.6 799.23 113.6 799.30 111.5 799.36 113.1 799.42 112.6 799.49 115.6 799.55 114.9 799.61 119.1 799.67 123.7 799.74 135.2 799.80 145.2 799.86 155.2 799.93 160.7 799.99 164.7 800.05 168.7 800.11 169.0 800.18 165.2 800.24 165.1 800.30 160.6 800.37 145.8 800.43 127.1 800.49 114.6 800.55 114.3 800.62 113.6 800.68 112.4 800.74 111.4 800.80 112.2 800.87 110.0 800.93 114.3 800.99 112.0 801.06 113.9 801.12 116.7 801.18 123.5 801.24 134.6 801.31 147.5 801.37 155.2 801.43 160.0 801.50 165.4 801.56 164.9 801.62 169.8 801.68 170.1 801.75 165.9 801.81 160.2 801.87 146.5 801.94 129.0 802.00 116.0 802.06 111.8 802.12 114.9 802.19 114.5 802.25 114.4 802.31 112.4 802.37 111.2 802.44 112.8 802.50 115.6 802.56 113.4 802.63 120.1 802.69 125.9 802.75 137.1 802.81 149.5 802.88 158.9 802.94 161.7 803.00 163.9 803.07 165.7 803.13 168.2 803.19 170.3 803.25 165.6 803.32 160.2 803.38 143.7 803.44 128.1 803.51 117.7 803.57 114.6 803.63 112.7 803.69 113.3 803.76 110.1 803.82 111.5 803.88 114.5 803.94 113.0 804.01 115.9 804.07 115.4 804.13 118.4 804.20 124.8 804.26 133.5 804.32 146.2 804.38 158.3 804.45 164.8 804.51 164.8 804.57 168.7 804.64 168.2 804.70 167.6 804.76 166.0 804.82 164.6 804.89 148.1 804.95 134.8 805.01 126.6 805.08 123.7 805.14 124.0 805.20 124.9 805.26 121.8 805.33 124.7 805.39 123.0 805.45 124.2 805.51 125.5 805.58 123.4 805.64 127.3 805.70 133.3 805.77 142.8 805.83 150.8 805.89 158.3 805.95 164.0 806.02 163.8 806.08 164.9 806.14 163.7 806.21 167.4 806.27 165.7 806.33 159.0 806.39 147.7 806.46 130.8 806.52 123.0 806.58 119.5 806.65 116.6 806.71 120.4 806.77 118.7 806.83 117.3 806.90 117.8 806.96 118.4 807.02 120.0 807.08 118.5 807.15 122.0 807.21 127.9 807.27 137.7 807.34 149.3 807.40 156.8 807.46 161.5 807.52 162.3 807.59 163.7 807.65 166.9 807.71 166.4 807.78 165.3 807.84 161.8 807.90 145.2 807.96 125.9 808.03 116.1 808.09 112.7 808.15 114.5 808.22 109.7 808.28 113.3 808.34 110.9 808.40 115.6 808.47 113.5 808.53 113.4 808.59 113.3 808.65 116.7 808.72 125.3 808.78 135.5 808.84 148.5 808.91 155.3 808.97 161.6 809.03 164.6 809.09 164.9 809.16 169.0 809.22 167.4 809.28 166.9 809.35 159.9 809.41 144.2 809.47 127.0 809.53 112.0 809.60 110.8 809.66 110.5 809.72 110.1 809.79 110.8 809.85 110.6 809.91 111.6 809.97 113.5 810.04 110.2 810.10 111.1 810.16 116.6 810.22 122.5 810.29 133.8 810.35 147.3 810.41 155.2 810.48 164.8 810.54 165.0 810.60 164.5 810.66 166.2 810.73 168.3 810.79 165.3 810.85 158.3 810.92 144.1 810.98 123.9 811.04 115.4 811.10 108.5 811.17 110.9 811.23 109.9 811.29 108.4 811.36 110.5 811.42 109.8 811.48 111.2 811.54 109.8 811.61 113.2 811.67 114.9 811.73 123.1 811.79 132.7 811.86 145.8 811.92 156.4 811.98 160.4 812.05 165.8 812.11 164.6 812.17 165.4 812.23 166.6 812.30 165.4 812.36 160.7 812.42 142.2 812.49 125.1 812.55 114.0 812.61 109.5 812.67 109.7 812.74 110.1 812.80 114.0 812.86 105.9 812.93 111.1 812.99 112.2 813.05 113.4 813.11 113.5 813.18 116.6 813.24 122.9 813.30 134.0 813.36 143.5 813.43 153.7 813.49 160.4 813.55 159.0 813.62 164.6 813.68 166.5 813.74 163.5 813.80 165.7 813.87 161.5 813.93 143.9 813.99 123.9 814.06 114.1 814.12 112.7 814.18 113.9 814.24 112.4 814.31 112.6 814.37 111.9 814.43 111.4 814.50 109.7 814.56 114.5 814.62 113.8 814.68 117.6 814.75 124.1 814.81 134.0 814.87 146.1 814.93 156.6 815.00 159.1 815.06 161.8 815.12 163.8 815.19 165.1 815.25 167.4 815.31 162.5 815.37 159.8 815.44 147.5"/></defs>
<use href="#fc1" stroke="#ff0a0a" stroke-width="1.5" stroke-opacity="0.3"/>
<use href="#fc1" stroke="#ff0a0a" stroke-width="1.5" stroke-opacity="0.9" stroke-dasharray="6 2"/>
<rect x="501.5" y="16" width="314" height="210" fill="url(#pat1)" fill-opacity="0.72" clip-path="url(#clp1)"/>
<use href="#dat" transform="translate(382 0)" stroke="#3a1ad0" stroke-opacity="0.2" stroke-width="1.5" stroke-dasharray="2.5 10"/>
<path d="M601.16 133.0V174.8M608.70 132.4V152.2M641.86 133.0V197.0M641.86 133.0V216.0M652.41 136.3V222.8M687.07 159.3V201.5" stroke="#2222a8" stroke-width="1.5"/>
<rect x="502.0" y="17" width="313" height="208" fill="url(#strp)" fill-opacity="0.12"/>
</g>
<path d="M182.30 225.8v-4M182.30 16.5v4M245.10 225.8v-4M245.10 16.5v4M307.90 225.8v-4M307.90 16.5v4M370.70 225.8v-4M370.70 16.5v4M119.5 202.54h4M433.5 202.54h-4M119.5 179.29h4M433.5 179.29h-4M119.5 156.03h4M433.5 156.03h-4M119.5 132.78h4M433.5 132.78h-4M119.5 109.52h4M433.5 109.52h-4M119.5 86.27h4M433.5 86.27h-4M119.5 63.01h4M433.5 63.01h-4M119.5 39.76h4M433.5 39.76h-4" stroke="#000" stroke-width="0.9" fill="none"/>
<rect x="119.5" y="16.5" width="314.0" height="209.3" fill="none" stroke="#000" stroke-width="1"/>
<text x="115.5" y="229.1" text-anchor="end" class="tk" textLength="11.0" lengthAdjust="spacingAndGlyphs">20</text>
<text x="115.5" y="205.8" text-anchor="end" class="tk" textLength="11.0" lengthAdjust="spacingAndGlyphs">40</text>
<text x="115.5" y="182.6" text-anchor="end" class="tk" textLength="11.0" lengthAdjust="spacingAndGlyphs">60</text>
<text x="115.5" y="159.3" text-anchor="end" class="tk" textLength="11.0" lengthAdjust="spacingAndGlyphs">80</text>
<text x="115.5" y="136.1" text-anchor="end" class="tk" textLength="16.5" lengthAdjust="spacingAndGlyphs">100</text>
<text x="115.5" y="112.8" text-anchor="end" class="tk" textLength="16.5" lengthAdjust="spacingAndGlyphs">120</text>
<text x="115.5" y="89.6" text-anchor="end" class="tk" textLength="16.5" lengthAdjust="spacingAndGlyphs">140</text>
<text x="115.5" y="66.3" text-anchor="end" class="tk" textLength="16.5" lengthAdjust="spacingAndGlyphs">160</text>
<text x="115.5" y="43.1" text-anchor="end" class="tk" textLength="16.5" lengthAdjust="spacingAndGlyphs">180</text>
<text x="115.5" y="19.8" text-anchor="end" class="tk" textLength="16.5" lengthAdjust="spacingAndGlyphs">200</text>
<text x="119.5" y="236.8" text-anchor="middle" class="tk" textLength="5.6" lengthAdjust="spacingAndGlyphs">0</text>
<text x="182.3" y="236.8" text-anchor="middle" class="tk" textLength="22.4" lengthAdjust="spacingAndGlyphs">1000</text>
<text x="245.1" y="236.8" text-anchor="middle" class="tk" textLength="22.4" lengthAdjust="spacingAndGlyphs">2000</text>
<text x="307.9" y="236.8" text-anchor="middle" class="tk" textLength="22.4" lengthAdjust="spacingAndGlyphs">3000</text>
<text x="370.7" y="236.8" text-anchor="middle" class="tk" textLength="22.4" lengthAdjust="spacingAndGlyphs">4000</text>
<text x="433.5" y="236.8" text-anchor="middle" class="tk" textLength="22.4" lengthAdjust="spacingAndGlyphs">5000</text>
<text x="89.5" y="121" class="al" text-anchor="middle" transform="rotate(-90 89.5 121)" textLength="190" lengthAdjust="spacingAndGlyphs">Electricity Consumption(kwh)</text>
<text x="275.5" y="253.2" class="al" text-anchor="middle" textLength="78.7" lengthAdjust="spacingAndGlyphs">Time(hours)</text>
<rect x="341.5" y="22.5" width="86" height="36.2" fill="#fff" stroke="#111" stroke-width="1"/>
<path d="M349.0 31.4h17.2" stroke="#1c1c60" stroke-width="1.3"/>
<path d="M349.0 47.9h17.2" stroke="#b89494" stroke-width="1.6" stroke-dasharray="6.3 4.9"/>
<text x="378.5" y="35.2" class="lg" textLength="23.7" lengthAdjust="spacingAndGlyphs">data</text>
<text x="378.5" y="51.8" class="lg" textLength="44.8" lengthAdjust="spacingAndGlyphs">forecast</text>
<path d="M564.30 225.8v-4M564.30 16.5v4M627.10 225.8v-4M627.10 16.5v4M689.90 225.8v-4M689.90 16.5v4M752.70 225.8v-4M752.70 16.5v4M501.5 202.54h4M815.5 202.54h-4M501.5 179.29h4M815.5 179.29h-4M501.5 156.03h4M815.5 156.03h-4M501.5 132.78h4M815.5 132.78h-4M501.5 109.52h4M815.5 109.52h-4M501.5 86.27h4M815.5 86.27h-4M501.5 63.01h4M815.5 63.01h-4M501.5 39.76h4M815.5 39.76h-4" stroke="#000" stroke-width="0.9" fill="none"/>
<rect x="501.5" y="16.5" width="314.0" height="209.3" fill="none" stroke="#000" stroke-width="1"/>
<text x="497.5" y="229.1" text-anchor="end" class="tk" textLength="11.0" lengthAdjust="spacingAndGlyphs">20</text>
<text x="497.5" y="205.8" text-anchor="end" class="tk" textLength="11.0" lengthAdjust="spacingAndGlyphs">40</text>
<text x="497.5" y="182.6" text-anchor="end" class="tk" textLength="11.0" lengthAdjust="spacingAndGlyphs">60</text>
<text x="497.5" y="159.3" text-anchor="end" class="tk" textLength="11.0" lengthAdjust="spacingAndGlyphs">80</text>
<text x="497.5" y="136.1" text-anchor="end" class="tk" textLength="16.5" lengthAdjust="spacingAndGlyphs">100</text>
<text x="497.5" y="112.8" text-anchor="end" class="tk" textLength="16.5" lengthAdjust="spacingAndGlyphs">120</text>
<text x="497.5" y="89.6" text-anchor="end" class="tk" textLength="16.5" lengthAdjust="spacingAndGlyphs">140</text>
<text x="497.5" y="66.3" text-anchor="end" class="tk" textLength="16.5" lengthAdjust="spacingAndGlyphs">160</text>
<text x="497.5" y="43.1" text-anchor="end" class="tk" textLength="16.5" lengthAdjust="spacingAndGlyphs">180</text>
<text x="497.5" y="19.8" text-anchor="end" class="tk" textLength="16.5" lengthAdjust="spacingAndGlyphs">200</text>
<text x="501.5" y="236.8" text-anchor="middle" class="tk" textLength="5.6" lengthAdjust="spacingAndGlyphs">0</text>
<text x="564.3" y="236.8" text-anchor="middle" class="tk" textLength="22.4" lengthAdjust="spacingAndGlyphs">1000</text>
<text x="627.1" y="236.8" text-anchor="middle" class="tk" textLength="22.4" lengthAdjust="spacingAndGlyphs">2000</text>
<text x="689.9" y="236.8" text-anchor="middle" class="tk" textLength="22.4" lengthAdjust="spacingAndGlyphs">3000</text>
<text x="752.7" y="236.8" text-anchor="middle" class="tk" textLength="22.4" lengthAdjust="spacingAndGlyphs">4000</text>
<text x="815.5" y="236.8" text-anchor="middle" class="tk" textLength="22.4" lengthAdjust="spacingAndGlyphs">5000</text>
<text x="471.5" y="121" class="al" text-anchor="middle" transform="rotate(-90 471.5 121)" textLength="190" lengthAdjust="spacingAndGlyphs">Electricity Consumption(kwh)</text>
<text x="657.5" y="253.2" class="al" text-anchor="middle" textLength="78.7" lengthAdjust="spacingAndGlyphs">Time(hours)</text>
<rect x="723.5" y="22.5" width="86" height="36.2" fill="#fff" stroke="#111" stroke-width="1"/>
<path d="M731.0 31.4h17.2" stroke="#1c1c60" stroke-width="1.3"/>
<path d="M731.0 47.9h17.2" stroke="#b89494" stroke-width="1.6" stroke-dasharray="6.3 4.9"/>
<text x="760.5" y="35.2" class="lg" textLength="23.7" lengthAdjust="spacingAndGlyphs">data</text>
<text x="760.5" y="51.8" class="lg" textLength="44.8" lengthAdjust="spacingAndGlyphs">forecast</text>
<text x="255.5" y="285.1" class="sub" textLength="14.7" lengthAdjust="spacingAndGlyphs">(a)</text>
<text x="637.2" y="285.3" class="sub" textLength="15" lengthAdjust="spacingAndGlyphs">(b)</text>
<text x="34" y="322.3" class="cap" textLength="839.5" lengthAdjust="spacingAndGlyphs">Figure 6: The predicted time series (red) by LSTw/oAR (a) and by LST-Skip (b) vs. the true data (blue) on electricity dataset with</text>
<text x="34" y="339.8" class="cap2"><tspan font-style="italic">horizon</tspan> = 24</text>
<g fill="none" stroke-linecap="round" stroke-linejoin="round"><path d="M712.5 308.2L710 313.6M710.6 312H719.6M708 319.6H721M715.3 312V321Q714 328 709.2 332.4M716.3 324.8L720.8 331.5M723.4 311.5V330.5M723.4 311.6H730.5V329.5M723.4 328.2H730.5" stroke="#fff" stroke-width="3.0"/><path d="M761 309.2Q752 311.8 741 312.5M743 314.5L745 318.5M757.5 314L755 318.5M738 322H762.8M752.4 312.5V330Q752.4 332.5 747.6 331.5" stroke="#fff" stroke-width="3.0"/><path d="M793.5 319.5Q793 310 786 310Q777 310 776.8 321Q777 332 787 332Q791 332 794 330.5M789.5 316.5L788.2 324Q788 327 791 327Q795.5 326.5 795.5 319.5M789.2 317.5Q786 315.5 783.5 318Q781.5 321 782.5 324.5Q784.5 327.5 788.2 324" stroke="#fff" stroke-width="3.0"/><path d="M805 308.8H818L817.5 315.5M806 309L805.5 317H821.3V329.5Q821.3 331.2 814.5 331M803 324H819" stroke="#fff" stroke-width="3.0"/><path d="M829.6 310.7H853M840.5 307.5L834.5 320.6H852.5M843.1 314.4V330Q843.1 331.8 840 331.5M837 324.3L831.4 330.4M846.8 324.3L853 330.4" stroke="#fff" stroke-width="3.0"/><path d="M862.8 307.7L857.9 319.4M860.9 314.4V331.6M865.2 316.3H880M873.8 307V331.6" stroke="#fff" stroke-width="3.0"/><path d="M893.5 308.3L884.9 319.3M900.9 313.2L886.1 329.2L902 326.7M898.4 323L905.8 330.4" stroke="#fff" stroke-width="3.0"/><path d="M712.5 308.2L710 313.6M710.6 312H719.6M708 319.6H721M715.3 312V321Q714 328 709.2 332.4M716.3 324.8L720.8 331.5M723.4 311.5V330.5M723.4 311.6H730.5V329.5M723.4 328.2H730.5" stroke="#b4b4b4" stroke-width="1.35"/><path d="M761 309.2Q752 311.8 741 312.5M743 314.5L745 318.5M757.5 314L755 318.5M738 322H762.8M752.4 312.5V330Q752.4 332.5 747.6 331.5" stroke="#b4b4b4" stroke-width="1.35"/><path d="M793.5 319.5Q793 310 786 310Q777 310 776.8 321Q777 332 787 332Q791 332 794 330.5M789.5 316.5L788.2 324Q788 327 791 327Q795.5 326.5 795.5 319.5M789.2 317.5Q786 315.5 783.5 318Q781.5 321 782.5 324.5Q784.5 327.5 788.2 324" stroke="#b4b4b4" stroke-width="1.35"/><path d="M805 308.8H818L817.5 315.5M806 309L805.5 317H821.3V329.5Q821.3 331.2 814.5 331M803 324H819" stroke="#b4b4b4" stroke-width="1.35"/><path d="M829.6 310.7H853M840.5 307.5L834.5 320.6H852.5M843.1 314.4V330Q843.1 331.8 840 331.5M837 324.3L831.4 330.4M846.8 324.3L853 330.4" stroke="#b4b4b4" stroke-width="1.35"/><path d="M862.8 307.7L857.9 319.4M860.9 314.4V331.6M865.2 316.3H880M873.8 307V331.6" stroke="#b4b4b4" stroke-width="1.35"/><path d="M893.5 308.3L884.9 319.3M900.9 313.2L886.1 329.2L902 326.7M898.4 323L905.8 330.4" stroke="#b4b4b4" stroke-width="1.35"/></g>
</svg></body></html>
